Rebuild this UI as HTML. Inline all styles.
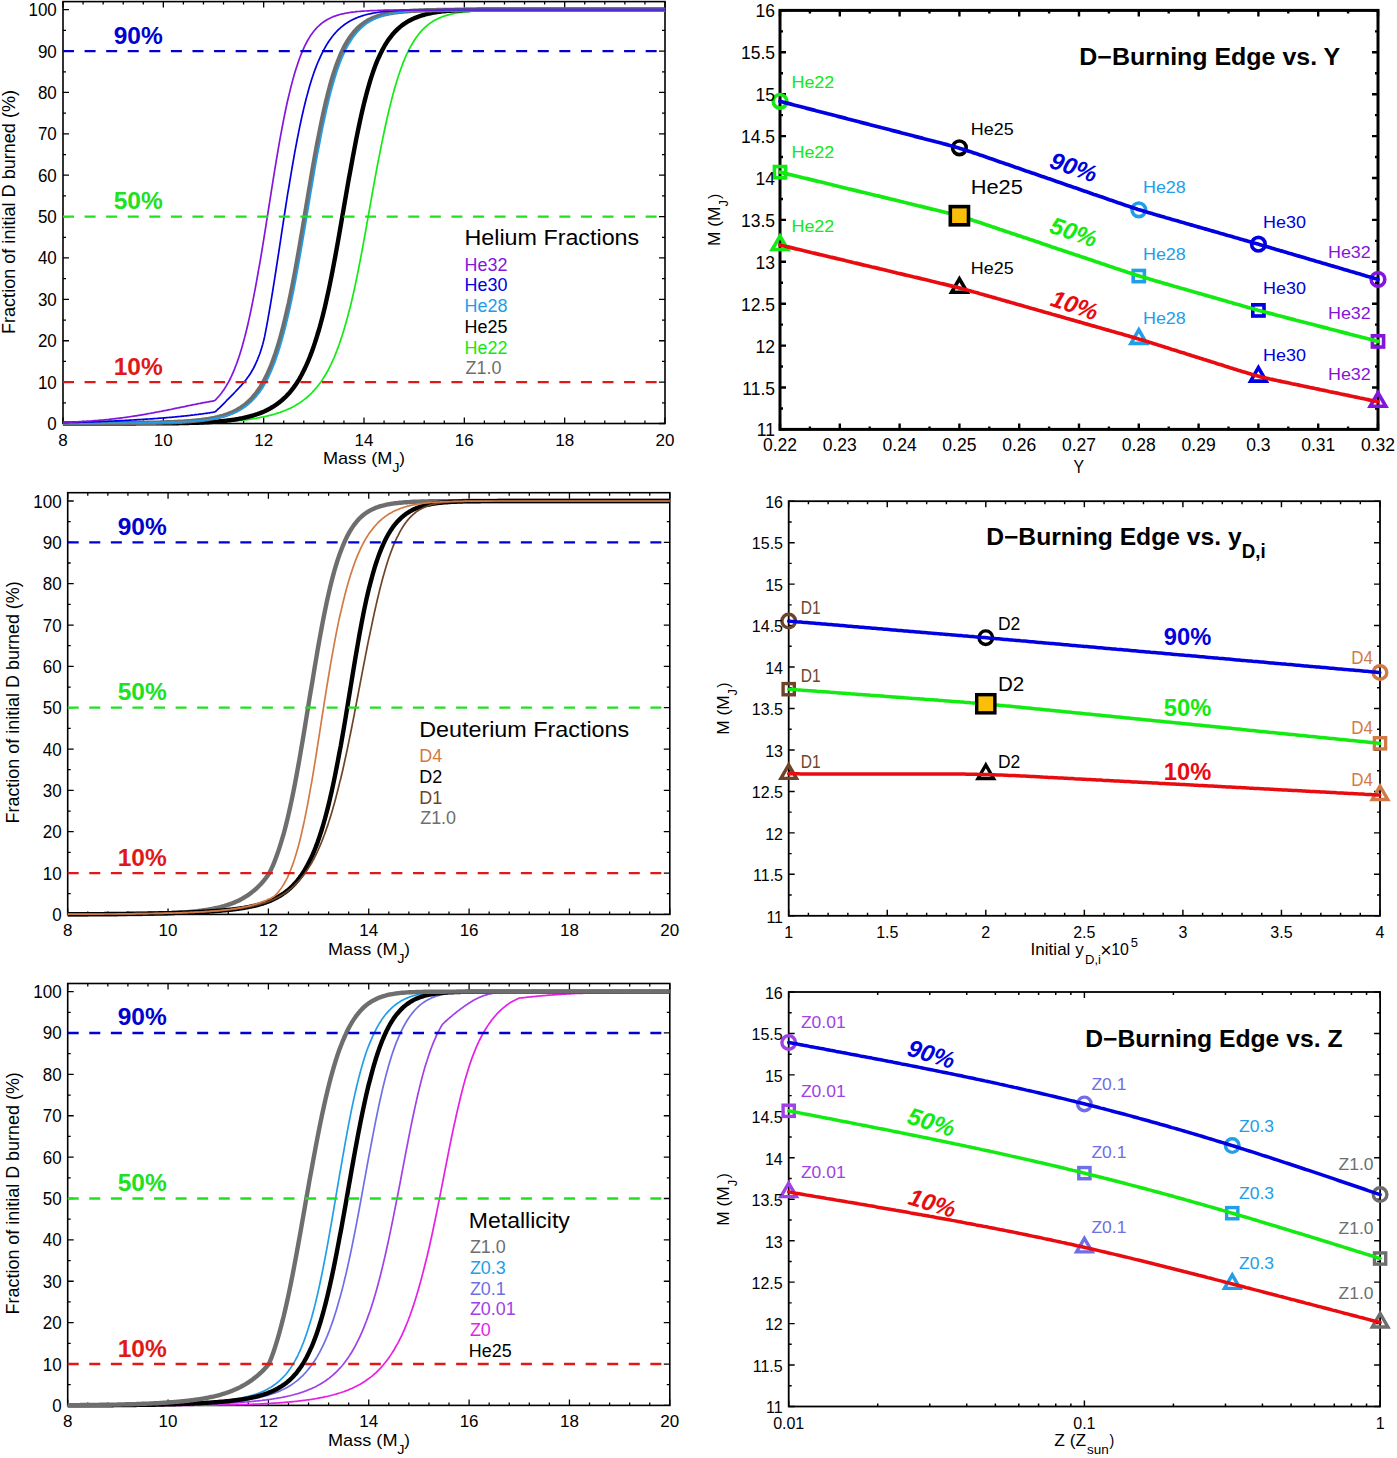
<!DOCTYPE html>
<html><head><meta charset="utf-8"><style>
html,body{margin:0;padding:0;background:#fff;width:1397px;height:1458px;overflow:hidden}
svg{display:block}
text{font-family:"Liberation Sans", sans-serif}
</style></head><body>
<svg width="1397" height="1458" viewBox="0 0 1397 1458">
<rect width="1397" height="1458" fill="#fff"/>
<defs>
<clipPath id="clip1"><rect x="63" y="-1.4" width="602" height="427.9"/></clipPath>
<clipPath id="clip492"><rect x="67.7" y="489.7" width="602.0999999999999" height="427.7"/></clipPath>
<clipPath id="clip983"><rect x="67.7" y="980.5" width="602.0999999999999" height="427.9000000000001"/></clipPath>
</defs>
<path d="M63,423.5v-6M63,1.6v6M163.33,423.5v-6M163.33,1.6v6M263.67,423.5v-6M263.67,1.6v6M364,423.5v-6M364,1.6v6M464.33,423.5v-6M464.33,1.6v6M564.67,423.5v-6M564.67,1.6v6M665,423.5v-6M665,1.6v6M83.07,423.5v-3M83.07,1.6v3M103.13,423.5v-3M103.13,1.6v3M123.2,423.5v-3M123.2,1.6v3M143.27,423.5v-3M143.27,1.6v3M183.4,423.5v-3M183.4,1.6v3M203.47,423.5v-3M203.47,1.6v3M223.53,423.5v-3M223.53,1.6v3M243.6,423.5v-3M243.6,1.6v3M283.73,423.5v-3M283.73,1.6v3M303.8,423.5v-3M303.8,1.6v3M323.87,423.5v-3M323.87,1.6v3M343.93,423.5v-3M343.93,1.6v3M384.07,423.5v-3M384.07,1.6v3M404.13,423.5v-3M404.13,1.6v3M424.2,423.5v-3M424.2,1.6v3M444.27,423.5v-3M444.27,1.6v3M484.4,423.5v-3M484.4,1.6v3M504.47,423.5v-3M504.47,1.6v3M524.53,423.5v-3M524.53,1.6v3M544.6,423.5v-3M544.6,1.6v3M584.73,423.5v-3M584.73,1.6v3M604.8,423.5v-3M604.8,1.6v3M624.87,423.5v-3M624.87,1.6v3M644.93,423.5v-3M644.93,1.6v3M63,423.5h6M665,423.5h-6M63,382.12h6M665,382.12h-6M63,340.74h6M665,340.74h-6M63,299.36h6M665,299.36h-6M63,257.98h6M665,257.98h-6M63,216.6h6M665,216.6h-6M63,175.22h6M665,175.22h-6M63,133.84h6M665,133.84h-6M63,92.46h6M665,92.46h-6M63,51.08h6M665,51.08h-6M63,9.7h6M665,9.7h-6M63,402.81h3M665,402.81h-3M63,361.43h3M665,361.43h-3M63,320.05h3M665,320.05h-3M63,278.67h3M665,278.67h-3M63,237.29h3M665,237.29h-3M63,195.91h3M665,195.91h-3M63,154.53h3M665,154.53h-3M63,113.15h3M665,113.15h-3M63,71.77h3M665,71.77h-3M63,30.39h3M665,30.39h-3" stroke="#000" stroke-width="1.28" fill="none"/>
<rect x="63" y="1.6" width="602" height="421.9" fill="none" stroke="#000" stroke-width="1.6" stroke-linejoin="miter"/>
<g clip-path="url(#clip1)">
<polyline points="63.0,423.5 64.0,423.5 65.0,423.5 66.0,423.5 67.0,423.5 68.0,423.5 69.0,423.5 70.0,423.5 71.0,423.5 72.0,423.5 73.0,423.5 74.0,423.5 75.0,423.5 76.0,423.5 77.0,423.5 78.1,423.5 79.1,423.5 80.1,423.5 81.1,423.5 82.1,423.5 83.1,423.5 84.1,423.5 85.1,423.5 86.1,423.5 87.1,423.5 88.1,423.5 89.1,423.5 90.1,423.5 91.1,423.5 92.1,423.5 93.1,423.5 94.1,423.5 95.1,423.5 96.1,423.5 97.1,423.5 98.1,423.5 99.1,423.5 100.1,423.5 101.1,423.5 102.1,423.5 103.1,423.5 104.1,423.5 105.1,423.5 106.1,423.5 107.1,423.5 108.2,423.5 109.2,423.5 110.2,423.5 111.2,423.5 112.2,423.5 113.2,423.5 114.2,423.5 115.2,423.5 116.2,423.5 117.2,423.5 118.2,423.5 119.2,423.5 120.2,423.5 121.2,423.5 122.2,423.5 123.2,423.5 124.2,423.5 125.2,423.5 126.2,423.5 127.2,423.5 128.2,423.5 129.2,423.5 130.2,423.5 131.2,423.5 132.2,423.5 133.2,423.5 134.2,423.5 135.2,423.5 136.2,423.5 137.2,423.5 138.2,423.5 139.3,423.5 140.3,423.5 141.3,423.5 142.3,423.5 143.3,423.5 144.3,423.4 145.3,423.4 146.3,423.4 147.3,423.4 148.3,423.4 149.3,423.4 150.3,423.4 151.3,423.4 152.3,423.4 153.3,423.4 154.3,423.4 155.3,423.4 156.3,423.4 157.3,423.4 158.3,423.4 159.3,423.4 160.3,423.4 161.3,423.4 162.3,423.4 163.3,423.4 164.3,423.4 165.3,423.4 166.3,423.4 167.3,423.4 168.3,423.4 169.4,423.3 170.4,423.3 171.4,423.3 172.4,423.3 173.4,423.3 174.4,423.3 175.4,423.3 176.4,423.3 177.4,423.3 178.4,423.3 179.4,423.3 180.4,423.3 181.4,423.2 182.4,423.2 183.4,423.2 184.4,423.2 185.4,423.2 186.4,423.2 187.4,423.2 188.4,423.1 189.4,423.1 190.4,423.1 191.4,423.1 192.4,423.1 193.4,423.1 194.4,423.0 195.4,423.0 196.4,423.0 197.4,423.0 198.4,423.0 199.5,422.9 200.5,422.9 201.5,422.9 202.5,422.8 203.5,422.8 204.5,422.8 205.5,422.8 206.5,422.7 207.5,422.7 208.5,422.6 209.5,422.6 210.5,422.6 211.5,422.5 212.5,422.5 213.5,422.4 214.5,422.4 215.5,422.3 216.5,422.3 217.5,422.2 218.5,422.2 219.5,422.1 220.5,422.1 221.5,422.0 222.5,421.9 223.5,421.9 224.5,421.8 225.5,421.7 226.5,421.7 227.5,421.6 228.6,421.5 229.6,421.5 230.6,421.4 231.6,421.3 232.6,421.2 233.6,421.1 234.6,421.0 235.6,420.9 236.6,420.8 237.6,420.7 238.6,420.6 239.6,420.5 240.6,420.4 241.6,420.3 242.6,420.2 243.6,420.1 244.6,420.0 245.6,419.8 246.6,419.7 247.6,419.6 248.6,419.4 249.6,419.3 250.6,419.1 251.6,419.0 252.6,418.8 253.6,418.7 254.6,418.5 255.6,418.4 256.6,418.2 257.6,418.0 258.6,417.8 259.7,417.6 260.7,417.4 261.7,417.2 262.7,417.0 263.7,416.8 264.7,416.6 265.7,416.4 266.7,416.2 267.7,415.9 268.7,415.7 269.7,415.4 270.7,415.2 271.7,414.9 272.7,414.6 273.7,414.3 274.7,414.1 275.7,413.8 276.7,413.4 277.7,413.1 278.7,412.8 279.7,412.5 280.7,412.1 281.7,411.7 282.7,411.4 283.7,411.0 284.7,410.6 285.7,410.2 286.7,409.7 287.7,409.3 288.8,408.9 289.8,408.4 290.8,407.9 291.8,407.4 292.8,406.9 293.8,406.4 294.8,405.8 295.8,405.2 296.8,404.6 297.8,404.0 298.8,403.4 299.8,402.7 300.8,402.1 301.8,401.4 302.8,400.6 303.8,399.9 304.8,399.1 305.8,398.3 306.8,397.5 307.8,396.6 308.8,395.7 309.8,394.8 310.8,393.8 311.8,392.8 312.8,391.7 313.8,390.7 314.8,389.5 315.8,388.4 316.8,387.2 317.8,385.9 318.9,384.6 319.9,383.3 320.9,381.9 321.9,380.4 322.9,378.9 323.9,377.3 324.9,375.7 325.9,374.0 326.9,372.3 327.9,370.5 328.9,368.6 329.9,366.6 330.9,364.6 331.9,362.4 332.9,360.2 333.9,358.0 334.9,355.6 335.9,353.1 336.9,350.6 337.9,347.9 338.9,345.2 339.9,342.3 340.9,339.4 341.9,336.3 342.9,333.2 343.9,329.9 344.9,326.5 345.9,323.0 346.9,319.4 347.9,315.7 348.9,311.8 350.0,307.8 351.0,303.7 352.0,299.5 353.0,295.1 354.0,290.7 355.0,286.1 356.0,281.3 357.0,276.5 358.0,271.6 359.0,266.5 360.0,261.4 361.0,256.1 362.0,250.8 363.0,245.4 364.0,239.9 365.0,234.4 366.0,228.8 367.0,223.2 368.0,217.6 369.0,212.0 370.0,206.3 371.0,200.7 372.0,195.0 373.0,189.4 374.0,183.9 375.0,178.4 376.0,172.9 377.0,167.5 378.0,162.2 379.1,156.9 380.1,151.7 381.1,146.6 382.1,141.7 383.1,136.8 384.1,132.0 385.1,127.3 386.1,122.7 387.1,118.3 388.1,113.9 389.1,109.7 390.1,105.6 391.1,101.6 392.1,97.7 393.1,93.9 394.1,90.3 395.1,86.8 396.1,83.4 397.1,80.1 398.1,77.0 399.1,73.9 400.1,71.0 401.1,68.2 402.1,65.5 403.1,62.9 404.1,60.4 405.1,58.0 406.1,55.7 407.1,53.5 408.1,51.4 409.1,49.4 410.2,47.4 411.2,45.6 412.2,43.8 413.2,42.2 414.2,40.5 415.2,39.0 416.2,37.6 417.2,36.2 418.2,34.8 419.2,33.6 420.2,32.4 421.2,31.2 422.2,30.1 423.2,29.1 424.2,28.1 425.2,27.2 426.2,26.3 427.2,25.4 428.2,24.6 429.2,23.8 430.2,23.1 431.2,22.4 432.2,21.8 433.2,21.1 434.2,20.6 435.2,20.0 436.2,19.5 437.2,18.9 438.2,18.5 439.2,18.0 440.3,17.6 441.3,17.2 442.3,16.8 443.3,16.4 444.3,16.1 445.3,15.7 446.3,15.4 447.3,15.1 448.3,14.8 449.3,14.6 450.3,14.3 451.3,14.1 452.3,13.8 453.3,13.6 454.3,13.4 455.3,13.2 456.3,13.0 457.3,12.9 458.3,12.7 459.3,12.5 460.3,12.4 461.3,12.3 462.3,12.1 463.3,12.0 464.3,11.9 465.3,11.8 466.3,11.7 467.3,11.6 468.3,11.5 469.4,11.4 470.4,11.3 471.4,11.2 472.4,11.1 473.4,11.0 474.4,11.0 475.4,10.9 476.4,10.8 477.4,10.8 478.4,10.7 479.4,10.7 480.4,10.6 481.4,10.6 482.4,10.5 483.4,10.5 484.4,10.4 485.4,10.4 486.4,10.4 487.4,10.3 488.4,10.3 489.4,10.3 490.4,10.2 491.4,10.2 492.4,10.2 493.4,10.2 494.4,10.1 495.4,10.1 496.4,10.1 497.4,10.1 498.4,10.1 499.5,10.0 500.5,10.0 501.5,10.0 502.5,10.0 503.5,10.0 504.5,10.0 505.5,9.9 506.5,9.9 507.5,9.9 508.5,9.9 509.5,9.9 510.5,9.9 511.5,9.9 512.5,9.9 513.5,9.9 514.5,9.9 515.5,9.8 516.5,9.8 517.5,9.8 518.5,9.8 519.5,9.8 520.5,9.8 521.5,9.8 522.5,9.8 523.5,9.8 524.5,9.8 525.5,9.8 526.5,9.8 527.5,9.8 528.5,9.8 529.5,9.8 530.6,9.8 531.6,9.8 532.6,9.8 533.6,9.8 534.6,9.8 535.6,9.7 536.6,9.7 537.6,9.7 538.6,9.7 539.6,9.7 540.6,9.7 541.6,9.7 542.6,9.7 543.6,9.7 544.6,9.7 545.6,9.7 546.6,9.7 547.6,9.7 548.6,9.7 549.6,9.7 550.6,9.7 551.6,9.7 552.6,9.7 553.6,9.7 554.6,9.7 555.6,9.7 556.6,9.7 557.6,9.7 558.6,9.7 559.6,9.7 560.7,9.7 561.7,9.7 562.7,9.7 563.7,9.7 564.7,9.7 565.7,9.7 566.7,9.7 567.7,9.7 568.7,9.7 569.7,9.7 570.7,9.7 571.7,9.7 572.7,9.7 573.7,9.7 574.7,9.7 575.7,9.7 576.7,9.7 577.7,9.7 578.7,9.7 579.7,9.7 580.7,9.7 581.7,9.7 582.7,9.7 583.7,9.7 584.7,9.7 585.7,9.7 586.7,9.7 587.7,9.7 588.7,9.7 589.8,9.7 590.8,9.7 591.8,9.7 592.8,9.7 593.8,9.7 594.8,9.7 595.8,9.7 596.8,9.7 597.8,9.7 598.8,9.7 599.8,9.7 600.8,9.7 601.8,9.7 602.8,9.7 603.8,9.7 604.8,9.7 605.8,9.7 606.8,9.7 607.8,9.7 608.8,9.7 609.8,9.7 610.8,9.7 611.8,9.7 612.8,9.7 613.8,9.7 614.8,9.7 615.8,9.7 616.8,9.7 617.8,9.7 618.8,9.7 619.9,9.7 620.9,9.7 621.9,9.7 622.9,9.7 623.9,9.7 624.9,9.7 625.9,9.7 626.9,9.7 627.9,9.7 628.9,9.7 629.9,9.7 630.9,9.7 631.9,9.7 632.9,9.7 633.9,9.7 634.9,9.7 635.9,9.7 636.9,9.7 637.9,9.7 638.9,9.7 639.9,9.7 640.9,9.7 641.9,9.7 642.9,9.7 643.9,9.7 644.9,9.7 645.9,9.7 646.9,9.7 647.9,9.7 648.9,9.7 650.0,9.7 651.0,9.7 652.0,9.7 653.0,9.7 654.0,9.7 655.0,9.7 656.0,9.7 657.0,9.7 658.0,9.7 659.0,9.7 660.0,9.7 661.0,9.7 662.0,9.7 663.0,9.7 664.0,9.7 665.0,9.7" fill="none" stroke="#12ea12" stroke-width="1.7" stroke-linejoin="round" stroke-linecap="round" />
<polyline points="63.0,423.5 64.0,423.5 65.0,423.5 66.0,423.5 67.0,423.5 68.0,423.5 69.0,423.5 70.0,423.5 71.0,423.5 72.0,423.5 73.0,423.5 74.0,423.5 75.0,423.5 76.0,423.5 77.0,423.5 78.1,423.5 79.1,423.5 80.1,423.5 81.1,423.5 82.1,423.5 83.1,423.5 84.1,423.5 85.1,423.5 86.1,423.5 87.1,423.5 88.1,423.5 89.1,423.5 90.1,423.5 91.1,423.5 92.1,423.5 93.1,423.5 94.1,423.5 95.1,423.5 96.1,423.5 97.1,423.5 98.1,423.5 99.1,423.5 100.1,423.5 101.1,423.5 102.1,423.5 103.1,423.5 104.1,423.5 105.1,423.5 106.1,423.5 107.1,423.5 108.2,423.5 109.2,423.5 110.2,423.5 111.2,423.5 112.2,423.5 113.2,423.5 114.2,423.5 115.2,423.5 116.2,423.5 117.2,423.5 118.2,423.5 119.2,423.5 120.2,423.5 121.2,423.5 122.2,423.5 123.2,423.5 124.2,423.5 125.2,423.5 126.2,423.5 127.2,423.5 128.2,423.5 129.2,423.5 130.2,423.5 131.2,423.5 132.2,423.5 133.2,423.5 134.2,423.5 135.2,423.5 136.2,423.4 137.2,423.4 138.2,423.4 139.3,423.4 140.3,423.4 141.3,423.4 142.3,423.4 143.3,423.4 144.3,423.4 145.3,423.4 146.3,423.4 147.3,423.4 148.3,423.4 149.3,423.4 150.3,423.4 151.3,423.4 152.3,423.4 153.3,423.4 154.3,423.4 155.3,423.4 156.3,423.4 157.3,423.4 158.3,423.4 159.3,423.4 160.3,423.3 161.3,423.3 162.3,423.3 163.3,423.3 164.3,423.3 165.3,423.3 166.3,423.3 167.3,423.3 168.3,423.3 169.4,423.3 170.4,423.3 171.4,423.3 172.4,423.2 173.4,423.2 174.4,423.2 175.4,423.2 176.4,423.2 177.4,423.2 178.4,423.2 179.4,423.1 180.4,423.1 181.4,423.1 182.4,423.1 183.4,423.1 184.4,423.1 185.4,423.0 186.4,423.0 187.4,423.0 188.4,423.0 189.4,422.9 190.4,422.9 191.4,422.9 192.4,422.9 193.4,422.8 194.4,422.8 195.4,422.8 196.4,422.7 197.4,422.7 198.4,422.7 199.5,422.6 200.5,422.6 201.5,422.6 202.5,422.5 203.5,422.5 204.5,422.4 205.5,422.4 206.5,422.3 207.5,422.3 208.5,422.2 209.5,422.1 210.5,422.1 211.5,422.0 212.5,421.9 213.5,421.9 214.5,421.8 215.5,421.7 216.5,421.6 217.5,421.6 218.5,421.5 219.5,421.4 220.5,421.3 221.5,421.2 222.5,421.1 223.5,421.0 224.5,420.9 225.5,420.8 226.5,420.7 227.5,420.5 228.6,420.4 229.6,420.3 230.6,420.1 231.6,420.0 232.6,419.9 233.6,419.7 234.6,419.6 235.6,419.4 236.6,419.2 237.6,419.1 238.6,418.9 239.6,418.7 240.6,418.5 241.6,418.3 242.6,418.1 243.6,417.9 244.6,417.7 245.6,417.5 246.6,417.2 247.6,417.0 248.6,416.7 249.6,416.5 250.6,416.2 251.6,415.9 252.6,415.6 253.6,415.3 254.6,415.0 255.6,414.7 256.6,414.3 257.6,414.0 258.6,413.6 259.7,413.3 260.7,412.9 261.7,412.5 262.7,412.1 263.7,411.6 264.7,411.2 265.7,410.7 266.7,410.2 267.7,409.7 268.7,409.2 269.7,408.7 270.7,408.1 271.7,407.5 272.7,406.9 273.7,406.3 274.7,405.7 275.7,405.0 276.7,404.3 277.7,403.6 278.7,402.8 279.7,402.1 280.7,401.2 281.7,400.4 282.7,399.5 283.7,398.6 284.7,397.7 285.7,396.7 286.7,395.7 287.7,394.6 288.8,393.5 289.8,392.4 290.8,391.2 291.8,389.9 292.8,388.6 293.8,387.3 294.8,385.9 295.8,384.5 296.8,383.0 297.8,381.4 298.8,379.8 299.8,378.1 300.8,376.3 301.8,374.5 302.8,372.6 303.8,370.6 304.8,368.5 305.8,366.4 306.8,364.2 307.8,361.9 308.8,359.5 309.8,357.0 310.8,354.4 311.8,351.8 312.8,349.0 313.8,346.1 314.8,343.1 315.8,340.0 316.8,336.8 317.8,333.5 318.9,330.0 319.9,326.5 320.9,322.8 321.9,319.0 322.9,315.1 323.9,311.0 324.9,306.9 325.9,302.5 326.9,298.1 327.9,293.6 328.9,288.9 329.9,284.1 330.9,279.1 331.9,274.1 332.9,268.9 333.9,263.7 334.9,258.3 335.9,252.9 336.9,247.4 337.9,241.8 338.9,236.1 339.9,230.4 340.9,224.6 341.9,218.8 342.9,213.0 343.9,207.2 344.9,201.4 345.9,195.6 346.9,189.8 347.9,184.0 348.9,178.3 350.0,172.7 351.0,167.1 352.0,161.6 353.0,156.2 354.0,150.8 355.0,145.6 356.0,140.4 357.0,135.4 358.0,130.5 359.0,125.7 360.0,121.0 361.0,116.4 362.0,112.0 363.0,107.7 364.0,103.6 365.0,99.6 366.0,95.7 367.0,91.9 368.0,88.3 369.0,84.8 370.0,81.4 371.0,78.2 372.0,75.1 373.0,72.1 374.0,69.3 375.0,66.5 376.0,63.9 377.0,61.4 378.0,59.0 379.1,56.7 380.1,54.5 381.1,52.5 382.1,50.5 383.1,48.6 384.1,46.8 385.1,45.0 386.1,43.4 387.1,41.8 388.1,40.3 389.1,38.9 390.1,37.6 391.1,36.3 392.1,35.0 393.1,33.8 394.1,32.7 395.1,31.6 396.1,30.6 397.1,29.6 398.1,28.7 399.1,27.8 400.1,26.9 401.1,26.1 402.1,25.3 403.1,24.6 404.1,23.9 405.1,23.2 406.1,22.6 407.1,21.9 408.1,21.3 409.1,20.8 410.2,20.2 411.2,19.7 412.2,19.2 413.2,18.8 414.2,18.3 415.2,17.9 416.2,17.5 417.2,17.1 418.2,16.7 419.2,16.3 420.2,16.0 421.2,15.7 422.2,15.3 423.2,15.0 424.2,14.8 425.2,14.5 426.2,14.2 427.2,14.0 428.2,13.7 429.2,13.5 430.2,13.3 431.2,13.1 432.2,12.9 433.2,12.7 434.2,12.5 435.2,12.4 436.2,12.2 437.2,12.1 438.2,11.9 439.2,11.8 440.3,11.7 441.3,11.5 442.3,11.4 443.3,11.3 444.3,11.2 445.3,11.1 446.3,11.0 447.3,10.9 448.3,10.8 449.3,10.8 450.3,10.7 451.3,10.6 452.3,10.6 453.3,10.5 454.3,10.4 455.3,10.4 456.3,10.3 457.3,10.3 458.3,10.3 459.3,10.2 460.3,10.2 461.3,10.2 462.3,10.1 463.3,10.1 464.3,10.1 465.3,10.0 466.3,10.0 467.3,10.0 468.3,10.0 469.4,10.0 470.4,9.9 471.4,9.9 472.4,9.9 473.4,9.9 474.4,9.9 475.4,9.9 476.4,9.9 477.4,9.8 478.4,9.8 479.4,9.8 480.4,9.8 481.4,9.8 482.4,9.8 483.4,9.8 484.4,9.8 485.4,9.8 486.4,9.8 487.4,9.8 488.4,9.8 489.4,9.8 490.4,9.8 491.4,9.8 492.4,9.7 493.4,9.7 494.4,9.7 495.4,9.7 496.4,9.7 497.4,9.7 498.4,9.7 499.5,9.7 500.5,9.7 501.5,9.7 502.5,9.7 503.5,9.7 504.5,9.7 505.5,9.7 506.5,9.7 507.5,9.7 508.5,9.7 509.5,9.7 510.5,9.7 511.5,9.7 512.5,9.7 513.5,9.7 514.5,9.7 515.5,9.7 516.5,9.7 517.5,9.7 518.5,9.7 519.5,9.7 520.5,9.7 521.5,9.7 522.5,9.7 523.5,9.7 524.5,9.7 525.5,9.7 526.5,9.7 527.5,9.7 528.5,9.7 529.5,9.7 530.6,9.7 531.6,9.7 532.6,9.7 533.6,9.7 534.6,9.7 535.6,9.7 536.6,9.7 537.6,9.7 538.6,9.7 539.6,9.7 540.6,9.7 541.6,9.7 542.6,9.7 543.6,9.7 544.6,9.7 545.6,9.7 546.6,9.7 547.6,9.7 548.6,9.7 549.6,9.7 550.6,9.7 551.6,9.7 552.6,9.7 553.6,9.7 554.6,9.7 555.6,9.7 556.6,9.7 557.6,9.7 558.6,9.7 559.6,9.7 560.7,9.7 561.7,9.7 562.7,9.7 563.7,9.7 564.7,9.7 565.7,9.7 566.7,9.7 567.7,9.7 568.7,9.7 569.7,9.7 570.7,9.7 571.7,9.7 572.7,9.7 573.7,9.7 574.7,9.7 575.7,9.7 576.7,9.7 577.7,9.7 578.7,9.7 579.7,9.7 580.7,9.7 581.7,9.7 582.7,9.7 583.7,9.7 584.7,9.7 585.7,9.7 586.7,9.7 587.7,9.7 588.7,9.7 589.8,9.7 590.8,9.7 591.8,9.7 592.8,9.7 593.8,9.7 594.8,9.7 595.8,9.7 596.8,9.7 597.8,9.7 598.8,9.7 599.8,9.7 600.8,9.7 601.8,9.7 602.8,9.7 603.8,9.7 604.8,9.7 605.8,9.7 606.8,9.7 607.8,9.7 608.8,9.7 609.8,9.7 610.8,9.7 611.8,9.7 612.8,9.7 613.8,9.7 614.8,9.7 615.8,9.7 616.8,9.7 617.8,9.7 618.8,9.7 619.9,9.7 620.9,9.7 621.9,9.7 622.9,9.7 623.9,9.7 624.9,9.7 625.9,9.7 626.9,9.7 627.9,9.7 628.9,9.7 629.9,9.7 630.9,9.7 631.9,9.7 632.9,9.7 633.9,9.7 634.9,9.7 635.9,9.7 636.9,9.7 637.9,9.7 638.9,9.7 639.9,9.7 640.9,9.7 641.9,9.7 642.9,9.7 643.9,9.7 644.9,9.7 645.9,9.7 646.9,9.7 647.9,9.7 648.9,9.7 650.0,9.7 651.0,9.7 652.0,9.7 653.0,9.7 654.0,9.7 655.0,9.7 656.0,9.7 657.0,9.7 658.0,9.7 659.0,9.7 660.0,9.7 661.0,9.7 662.0,9.7 663.0,9.7 664.0,9.7 665.0,9.7" fill="none" stroke="#000000" stroke-width="4.4" stroke-linejoin="round" stroke-linecap="round" />
<polyline points="63.0,423.4 64.0,423.4 65.0,423.4 66.0,423.4 67.0,423.4 68.0,423.4 69.0,423.4 70.0,423.4 71.0,423.4 72.0,423.4 73.0,423.4 74.0,423.4 75.0,423.4 76.0,423.4 77.0,423.4 78.1,423.4 79.1,423.4 80.1,423.4 81.1,423.4 82.1,423.4 83.1,423.4 84.1,423.4 85.1,423.4 86.1,423.4 87.1,423.4 88.1,423.4 89.1,423.4 90.1,423.4 91.1,423.4 92.1,423.4 93.1,423.4 94.1,423.4 95.1,423.3 96.1,423.3 97.1,423.3 98.1,423.3 99.1,423.3 100.1,423.3 101.1,423.3 102.1,423.3 103.1,423.3 104.1,423.3 105.1,423.3 106.1,423.3 107.1,423.3 108.2,423.3 109.2,423.3 110.2,423.3 111.2,423.3 112.2,423.3 113.2,423.2 114.2,423.2 115.2,423.2 116.2,423.2 117.2,423.2 118.2,423.2 119.2,423.2 120.2,423.2 121.2,423.2 122.2,423.2 123.2,423.2 124.2,423.2 125.2,423.1 126.2,423.1 127.2,423.1 128.2,423.1 129.2,423.1 130.2,423.1 131.2,423.1 132.2,423.1 133.2,423.1 134.2,423.0 135.2,423.0 136.2,423.0 137.2,423.0 138.2,423.0 139.3,423.0 140.3,423.0 141.3,422.9 142.3,422.9 143.3,422.9 144.3,422.9 145.3,422.9 146.3,422.8 147.3,422.8 148.3,422.8 149.3,422.8 150.3,422.8 151.3,422.7 152.3,422.7 153.3,422.7 154.3,422.7 155.3,422.7 156.3,422.6 157.3,422.6 158.3,422.6 159.3,422.6 160.3,422.5 161.3,422.5 162.3,422.5 163.3,422.4 164.3,422.4 165.3,422.4 166.3,422.3 167.3,422.3 168.3,422.3 169.4,422.2 170.4,422.2 171.4,422.2 172.4,422.1 173.4,422.1 174.4,422.0 175.4,422.0 176.4,421.9 177.4,421.9 178.4,421.8 179.4,421.8 180.4,421.7 181.4,421.7 182.4,421.6 183.4,421.6 184.4,421.5 185.4,421.4 186.4,421.4 187.4,421.3 188.4,421.2 189.4,421.1 190.4,421.1 191.4,421.0 192.4,420.9 193.4,420.8 194.4,420.7 195.4,420.6 196.4,420.5 197.4,420.4 198.4,420.3 199.5,420.2 200.5,420.1 201.5,420.0 202.5,419.8 203.5,419.7 204.5,419.6 205.5,419.4 206.5,419.3 207.5,419.1 208.5,419.0 209.5,418.8 210.5,418.6 211.5,418.4 212.5,418.3 213.5,418.1 214.5,417.9 215.5,417.6 216.5,417.4 217.5,417.2 218.5,416.9 219.5,416.7 220.5,416.4 221.5,416.1 222.5,415.9 223.5,415.6 224.5,415.2 225.5,414.9 226.5,414.6 227.5,414.2 228.6,413.8 229.6,413.4 230.6,413.0 231.6,412.6 232.6,412.2 233.6,411.7 234.6,411.2 235.6,410.7 236.6,410.2 237.6,409.6 238.6,409.0 239.6,408.4 240.6,407.8 241.6,407.1 242.6,406.4 243.6,405.7 244.6,404.9 245.6,404.1 246.6,403.3 247.6,402.4 248.6,401.5 249.6,400.5 250.6,399.5 251.6,398.5 252.6,397.4 253.6,396.2 254.6,395.0 255.6,393.8 256.6,392.5 257.6,391.1 258.6,389.6 259.7,388.1 260.7,386.6 261.7,384.9 262.7,383.2 263.7,381.4 264.7,379.6 265.7,377.6 266.7,375.6 267.7,373.4 268.7,371.2 269.7,368.9 270.7,366.5 271.7,364.0 272.7,361.4 273.7,358.6 274.7,355.8 275.7,352.9 276.7,349.8 277.7,346.6 278.7,343.3 279.7,339.9 280.7,336.3 281.7,332.6 282.7,328.8 283.7,324.9 284.7,320.8 285.7,316.6 286.7,312.3 287.7,307.8 288.8,303.2 289.8,298.5 290.8,293.7 291.8,288.7 292.8,283.6 293.8,278.4 294.8,273.1 295.8,267.6 296.8,262.1 297.8,256.5 298.8,250.8 299.8,245.0 300.8,239.2 301.8,233.3 302.8,227.4 303.8,221.4 304.8,215.4 305.8,209.4 306.8,203.4 307.8,197.4 308.8,191.4 309.8,185.5 310.8,179.6 311.8,173.7 312.8,167.9 313.8,162.2 314.8,156.6 315.8,151.1 316.8,145.6 317.8,140.3 318.9,135.1 319.9,130.0 320.9,125.0 321.9,120.1 322.9,115.4 323.9,110.8 324.9,106.4 325.9,102.1 326.9,97.9 327.9,93.9 328.9,90.0 329.9,86.3 330.9,82.7 331.9,79.2 332.9,75.9 333.9,72.7 334.9,69.6 335.9,66.7 336.9,63.9 337.9,61.2 338.9,58.7 339.9,56.2 340.9,53.9 341.9,51.7 342.9,49.6 343.9,47.6 344.9,45.6 345.9,43.8 346.9,42.1 347.9,40.4 348.9,38.9 350.0,37.4 351.0,36.0 352.0,34.6 353.0,33.4 354.0,32.1 355.0,31.0 356.0,29.9 357.0,28.9 358.0,27.9 359.0,27.0 360.0,26.1 361.0,25.2 362.0,24.5 363.0,23.7 364.0,23.0 365.0,22.3 366.0,21.7 367.0,21.1 368.0,20.5 369.0,19.9 370.0,19.4 371.0,18.9 372.0,18.5 373.0,18.0 374.0,17.6 375.0,17.2 376.0,16.8 377.0,16.5 378.0,16.1 379.1,15.8 380.1,15.5 381.1,15.2 382.1,14.9 383.1,14.7 384.1,14.4 385.1,14.2 386.1,14.0 387.1,13.8 388.1,13.6 389.1,13.4 390.1,13.2 391.1,13.0 392.1,12.9 393.1,12.7 394.1,12.5 395.1,12.4 396.1,12.3 397.1,12.2 398.1,12.0 399.1,11.9 400.1,11.8 401.1,11.7 402.1,11.6 403.1,11.5 404.1,11.4 405.1,11.3 406.1,11.3 407.1,11.2 408.1,11.1 409.1,11.1 410.2,11.0 411.2,10.9 412.2,10.9 413.2,10.8 414.2,10.8 415.2,10.7 416.2,10.7 417.2,10.6 418.2,10.6 419.2,10.5 420.2,10.5 421.2,10.5 422.2,10.4 423.2,10.4 424.2,10.4 425.2,10.3 426.2,10.3 427.2,10.3 428.2,10.2 429.2,10.2 430.2,10.2 431.2,10.2 432.2,10.1 433.2,10.1 434.2,10.1 435.2,10.1 436.2,10.1 437.2,10.0 438.2,10.0 439.2,10.0 440.3,10.0 441.3,10.0 442.3,10.0 443.3,10.0 444.3,9.9 445.3,9.9 446.3,9.9 447.3,9.9 448.3,9.9 449.3,9.9 450.3,9.9 451.3,9.9 452.3,9.9 453.3,9.9 454.3,9.9 455.3,9.8 456.3,9.8 457.3,9.8 458.3,9.8 459.3,9.8 460.3,9.8 461.3,9.8 462.3,9.8 463.3,9.8 464.3,9.8 465.3,9.8 466.3,9.8 467.3,9.8 468.3,9.8 469.4,9.8 470.4,9.8 471.4,9.8 472.4,9.8 473.4,9.8 474.4,9.8 475.4,9.8 476.4,9.8 477.4,9.7 478.4,9.7 479.4,9.7 480.4,9.7 481.4,9.7 482.4,9.7 483.4,9.7 484.4,9.7 485.4,9.7 486.4,9.7 487.4,9.7 488.4,9.7 489.4,9.7 490.4,9.7 491.4,9.7 492.4,9.7 493.4,9.7 494.4,9.7 495.4,9.7 496.4,9.7 497.4,9.7 498.4,9.7 499.5,9.7 500.5,9.7 501.5,9.7 502.5,9.7 503.5,9.7 504.5,9.7 505.5,9.7 506.5,9.7 507.5,9.7 508.5,9.7 509.5,9.7 510.5,9.7 511.5,9.7 512.5,9.7 513.5,9.7 514.5,9.7 515.5,9.7 516.5,9.7 517.5,9.7 518.5,9.7 519.5,9.7 520.5,9.7 521.5,9.7 522.5,9.7 523.5,9.7 524.5,9.7 525.5,9.7 526.5,9.7 527.5,9.7 528.5,9.7 529.5,9.7 530.6,9.7 531.6,9.7 532.6,9.7 533.6,9.7 534.6,9.7 535.6,9.7 536.6,9.7 537.6,9.7 538.6,9.7 539.6,9.7 540.6,9.7 541.6,9.7 542.6,9.7 543.6,9.7 544.6,9.7 545.6,9.7 546.6,9.7 547.6,9.7 548.6,9.7 549.6,9.7 550.6,9.7 551.6,9.7 552.6,9.7 553.6,9.7 554.6,9.7 555.6,9.7 556.6,9.7 557.6,9.7 558.6,9.7 559.6,9.7 560.7,9.7 561.7,9.7 562.7,9.7 563.7,9.7 564.7,9.7 565.7,9.7 566.7,9.7 567.7,9.7 568.7,9.7 569.7,9.7 570.7,9.7 571.7,9.7 572.7,9.7 573.7,9.7 574.7,9.7 575.7,9.7 576.7,9.7 577.7,9.7 578.7,9.7 579.7,9.7 580.7,9.7 581.7,9.7 582.7,9.7 583.7,9.7 584.7,9.7 585.7,9.7 586.7,9.7 587.7,9.7 588.7,9.7 589.8,9.7 590.8,9.7 591.8,9.7 592.8,9.7 593.8,9.7 594.8,9.7 595.8,9.7 596.8,9.7 597.8,9.7 598.8,9.7 599.8,9.7 600.8,9.7 601.8,9.7 602.8,9.7 603.8,9.7 604.8,9.7 605.8,9.7 606.8,9.7 607.8,9.7 608.8,9.7 609.8,9.7 610.8,9.7 611.8,9.7 612.8,9.7 613.8,9.7 614.8,9.7 615.8,9.7 616.8,9.7 617.8,9.7 618.8,9.7 619.9,9.7 620.9,9.7 621.9,9.7 622.9,9.7 623.9,9.7 624.9,9.7 625.9,9.7 626.9,9.7 627.9,9.7 628.9,9.7 629.9,9.7 630.9,9.7 631.9,9.7 632.9,9.7 633.9,9.7 634.9,9.7 635.9,9.7 636.9,9.7 637.9,9.7 638.9,9.7 639.9,9.7 640.9,9.7 641.9,9.7 642.9,9.7 643.9,9.7 644.9,9.7 645.9,9.7 646.9,9.7 647.9,9.7 648.9,9.7 650.0,9.7 651.0,9.7 652.0,9.7 653.0,9.7 654.0,9.7 655.0,9.7 656.0,9.7 657.0,9.7 658.0,9.7 659.0,9.7 660.0,9.7 661.0,9.7 662.0,9.7 663.0,9.7 664.0,9.7 665.0,9.7" fill="none" stroke="#6e6e6e" stroke-width="4.4" stroke-linejoin="round" stroke-linecap="round" />
<polyline points="63.0,423.4 64.0,423.4 65.0,423.4 66.0,423.4 67.0,423.4 68.0,423.4 69.0,423.4 70.0,423.4 71.0,423.4 72.0,423.4 73.0,423.4 74.0,423.4 75.0,423.4 76.0,423.4 77.0,423.4 78.1,423.4 79.1,423.4 80.1,423.3 81.1,423.3 82.1,423.3 83.1,423.3 84.1,423.3 85.1,423.3 86.1,423.3 87.1,423.3 88.1,423.3 89.1,423.3 90.1,423.3 91.1,423.3 92.1,423.3 93.1,423.3 94.1,423.3 95.1,423.3 96.1,423.3 97.1,423.3 98.1,423.3 99.1,423.3 100.1,423.3 101.1,423.3 102.1,423.2 103.1,423.2 104.1,423.2 105.1,423.2 106.1,423.2 107.1,423.2 108.2,423.2 109.2,423.2 110.2,423.2 111.2,423.2 112.2,423.2 113.2,423.2 114.2,423.2 115.2,423.2 116.2,423.1 117.2,423.1 118.2,423.1 119.2,423.1 120.2,423.1 121.2,423.1 122.2,423.1 123.2,423.1 124.2,423.1 125.2,423.1 126.2,423.1 127.2,423.0 128.2,423.0 129.2,423.0 130.2,423.0 131.2,423.0 132.2,423.0 133.2,423.0 134.2,423.0 135.2,423.0 136.2,422.9 137.2,422.9 138.2,422.9 139.3,422.9 140.3,422.9 141.3,422.9 142.3,422.9 143.3,422.8 144.3,422.8 145.3,422.8 146.3,422.8 147.3,422.8 148.3,422.8 149.3,422.7 150.3,422.7 151.3,422.7 152.3,422.7 153.3,422.7 154.3,422.6 155.3,422.6 156.3,422.6 157.3,422.6 158.3,422.6 159.3,422.5 160.3,422.5 161.3,422.5 162.3,422.5 163.3,422.4 164.3,422.4 165.3,422.4 166.3,422.4 167.3,422.3 168.3,422.3 169.4,422.3 170.4,422.2 171.4,422.2 172.4,422.2 173.4,422.1 174.4,422.1 175.4,422.1 176.4,422.0 177.4,422.0 178.4,421.9 179.4,421.9 180.4,421.9 181.4,421.8 182.4,421.8 183.4,421.7 184.4,421.7 185.4,421.6 186.4,421.6 187.4,421.5 188.4,421.4 189.4,421.4 190.4,421.3 191.4,421.2 192.4,421.2 193.4,421.1 194.4,421.0 195.4,420.9 196.4,420.8 197.4,420.8 198.4,420.7 199.5,420.6 200.5,420.5 201.5,420.4 202.5,420.3 203.5,420.2 204.5,420.0 205.5,419.9 206.5,419.8 207.5,419.7 208.5,419.5 209.5,419.4 210.5,419.2 211.5,419.1 212.5,418.9 213.5,418.7 214.5,418.6 215.5,418.4 216.5,418.2 217.5,418.0 218.5,417.8 219.5,417.6 220.5,417.3 221.5,417.1 222.5,416.8 223.5,416.6 224.5,416.3 225.5,416.0 226.5,415.7 227.5,415.4 228.6,415.1 229.6,414.7 230.6,414.4 231.6,414.0 232.6,413.6 233.6,413.2 234.6,412.8 235.6,412.3 236.6,411.9 237.6,411.4 238.6,410.9 239.6,410.3 240.6,409.8 241.6,409.2 242.6,408.6 243.6,407.9 244.6,407.2 245.6,406.5 246.6,405.8 247.6,405.0 248.6,404.2 249.6,403.3 250.6,402.4 251.6,401.5 252.6,400.5 253.6,399.5 254.6,398.4 255.6,397.3 256.6,396.1 257.6,394.8 258.6,393.5 259.7,392.2 260.7,390.8 261.7,389.3 262.7,387.7 263.7,386.1 264.7,384.4 265.7,382.6 266.7,380.8 267.7,378.8 268.7,376.8 269.7,374.7 270.7,372.5 271.7,370.1 272.7,367.7 273.7,365.2 274.7,362.6 275.7,359.9 276.7,357.0 277.7,354.1 278.7,351.0 279.7,347.8 280.7,344.5 281.7,341.1 282.7,337.5 283.7,333.8 284.7,330.0 285.7,326.1 286.7,322.0 287.7,317.8 288.8,313.4 289.8,308.9 290.8,304.3 291.8,299.6 292.8,294.8 293.8,289.8 294.8,284.7 295.8,279.5 296.8,274.1 297.8,268.7 298.8,263.2 299.8,257.6 300.8,251.9 301.8,246.1 302.8,240.3 303.8,234.4 304.8,228.5 305.8,222.6 306.8,216.6 307.8,210.6 308.8,204.6 309.8,198.7 310.8,192.7 311.8,186.8 312.8,181.0 313.8,175.2 314.8,169.4 315.8,163.7 316.8,158.2 317.8,152.7 318.9,147.3 319.9,142.0 320.9,136.8 321.9,131.7 322.9,126.8 323.9,122.0 324.9,117.3 325.9,112.7 326.9,108.3 327.9,104.0 328.9,99.9 329.9,95.9 330.9,92.0 331.9,88.3 332.9,84.7 333.9,81.2 334.9,77.9 335.9,74.7 336.9,71.6 337.9,68.7 338.9,65.9 339.9,63.2 340.9,60.6 341.9,58.2 342.9,55.8 343.9,53.6 344.9,51.4 345.9,49.4 346.9,47.4 347.9,45.6 348.9,43.8 350.0,42.2 351.0,40.6 352.0,39.0 353.0,37.6 354.0,36.2 355.0,34.9 356.0,33.7 357.0,32.5 358.0,31.4 359.0,30.3 360.0,29.3 361.0,28.3 362.0,27.4 363.0,26.5 364.0,25.7 365.0,24.9 366.0,24.1 367.0,23.4 368.0,22.7 369.0,22.1 370.0,21.5 371.0,20.9 372.0,20.4 373.0,19.8 374.0,19.3 375.0,18.9 376.0,18.4 377.0,18.0 378.0,17.6 379.1,17.2 380.1,16.8 381.1,16.5 382.1,16.1 383.1,15.8 384.1,15.5 385.1,15.2 386.1,15.0 387.1,14.7 388.1,14.5 389.1,14.2 390.1,14.0 391.1,13.8 392.1,13.6 393.1,13.4 394.1,13.2 395.1,13.0 396.1,12.9 397.1,12.7 398.1,12.6 399.1,12.4 400.1,12.3 401.1,12.2 402.1,12.1 403.1,11.9 404.1,11.8 405.1,11.7 406.1,11.6 407.1,11.5 408.1,11.4 409.1,11.3 410.2,11.3 411.2,11.2 412.2,11.1 413.2,11.0 414.2,11.0 415.2,10.9 416.2,10.9 417.2,10.8 418.2,10.7 419.2,10.7 420.2,10.6 421.2,10.6 422.2,10.5 423.2,10.5 424.2,10.5 425.2,10.4 426.2,10.4 427.2,10.4 428.2,10.3 429.2,10.3 430.2,10.3 431.2,10.2 432.2,10.2 433.2,10.2 434.2,10.2 435.2,10.1 436.2,10.1 437.2,10.1 438.2,10.1 439.2,10.1 440.3,10.0 441.3,10.0 442.3,10.0 443.3,10.0 444.3,10.0 445.3,10.0 446.3,9.9 447.3,9.9 448.3,9.9 449.3,9.9 450.3,9.9 451.3,9.9 452.3,9.9 453.3,9.9 454.3,9.9 455.3,9.9 456.3,9.8 457.3,9.8 458.3,9.8 459.3,9.8 460.3,9.8 461.3,9.8 462.3,9.8 463.3,9.8 464.3,9.8 465.3,9.8 466.3,9.8 467.3,9.8 468.3,9.8 469.4,9.8 470.4,9.8 471.4,9.8 472.4,9.8 473.4,9.8 474.4,9.8 475.4,9.8 476.4,9.8 477.4,9.8 478.4,9.7 479.4,9.7 480.4,9.7 481.4,9.7 482.4,9.7 483.4,9.7 484.4,9.7 485.4,9.7 486.4,9.7 487.4,9.7 488.4,9.7 489.4,9.7 490.4,9.7 491.4,9.7 492.4,9.7 493.4,9.7 494.4,9.7 495.4,9.7 496.4,9.7 497.4,9.7 498.4,9.7 499.5,9.7 500.5,9.7 501.5,9.7 502.5,9.7 503.5,9.7 504.5,9.7 505.5,9.7 506.5,9.7 507.5,9.7 508.5,9.7 509.5,9.7 510.5,9.7 511.5,9.7 512.5,9.7 513.5,9.7 514.5,9.7 515.5,9.7 516.5,9.7 517.5,9.7 518.5,9.7 519.5,9.7 520.5,9.7 521.5,9.7 522.5,9.7 523.5,9.7 524.5,9.7 525.5,9.7 526.5,9.7 527.5,9.7 528.5,9.7 529.5,9.7 530.6,9.7 531.6,9.7 532.6,9.7 533.6,9.7 534.6,9.7 535.6,9.7 536.6,9.7 537.6,9.7 538.6,9.7 539.6,9.7 540.6,9.7 541.6,9.7 542.6,9.7 543.6,9.7 544.6,9.7 545.6,9.7 546.6,9.7 547.6,9.7 548.6,9.7 549.6,9.7 550.6,9.7 551.6,9.7 552.6,9.7 553.6,9.7 554.6,9.7 555.6,9.7 556.6,9.7 557.6,9.7 558.6,9.7 559.6,9.7 560.7,9.7 561.7,9.7 562.7,9.7 563.7,9.7 564.7,9.7 565.7,9.7 566.7,9.7 567.7,9.7 568.7,9.7 569.7,9.7 570.7,9.7 571.7,9.7 572.7,9.7 573.7,9.7 574.7,9.7 575.7,9.7 576.7,9.7 577.7,9.7 578.7,9.7 579.7,9.7 580.7,9.7 581.7,9.7 582.7,9.7 583.7,9.7 584.7,9.7 585.7,9.7 586.7,9.7 587.7,9.7 588.7,9.7 589.8,9.7 590.8,9.7 591.8,9.7 592.8,9.7 593.8,9.7 594.8,9.7 595.8,9.7 596.8,9.7 597.8,9.7 598.8,9.7 599.8,9.7 600.8,9.7 601.8,9.7 602.8,9.7 603.8,9.7 604.8,9.7 605.8,9.7 606.8,9.7 607.8,9.7 608.8,9.7 609.8,9.7 610.8,9.7 611.8,9.7 612.8,9.7 613.8,9.7 614.8,9.7 615.8,9.7 616.8,9.7 617.8,9.7 618.8,9.7 619.9,9.7 620.9,9.7 621.9,9.7 622.9,9.7 623.9,9.7 624.9,9.7 625.9,9.7 626.9,9.7 627.9,9.7 628.9,9.7 629.9,9.7 630.9,9.7 631.9,9.7 632.9,9.7 633.9,9.7 634.9,9.7 635.9,9.7 636.9,9.7 637.9,9.7 638.9,9.7 639.9,9.7 640.9,9.7 641.9,9.7 642.9,9.7 643.9,9.7 644.9,9.7 645.9,9.7 646.9,9.7 647.9,9.7 648.9,9.7 650.0,9.7 651.0,9.7 652.0,9.7 653.0,9.7 654.0,9.7 655.0,9.7 656.0,9.7 657.0,9.7 658.0,9.7 659.0,9.7 660.0,9.7 661.0,9.7 662.0,9.7 663.0,9.7 664.0,9.7 665.0,9.7" fill="none" stroke="#229ee8" stroke-width="1.7" stroke-linejoin="round" stroke-linecap="round" />
<polyline points="63.0,422.7 64.0,422.7 65.0,422.6 66.0,422.6 67.0,422.6 68.0,422.6 69.0,422.5 70.0,422.5 71.0,422.5 72.0,422.5 73.0,422.4 74.0,422.4 75.0,422.4 76.0,422.4 77.0,422.3 78.1,422.3 79.1,422.3 80.1,422.2 81.1,422.2 82.1,422.2 83.1,422.1 84.1,422.1 85.1,422.1 86.1,422.1 87.1,422.0 88.1,422.0 89.1,422.0 90.1,421.9 91.1,421.9 92.1,421.9 93.1,421.8 94.1,421.8 95.1,421.7 96.1,421.7 97.1,421.7 98.1,421.6 99.1,421.6 100.1,421.6 101.1,421.5 102.1,421.5 103.1,421.4 104.1,421.4 105.1,421.4 106.1,421.3 107.1,421.3 108.2,421.2 109.2,421.2 110.2,421.1 111.2,421.1 112.2,421.1 113.2,421.0 114.2,421.0 115.2,420.9 116.2,420.9 117.2,420.8 118.2,420.8 119.2,420.7 120.2,420.7 121.2,420.6 122.2,420.6 123.2,420.5 124.2,420.5 125.2,420.4 126.2,420.4 127.2,420.3 128.2,420.3 129.2,420.2 130.2,420.1 131.2,420.1 132.2,420.0 133.2,420.0 134.2,419.9 135.2,419.9 136.2,419.8 137.2,419.7 138.2,419.7 139.3,419.6 140.3,419.6 141.3,419.5 142.3,419.4 143.3,419.4 144.3,419.3 145.3,419.2 146.3,419.2 147.3,419.1 148.3,419.0 149.3,419.0 150.3,418.9 151.3,418.8 152.3,418.8 153.3,418.7 154.3,418.6 155.3,418.5 156.3,418.5 157.3,418.4 158.3,418.3 159.3,418.2 160.3,418.2 161.3,418.1 162.3,418.0 163.3,417.9 164.3,417.9 165.3,417.8 166.3,417.7 167.3,417.6 168.3,417.5 169.4,417.4 170.4,417.3 171.4,417.3 172.4,417.2 173.4,417.1 174.4,417.0 175.4,416.9 176.4,416.8 177.4,416.7 178.4,416.6 179.4,416.5 180.4,416.4 181.4,416.3 182.4,416.2 183.4,416.1 184.4,416.0 185.4,415.9 186.4,415.8 187.4,415.7 188.4,415.6 189.4,415.5 190.4,415.3 191.4,415.2 192.4,415.1 193.4,415.0 194.4,414.9 195.4,414.7 196.4,414.6 197.4,414.5 198.4,414.4 199.5,414.2 200.5,414.1 201.5,414.0 202.5,413.8 203.5,413.7 204.5,413.5 205.5,413.4 206.5,413.3 207.5,413.1 208.5,413.0 209.5,412.8 210.5,412.7 211.5,412.5 212.5,412.3 213.5,412.2 214.5,412.0 215.5,411.5 216.5,410.6 217.5,409.7 218.5,408.7 219.5,407.8 220.5,406.8 221.5,405.8 222.5,404.8 223.5,403.8 224.5,402.8 225.5,401.8 226.5,400.7 227.5,399.7 228.6,398.7 229.6,397.7 230.6,396.6 231.6,395.6 232.6,394.6 233.6,393.6 234.6,392.5 235.6,391.5 236.6,390.4 237.6,389.4 238.6,388.3 239.6,387.2 240.6,386.2 241.6,385.0 242.6,383.9 243.6,382.7 244.6,381.5 245.6,380.3 246.6,379.0 247.6,377.6 248.6,376.2 249.6,374.7 250.6,373.2 251.6,371.5 252.6,369.8 253.6,368.0 254.6,366.0 255.6,363.9 256.6,361.7 257.6,359.3 258.6,356.7 259.7,354.0 260.7,351.0 261.7,347.8 262.7,344.4 263.7,340.6 264.7,336.2 265.7,331.1 266.7,325.8 267.7,320.3 268.7,314.7 269.7,309.0 270.7,303.1 271.7,297.1 272.7,291.0 273.7,284.7 274.7,278.4 275.7,272.0 276.7,265.5 277.7,259.0 278.7,252.5 279.7,245.9 280.7,239.3 281.7,232.6 282.7,226.1 283.7,219.5 284.7,213.0 285.7,206.5 286.7,200.1 287.7,193.7 288.8,187.5 289.8,181.3 290.8,175.3 291.8,169.3 292.8,163.5 293.8,157.8 294.8,152.2 295.8,146.8 296.8,141.5 297.8,136.3 298.8,131.3 299.8,126.4 300.8,121.7 301.8,117.1 302.8,112.7 303.8,108.4 304.8,104.2 305.8,100.2 306.8,96.4 307.8,92.7 308.8,89.1 309.8,85.6 310.8,82.3 311.8,79.1 312.8,76.1 313.8,73.1 314.8,70.3 315.8,67.6 316.8,65.0 317.8,62.5 318.9,60.1 319.9,57.8 320.9,55.6 321.9,53.6 322.9,51.6 323.9,49.6 324.9,47.8 325.9,46.0 326.9,44.4 327.9,42.8 328.9,41.2 329.9,39.8 330.9,38.4 331.9,37.0 332.9,35.8 333.9,34.5 334.9,33.4 335.9,32.3 336.9,31.2 337.9,30.2 338.9,29.2 339.9,28.3 340.9,27.4 341.9,26.6 342.9,25.8 343.9,25.0 344.9,24.3 345.9,23.6 346.9,22.9 347.9,22.3 348.9,21.7 350.0,21.1 351.0,20.5 352.0,20.0 353.0,19.5 354.0,19.0 355.0,18.6 356.0,18.1 357.0,17.7 358.0,17.3 359.0,16.9 360.0,16.6 361.0,16.2 362.0,15.9 363.0,15.6 364.0,15.3 365.0,15.0 366.0,14.7 367.0,14.5 368.0,14.2 369.0,14.0 370.0,13.8 371.0,13.6 372.0,13.4 373.0,13.2 374.0,13.0 375.0,12.8 376.0,12.6 377.0,12.5 378.0,12.3 379.1,12.2 380.1,12.0 381.1,11.9 382.1,11.8 383.1,11.7 384.1,11.6 385.1,11.5 386.1,11.4 387.1,11.3 388.1,11.2 389.1,11.1 390.1,11.0 391.1,10.9 392.1,10.9 393.1,10.8 394.1,10.7 395.1,10.7 396.1,10.6 397.1,10.6 398.1,10.5 399.1,10.5 400.1,10.4 401.1,10.4 402.1,10.3 403.1,10.3 404.1,10.3 405.1,10.2 406.1,10.2 407.1,10.2 408.1,10.1 409.1,10.1 410.2,10.1 411.2,10.1 412.2,10.0 413.2,10.0 414.2,10.0 415.2,10.0 416.2,10.0 417.2,10.0 418.2,9.9 419.2,9.9 420.2,9.9 421.2,9.9 422.2,9.9 423.2,9.9 424.2,9.9 425.2,9.9 426.2,9.8 427.2,9.8 428.2,9.8 429.2,9.8 430.2,9.8 431.2,9.8 432.2,9.8 433.2,9.8 434.2,9.8 435.2,9.8 436.2,9.8 437.2,9.8 438.2,9.8 439.2,9.8 440.3,9.8 441.3,9.8 442.3,9.8 443.3,9.8 444.3,9.7 445.3,9.7 446.3,9.7 447.3,9.7 448.3,9.7 449.3,9.7 450.3,9.7 451.3,9.7 452.3,9.7 453.3,9.7 454.3,9.7 455.3,9.7 456.3,9.7 457.3,9.7 458.3,9.7 459.3,9.7 460.3,9.7 461.3,9.7 462.3,9.7 463.3,9.7 464.3,9.7 465.3,9.7 466.3,9.7 467.3,9.7 468.3,9.7 469.4,9.7 470.4,9.7 471.4,9.7 472.4,9.7 473.4,9.7 474.4,9.7 475.4,9.7 476.4,9.7 477.4,9.7 478.4,9.7 479.4,9.7 480.4,9.7 481.4,9.7 482.4,9.7 483.4,9.7 484.4,9.7 485.4,9.7 486.4,9.7 487.4,9.7 488.4,9.7 489.4,9.7 490.4,9.7 491.4,9.7 492.4,9.7 493.4,9.7 494.4,9.7 495.4,9.7 496.4,9.7 497.4,9.7 498.4,9.7 499.5,9.7 500.5,9.7 501.5,9.7 502.5,9.7 503.5,9.7 504.5,9.7 505.5,9.7 506.5,9.7 507.5,9.7 508.5,9.7 509.5,9.7 510.5,9.7 511.5,9.7 512.5,9.7 513.5,9.7 514.5,9.7 515.5,9.7 516.5,9.7 517.5,9.7 518.5,9.7 519.5,9.7 520.5,9.7 521.5,9.7 522.5,9.7 523.5,9.7 524.5,9.7 525.5,9.7 526.5,9.7 527.5,9.7 528.5,9.7 529.5,9.7 530.6,9.7 531.6,9.7 532.6,9.7 533.6,9.7 534.6,9.7 535.6,9.7 536.6,9.7 537.6,9.7 538.6,9.7 539.6,9.7 540.6,9.7 541.6,9.7 542.6,9.7 543.6,9.7 544.6,9.7 545.6,9.7 546.6,9.7 547.6,9.7 548.6,9.7 549.6,9.7 550.6,9.7 551.6,9.7 552.6,9.7 553.6,9.7 554.6,9.7 555.6,9.7 556.6,9.7 557.6,9.7 558.6,9.7 559.6,9.7 560.7,9.7 561.7,9.7 562.7,9.7 563.7,9.7 564.7,9.7 565.7,9.7 566.7,9.7 567.7,9.7 568.7,9.7 569.7,9.7 570.7,9.7 571.7,9.7 572.7,9.7 573.7,9.7 574.7,9.7 575.7,9.7 576.7,9.7 577.7,9.7 578.7,9.7 579.7,9.7 580.7,9.7 581.7,9.7 582.7,9.7 583.7,9.7 584.7,9.7 585.7,9.7 586.7,9.7 587.7,9.7 588.7,9.7 589.8,9.7 590.8,9.7 591.8,9.7 592.8,9.7 593.8,9.7 594.8,9.7 595.8,9.7 596.8,9.7 597.8,9.7 598.8,9.7 599.8,9.7 600.8,9.7 601.8,9.7 602.8,9.7 603.8,9.7 604.8,9.7 605.8,9.7 606.8,9.7 607.8,9.7 608.8,9.7 609.8,9.7 610.8,9.7 611.8,9.7 612.8,9.7 613.8,9.7 614.8,9.7 615.8,9.7 616.8,9.7 617.8,9.7 618.8,9.7 619.9,9.7 620.9,9.7 621.9,9.7 622.9,9.7 623.9,9.7 624.9,9.7 625.9,9.7 626.9,9.7 627.9,9.7 628.9,9.7 629.9,9.7 630.9,9.7 631.9,9.7 632.9,9.7 633.9,9.7 634.9,9.7 635.9,9.7 636.9,9.7 637.9,9.7 638.9,9.7 639.9,9.7 640.9,9.7 641.9,9.7 642.9,9.7 643.9,9.7 644.9,9.7 645.9,9.7 646.9,9.7 647.9,9.7 648.9,9.7 650.0,9.7 651.0,9.7 652.0,9.7 653.0,9.7 654.0,9.7 655.0,9.7 656.0,9.7 657.0,9.7 658.0,9.7 659.0,9.7 660.0,9.7 661.0,9.7 662.0,9.7 663.0,9.7 664.0,9.7 665.0,9.7" fill="none" stroke="#0000e0" stroke-width="1.7" stroke-linejoin="round" stroke-linecap="round" />
<polyline points="63.0,422.5 64.0,422.4 65.0,422.4 66.0,422.3 67.0,422.3 68.0,422.3 69.0,422.2 70.0,422.2 71.0,422.1 72.0,422.1 73.0,422.0 74.0,422.0 75.0,421.9 76.0,421.9 77.0,421.8 78.1,421.8 79.1,421.7 80.1,421.7 81.1,421.6 82.1,421.6 83.1,421.5 84.1,421.4 85.1,421.4 86.1,421.3 87.1,421.2 88.1,421.2 89.1,421.1 90.1,421.0 91.1,421.0 92.1,420.9 93.1,420.8 94.1,420.7 95.1,420.7 96.1,420.6 97.1,420.5 98.1,420.4 99.1,420.3 100.1,420.2 101.1,420.1 102.1,420.0 103.1,420.0 104.1,419.9 105.1,419.8 106.1,419.7 107.1,419.6 108.2,419.5 109.2,419.4 110.2,419.2 111.2,419.1 112.2,419.0 113.2,418.9 114.2,418.8 115.2,418.7 116.2,418.6 117.2,418.4 118.2,418.3 119.2,418.2 120.2,418.1 121.2,417.9 122.2,417.8 123.2,417.7 124.2,417.5 125.2,417.4 126.2,417.3 127.2,417.1 128.2,417.0 129.2,416.8 130.2,416.7 131.2,416.5 132.2,416.4 133.2,416.2 134.2,416.1 135.2,415.9 136.2,415.8 137.2,415.6 138.2,415.4 139.3,415.3 140.3,415.1 141.3,414.9 142.3,414.8 143.3,414.6 144.3,414.4 145.3,414.3 146.3,414.1 147.3,413.9 148.3,413.7 149.3,413.5 150.3,413.4 151.3,413.2 152.3,413.0 153.3,412.8 154.3,412.6 155.3,412.4 156.3,412.2 157.3,412.0 158.3,411.9 159.3,411.7 160.3,411.5 161.3,411.3 162.3,411.1 163.3,410.9 164.3,410.7 165.3,410.5 166.3,410.3 167.3,410.1 168.3,409.9 169.4,409.7 170.4,409.5 171.4,409.3 172.4,409.0 173.4,408.8 174.4,408.6 175.4,408.4 176.4,408.2 177.4,408.0 178.4,407.8 179.4,407.6 180.4,407.4 181.4,407.2 182.4,407.0 183.4,406.8 184.4,406.6 185.4,406.4 186.4,406.1 187.4,405.9 188.4,405.7 189.4,405.5 190.4,405.3 191.4,405.1 192.4,404.9 193.4,404.7 194.4,404.5 195.4,404.3 196.4,404.1 197.4,403.9 198.4,403.7 199.5,403.5 200.5,403.3 201.5,403.1 202.5,402.9 203.5,402.7 204.5,402.6 205.5,402.4 206.5,402.2 207.5,402.0 208.5,401.8 209.5,401.6 210.5,401.4 211.5,401.3 212.5,401.1 213.5,400.9 214.5,400.7 215.5,399.8 216.5,398.8 217.5,397.7 218.5,396.6 219.5,395.5 220.5,394.2 221.5,393.0 222.5,391.6 223.5,390.2 224.5,388.7 225.5,387.1 226.5,385.5 227.5,383.7 228.6,381.9 229.6,380.0 230.6,378.0 231.6,375.8 232.6,373.6 233.6,371.3 234.6,368.9 235.6,366.3 236.6,363.7 237.6,360.9 238.6,358.0 239.6,354.9 240.6,351.7 241.6,348.4 242.6,344.9 243.6,341.3 244.6,337.6 245.6,333.7 246.6,329.7 247.6,325.5 248.6,321.1 249.6,316.6 250.6,312.0 251.6,307.2 252.6,302.2 253.6,297.2 254.6,291.9 255.6,286.6 256.6,281.1 257.6,275.5 258.6,269.7 259.7,263.9 260.7,258.0 261.7,251.9 262.7,245.8 263.7,239.6 264.7,233.4 265.7,227.1 266.7,220.7 267.7,214.4 268.7,208.0 269.7,201.6 270.7,195.3 271.7,188.9 272.7,182.6 273.7,176.4 274.7,170.2 275.7,164.1 276.7,158.1 277.7,152.2 278.7,146.4 279.7,140.7 280.7,135.2 281.7,129.8 282.7,124.5 283.7,119.3 284.7,114.3 285.7,109.5 286.7,104.8 287.7,100.2 288.8,95.8 289.8,91.6 290.8,87.5 291.8,83.6 292.8,79.9 293.8,76.3 294.8,72.8 295.8,69.5 296.8,66.4 297.8,63.4 298.8,60.5 299.8,57.7 300.8,55.1 301.8,52.7 302.8,50.3 303.8,48.1 304.8,45.9 305.8,43.9 306.8,42.0 307.8,40.2 308.8,38.5 309.8,36.9 310.8,35.3 311.8,33.9 312.8,32.5 313.8,31.2 314.8,30.0 315.8,28.9 316.8,27.8 317.8,26.7 318.9,25.8 319.9,24.9 320.9,24.0 321.9,23.2 322.9,22.4 323.9,21.7 324.9,21.0 325.9,20.4 326.9,19.8 327.9,19.2 328.9,18.7 329.9,18.2 330.9,17.7 331.9,17.3 332.9,16.8 333.9,16.4 334.9,16.1 335.9,15.7 336.9,15.4 337.9,15.1 338.9,14.8 339.9,14.5 340.9,14.2 341.9,14.0 342.9,13.8 343.9,13.6 344.9,13.3 345.9,13.2 346.9,13.0 347.9,12.8 348.9,12.6 350.0,12.5 351.0,12.3 352.0,12.2 353.0,12.1 354.0,12.0 355.0,11.9 356.0,11.7 357.0,11.6 358.0,11.5 359.0,11.5 360.0,11.4 361.0,11.3 362.0,11.2 363.0,11.1 364.0,11.1 365.0,11.0 366.0,11.0 367.0,10.9 368.0,10.8 369.0,10.8 370.0,10.7 371.0,10.7 372.0,10.6 373.0,10.6 374.0,10.6 375.0,10.5 376.0,10.5 377.0,10.5 378.0,10.4 379.1,10.4 380.1,10.4 381.1,10.3 382.1,10.3 383.1,10.3 384.1,10.2 385.1,10.2 386.1,10.2 387.1,10.2 388.1,10.2 389.1,10.1 390.1,10.1 391.1,10.1 392.1,10.1 393.1,10.1 394.1,10.0 395.1,10.0 396.1,10.0 397.1,10.0 398.1,10.0 399.1,10.0 400.1,10.0 401.1,10.0 402.1,9.9 403.1,9.9 404.1,9.9 405.1,9.9 406.1,9.9 407.1,9.9 408.1,9.9 409.1,9.9 410.2,9.9 411.2,9.9 412.2,9.9 413.2,9.8 414.2,9.8 415.2,9.8 416.2,9.8 417.2,9.8 418.2,9.8 419.2,9.8 420.2,9.8 421.2,9.8 422.2,9.8 423.2,9.8 424.2,9.8 425.2,9.8 426.2,9.8 427.2,9.8 428.2,9.8 429.2,9.8 430.2,9.8 431.2,9.8 432.2,9.8 433.2,9.8 434.2,9.8 435.2,9.8 436.2,9.8 437.2,9.7 438.2,9.7 439.2,9.7 440.3,9.7 441.3,9.7 442.3,9.7 443.3,9.7 444.3,9.7 445.3,9.7 446.3,9.7 447.3,9.7 448.3,9.7 449.3,9.7 450.3,9.7 451.3,9.7 452.3,9.7 453.3,9.7 454.3,9.7 455.3,9.7 456.3,9.7 457.3,9.7 458.3,9.7 459.3,9.7 460.3,9.7 461.3,9.7 462.3,9.7 463.3,9.7 464.3,9.7 465.3,9.7 466.3,9.7 467.3,9.7 468.3,9.7 469.4,9.7 470.4,9.7 471.4,9.7 472.4,9.7 473.4,9.7 474.4,9.7 475.4,9.7 476.4,9.7 477.4,9.7 478.4,9.7 479.4,9.7 480.4,9.7 481.4,9.7 482.4,9.7 483.4,9.7 484.4,9.7 485.4,9.7 486.4,9.7 487.4,9.7 488.4,9.7 489.4,9.7 490.4,9.7 491.4,9.7 492.4,9.7 493.4,9.7 494.4,9.7 495.4,9.7 496.4,9.7 497.4,9.7 498.4,9.7 499.5,9.7 500.5,9.7 501.5,9.7 502.5,9.7 503.5,9.7 504.5,9.7 505.5,9.7 506.5,9.7 507.5,9.7 508.5,9.7 509.5,9.7 510.5,9.7 511.5,9.7 512.5,9.7 513.5,9.7 514.5,9.7 515.5,9.7 516.5,9.7 517.5,9.7 518.5,9.7 519.5,9.7 520.5,9.7 521.5,9.7 522.5,9.7 523.5,9.7 524.5,9.7 525.5,9.7 526.5,9.7 527.5,9.7 528.5,9.7 529.5,9.7 530.6,9.7 531.6,9.7 532.6,9.7 533.6,9.7 534.6,9.7 535.6,9.7 536.6,9.7 537.6,9.7 538.6,9.7 539.6,9.7 540.6,9.7 541.6,9.7 542.6,9.7 543.6,9.7 544.6,9.7 545.6,9.7 546.6,9.7 547.6,9.7 548.6,9.7 549.6,9.7 550.6,9.7 551.6,9.7 552.6,9.7 553.6,9.7 554.6,9.7 555.6,9.7 556.6,9.7 557.6,9.7 558.6,9.7 559.6,9.7 560.7,9.7 561.7,9.7 562.7,9.7 563.7,9.7 564.7,9.7 565.7,9.7 566.7,9.7 567.7,9.7 568.7,9.7 569.7,9.7 570.7,9.7 571.7,9.7 572.7,9.7 573.7,9.7 574.7,9.7 575.7,9.7 576.7,9.7 577.7,9.7 578.7,9.7 579.7,9.7 580.7,9.7 581.7,9.7 582.7,9.7 583.7,9.7 584.7,9.7 585.7,9.7 586.7,9.7 587.7,9.7 588.7,9.7 589.8,9.7 590.8,9.7 591.8,9.7 592.8,9.7 593.8,9.7 594.8,9.7 595.8,9.7 596.8,9.7 597.8,9.7 598.8,9.7 599.8,9.7 600.8,9.7 601.8,9.7 602.8,9.7 603.8,9.7 604.8,9.7 605.8,9.7 606.8,9.7 607.8,9.7 608.8,9.7 609.8,9.7 610.8,9.7 611.8,9.7 612.8,9.7 613.8,9.7 614.8,9.7 615.8,9.7 616.8,9.7 617.8,9.7 618.8,9.7 619.9,9.7 620.9,9.7 621.9,9.7 622.9,9.7 623.9,9.7 624.9,9.7 625.9,9.7 626.9,9.7 627.9,9.7 628.9,9.7 629.9,9.7 630.9,9.7 631.9,9.7 632.9,9.7 633.9,9.7 634.9,9.7 635.9,9.7 636.9,9.7 637.9,9.7 638.9,9.7 639.9,9.7 640.9,9.7 641.9,9.7 642.9,9.7 643.9,9.7 644.9,9.7 645.9,9.7 646.9,9.7 647.9,9.7 648.9,9.7 650.0,9.7 651.0,9.7 652.0,9.7 653.0,9.7 654.0,9.7 655.0,9.7 656.0,9.7 657.0,9.7 658.0,9.7 659.0,9.7 660.0,9.7 661.0,9.7 662.0,9.7 663.0,9.7 664.0,9.7 665.0,9.7" fill="none" stroke="#8416dc" stroke-width="1.7" stroke-linejoin="round" stroke-linecap="round" />
</g>
<line x1="63" y1="51.08" x2="665" y2="51.08" stroke="#0000d0" stroke-width="2.3" stroke-dasharray="11 10.58"/>
<line x1="63" y1="216.6" x2="665" y2="216.6" stroke="#20e020" stroke-width="2.3" stroke-dasharray="11 10.58"/>
<line x1="63" y1="382.12" x2="665" y2="382.12" stroke="#e01818" stroke-width="2.3" stroke-dasharray="11 10.58"/>
<text x="63" y="445.5" font-size="17" fill="#000" text-anchor="middle" font-weight="normal" font-style="normal" >8</text>
<text x="163.33" y="445.5" font-size="17" fill="#000" text-anchor="middle" font-weight="normal" font-style="normal" >10</text>
<text x="263.67" y="445.5" font-size="17" fill="#000" text-anchor="middle" font-weight="normal" font-style="normal" >12</text>
<text x="364" y="445.5" font-size="17" fill="#000" text-anchor="middle" font-weight="normal" font-style="normal" >14</text>
<text x="464.33" y="445.5" font-size="17" fill="#000" text-anchor="middle" font-weight="normal" font-style="normal" >16</text>
<text x="564.67" y="445.5" font-size="17" fill="#000" text-anchor="middle" font-weight="normal" font-style="normal" >18</text>
<text x="665" y="445.5" font-size="17" fill="#000" text-anchor="middle" font-weight="normal" font-style="normal" >20</text>
<text x="47.35" y="430" font-size="17.8" fill="#000" font-weight="normal" font-style="normal" textLength="9.44" lengthAdjust="spacingAndGlyphs" >0</text>
<text x="37.91" y="388.62" font-size="17.8" fill="#000" font-weight="normal" font-style="normal" textLength="18.89" lengthAdjust="spacingAndGlyphs" >10</text>
<text x="37.91" y="347.24" font-size="17.8" fill="#000" font-weight="normal" font-style="normal" textLength="18.89" lengthAdjust="spacingAndGlyphs" >20</text>
<text x="37.91" y="305.86" font-size="17.8" fill="#000" font-weight="normal" font-style="normal" textLength="18.89" lengthAdjust="spacingAndGlyphs" >30</text>
<text x="37.91" y="264.48" font-size="17.8" fill="#000" font-weight="normal" font-style="normal" textLength="18.89" lengthAdjust="spacingAndGlyphs" >40</text>
<text x="37.91" y="223.1" font-size="17.8" fill="#000" font-weight="normal" font-style="normal" textLength="18.89" lengthAdjust="spacingAndGlyphs" >50</text>
<text x="37.91" y="181.72" font-size="17.8" fill="#000" font-weight="normal" font-style="normal" textLength="18.89" lengthAdjust="spacingAndGlyphs" >60</text>
<text x="37.91" y="140.34" font-size="17.8" fill="#000" font-weight="normal" font-style="normal" textLength="18.89" lengthAdjust="spacingAndGlyphs" >70</text>
<text x="37.91" y="98.96" font-size="17.8" fill="#000" font-weight="normal" font-style="normal" textLength="18.89" lengthAdjust="spacingAndGlyphs" >80</text>
<text x="37.91" y="57.58" font-size="17.8" fill="#000" font-weight="normal" font-style="normal" textLength="18.89" lengthAdjust="spacingAndGlyphs" >90</text>
<text x="28.46" y="16.2" font-size="17.8" fill="#000" font-weight="normal" font-style="normal" textLength="28.33" lengthAdjust="spacingAndGlyphs" >100</text>
<text x="322.93" y="463.7" font-size="17" fill="#000" font-weight="normal" font-style="normal" textLength="69.51" lengthAdjust="spacingAndGlyphs" >Mass (M</text>
<text x="392.2" y="472" font-size="13.5" fill="#000" font-weight="normal" font-style="normal" textLength="7.31" lengthAdjust="spacingAndGlyphs" >J</text>
<text x="399.2" y="463.7" font-size="17" fill="#000" font-weight="normal" font-style="normal" textLength="5.66" lengthAdjust="spacingAndGlyphs" >)</text>
<text x="-106.08" y="212.55" font-size="17.5" fill="#000" font-weight="normal" font-style="normal" textLength="244.09" lengthAdjust="spacingAndGlyphs" transform="rotate(-90 15.4 212.55)">Fraction of initial D burned (%)</text>
<text x="113.7" y="43.58" font-size="24.5" fill="#0000d0" text-anchor="start" font-weight="bold" font-style="normal" >90%</text>
<text x="113.7" y="209.1" font-size="24.5" fill="#20e020" text-anchor="start" font-weight="bold" font-style="normal" >50%</text>
<text x="113.7" y="374.62" font-size="24.5" fill="#e01818" text-anchor="start" font-weight="bold" font-style="normal" >10%</text>
<text x="464.46" y="245.4" font-size="22.4" fill="#000" font-weight="normal" font-style="normal" textLength="174.74" lengthAdjust="spacingAndGlyphs" >Helium Fractions</text>
<text x="464.48" y="270.7" font-size="17.6" fill="#8416dc" font-weight="normal" font-style="normal" textLength="42.9" lengthAdjust="spacingAndGlyphs" >He32</text>
<text x="464.48" y="291.45" font-size="17.6" fill="#0000e0" font-weight="normal" font-style="normal" textLength="42.9" lengthAdjust="spacingAndGlyphs" >He30</text>
<text x="464.48" y="312.2" font-size="17.6" fill="#229ee8" font-weight="normal" font-style="normal" textLength="42.9" lengthAdjust="spacingAndGlyphs" >He28</text>
<text x="464.48" y="332.95" font-size="17.6" fill="#000000" font-weight="normal" font-style="normal" textLength="42.9" lengthAdjust="spacingAndGlyphs" >He25</text>
<text x="464.48" y="353.7" font-size="17.6" fill="#12ea12" font-weight="normal" font-style="normal" textLength="42.9" lengthAdjust="spacingAndGlyphs" >He22</text>
<text x="465.5" y="374.45" font-size="17.6" fill="#6e6e6e" font-weight="normal" font-style="normal" textLength="35.91" lengthAdjust="spacingAndGlyphs" >Z1.0</text>
<path d="M67.7,914.4v-6M67.7,492.7v6M168.05,914.4v-6M168.05,492.7v6M268.4,914.4v-6M268.4,492.7v6M368.75,914.4v-6M368.75,492.7v6M469.1,914.4v-6M469.1,492.7v6M569.45,914.4v-6M569.45,492.7v6M669.8,914.4v-6M669.8,492.7v6M87.77,914.4v-3M87.77,492.7v3M107.84,914.4v-3M107.84,492.7v3M127.91,914.4v-3M127.91,492.7v3M147.98,914.4v-3M147.98,492.7v3M188.12,914.4v-3M188.12,492.7v3M208.19,914.4v-3M208.19,492.7v3M228.26,914.4v-3M228.26,492.7v3M248.33,914.4v-3M248.33,492.7v3M288.47,914.4v-3M288.47,492.7v3M308.54,914.4v-3M308.54,492.7v3M328.61,914.4v-3M328.61,492.7v3M348.68,914.4v-3M348.68,492.7v3M388.82,914.4v-3M388.82,492.7v3M408.89,914.4v-3M408.89,492.7v3M428.96,914.4v-3M428.96,492.7v3M449.03,914.4v-3M449.03,492.7v3M489.17,914.4v-3M489.17,492.7v3M509.24,914.4v-3M509.24,492.7v3M529.31,914.4v-3M529.31,492.7v3M549.38,914.4v-3M549.38,492.7v3M589.52,914.4v-3M589.52,492.7v3M609.59,914.4v-3M609.59,492.7v3M629.66,914.4v-3M629.66,492.7v3M649.73,914.4v-3M649.73,492.7v3M67.7,914.4h6M669.8,914.4h-6M67.7,873.06h6M669.8,873.06h-6M67.7,831.72h6M669.8,831.72h-6M67.7,790.38h6M669.8,790.38h-6M67.7,749.04h6M669.8,749.04h-6M67.7,707.7h6M669.8,707.7h-6M67.7,666.36h6M669.8,666.36h-6M67.7,625.02h6M669.8,625.02h-6M67.7,583.68h6M669.8,583.68h-6M67.7,542.34h6M669.8,542.34h-6M67.7,501h6M669.8,501h-6M67.7,893.73h3M669.8,893.73h-3M67.7,852.39h3M669.8,852.39h-3M67.7,811.05h3M669.8,811.05h-3M67.7,769.71h3M669.8,769.71h-3M67.7,728.37h3M669.8,728.37h-3M67.7,687.03h3M669.8,687.03h-3M67.7,645.69h3M669.8,645.69h-3M67.7,604.35h3M669.8,604.35h-3M67.7,563.01h3M669.8,563.01h-3M67.7,521.67h3M669.8,521.67h-3" stroke="#000" stroke-width="1.28" fill="none"/>
<rect x="67.7" y="492.7" width="602.1" height="421.7" fill="none" stroke="#000" stroke-width="1.6" stroke-linejoin="miter"/>
<g clip-path="url(#clip492)">
<polyline points="67.7,914.4 68.7,914.4 69.7,914.4 70.7,914.4 71.7,914.4 72.7,914.4 73.7,914.4 74.7,914.4 75.7,914.4 76.7,914.4 77.7,914.4 78.7,914.4 79.7,914.4 80.7,914.4 81.7,914.4 82.8,914.4 83.8,914.3 84.8,914.3 85.8,914.3 86.8,914.3 87.8,914.3 88.8,914.3 89.8,914.3 90.8,914.3 91.8,914.3 92.8,914.3 93.8,914.3 94.8,914.3 95.8,914.3 96.8,914.3 97.8,914.3 98.8,914.3 99.8,914.3 100.8,914.3 101.8,914.3 102.8,914.3 103.8,914.3 104.8,914.3 105.8,914.3 106.8,914.3 107.8,914.3 108.8,914.3 109.8,914.3 110.9,914.3 111.9,914.3 112.9,914.3 113.9,914.2 114.9,914.2 115.9,914.2 116.9,914.2 117.9,914.2 118.9,914.2 119.9,914.2 120.9,914.2 121.9,914.2 122.9,914.2 123.9,914.2 124.9,914.2 125.9,914.2 126.9,914.1 127.9,914.1 128.9,914.1 129.9,914.1 130.9,914.1 131.9,914.1 132.9,914.1 133.9,914.1 134.9,914.1 135.9,914.1 136.9,914.0 137.9,914.0 138.9,914.0 140.0,914.0 141.0,914.0 142.0,914.0 143.0,913.9 144.0,913.9 145.0,913.9 146.0,913.9 147.0,913.9 148.0,913.9 149.0,913.8 150.0,913.8 151.0,913.8 152.0,913.8 153.0,913.7 154.0,913.7 155.0,913.7 156.0,913.7 157.0,913.6 158.0,913.6 159.0,913.6 160.0,913.6 161.0,913.5 162.0,913.5 163.0,913.5 164.0,913.4 165.0,913.4 166.0,913.4 167.0,913.3 168.0,913.3 169.1,913.2 170.1,913.2 171.1,913.1 172.1,913.1 173.1,913.0 174.1,913.0 175.1,912.9 176.1,912.9 177.1,912.8 178.1,912.8 179.1,912.7 180.1,912.6 181.1,912.6 182.1,912.5 183.1,912.4 184.1,912.4 185.1,912.3 186.1,912.2 187.1,912.1 188.1,912.1 189.1,912.0 190.1,911.9 191.1,911.8 192.1,911.7 193.1,911.6 194.1,911.5 195.1,911.4 196.1,911.3 197.2,911.1 198.2,911.0 199.2,910.9 200.2,910.8 201.2,910.6 202.2,910.5 203.2,910.4 204.2,910.2 205.2,910.1 206.2,909.9 207.2,909.8 208.2,909.6 209.2,909.4 210.2,909.2 211.2,909.1 212.2,908.9 213.2,908.7 214.2,908.5 215.2,908.2 216.2,908.0 217.2,907.8 218.2,907.6 219.2,907.3 220.2,907.1 221.2,906.8 222.2,906.5 223.2,906.3 224.2,906.0 225.2,905.7 226.3,905.4 227.3,905.0 228.3,904.7 229.3,904.4 230.3,904.0 231.3,903.6 232.3,903.3 233.3,902.9 234.3,902.5 235.3,902.0 236.3,901.6 237.3,901.1 238.3,900.7 239.3,900.2 240.3,899.7 241.3,899.1 242.3,898.6 243.3,898.0 244.3,897.4 245.3,896.8 246.3,896.2 247.3,895.6 248.3,894.9 249.3,894.2 250.3,893.4 251.3,892.7 252.3,891.9 253.3,891.1 254.4,890.2 255.4,889.4 256.4,888.5 257.4,887.5 258.4,886.5 259.4,885.5 260.4,884.5 261.4,883.4 262.4,882.3 263.4,881.1 264.4,879.9 265.4,878.6 266.4,877.3 267.4,875.9 268.4,874.5 269.4,873.1 270.4,871.0 271.4,868.9 272.4,866.7 273.4,864.3 274.4,861.9 275.4,859.3 276.4,856.6 277.4,853.8 278.4,850.9 279.4,847.9 280.4,844.7 281.4,841.4 282.4,838.0 283.5,834.4 284.5,830.7 285.5,826.9 286.5,822.9 287.5,818.7 288.5,814.5 289.5,810.1 290.5,805.5 291.5,800.9 292.5,796.0 293.5,791.1 294.5,786.0 295.5,780.8 296.5,775.5 297.5,770.0 298.5,764.5 299.5,758.8 300.5,753.0 301.5,747.2 302.5,741.3 303.5,735.3 304.5,729.3 305.5,723.2 306.5,717.0 307.5,710.9 308.5,704.7 309.5,698.5 310.5,692.3 311.6,686.2 312.6,680.1 313.6,674.0 314.6,667.9 315.6,662.0 316.6,656.1 317.6,650.2 318.6,644.5 319.6,638.9 320.6,633.4 321.6,628.0 322.6,622.7 323.6,617.5 324.6,612.5 325.6,607.6 326.6,602.8 327.6,598.2 328.6,593.8 329.6,589.4 330.6,585.3 331.6,581.2 332.6,577.4 333.6,573.6 334.6,570.0 335.6,566.6 336.6,563.3 337.6,560.1 338.6,557.1 339.6,554.2 340.7,551.4 341.7,548.8 342.7,546.2 343.7,543.8 344.7,541.5 345.7,539.4 346.7,537.3 347.7,535.3 348.7,533.4 349.7,531.7 350.7,530.0 351.7,528.4 352.7,526.9 353.7,525.4 354.7,524.1 355.7,522.8 356.7,521.6 357.7,520.4 358.7,519.3 359.7,518.3 360.7,517.3 361.7,516.4 362.7,515.5 363.7,514.7 364.7,513.9 365.7,513.2 366.7,512.5 367.7,511.9 368.7,511.2 369.8,510.7 370.8,510.1 371.8,509.6 372.8,509.1 373.8,508.7 374.8,508.2 375.8,507.8 376.8,507.4 377.8,507.1 378.8,506.7 379.8,506.4 380.8,506.1 381.8,505.8 382.8,505.6 383.8,505.3 384.8,505.1 385.8,504.8 386.8,504.6 387.8,504.4 388.8,504.2 389.8,504.1 390.8,503.9 391.8,503.7 392.8,503.6 393.8,503.4 394.8,503.3 395.8,503.2 396.8,503.1 397.9,503.0 398.9,502.8 399.9,502.7 400.9,502.7 401.9,502.6 402.9,502.5 403.9,502.4 404.9,502.3 405.9,502.2 406.9,502.2 407.9,502.1 408.9,502.1 409.9,502.0 410.9,501.9 411.9,501.9 412.9,501.8 413.9,501.8 414.9,501.8 415.9,501.7 416.9,501.7 417.9,501.6 418.9,501.6 419.9,501.6 420.9,501.5 421.9,501.5 422.9,501.5 423.9,501.5 424.9,501.4 425.9,501.4 427.0,501.4 428.0,501.4 429.0,501.3 430.0,501.3 431.0,501.3 432.0,501.3 433.0,501.3 434.0,501.3 435.0,501.2 436.0,501.2 437.0,501.2 438.0,501.2 439.0,501.2 440.0,501.2 441.0,501.2 442.0,501.2 443.0,501.2 444.0,501.1 445.0,501.1 446.0,501.1 447.0,501.1 448.0,501.1 449.0,501.1 450.0,501.1 451.0,501.1 452.0,501.1 453.0,501.1 454.0,501.1 455.1,501.1 456.1,501.1 457.1,501.1 458.1,501.1 459.1,501.1 460.1,501.1 461.1,501.1 462.1,501.1 463.1,501.0 464.1,501.0 465.1,501.0 466.1,501.0 467.1,501.0 468.1,501.0 469.1,501.0 470.1,501.0 471.1,501.0 472.1,501.0 473.1,501.0 474.1,501.0 475.1,501.0 476.1,501.0 477.1,501.0 478.1,501.0 479.1,501.0 480.1,501.0 481.1,501.0 482.1,501.0 483.1,501.0 484.2,501.0 485.2,501.0 486.2,501.0 487.2,501.0 488.2,501.0 489.2,501.0 490.2,501.0 491.2,501.0 492.2,501.0 493.2,501.0 494.2,501.0 495.2,501.0 496.2,501.0 497.2,501.0 498.2,501.0 499.2,501.0 500.2,501.0 501.2,501.0 502.2,501.0 503.2,501.0 504.2,501.0 505.2,501.0 506.2,501.0 507.2,501.0 508.2,501.0 509.2,501.0 510.2,501.0 511.2,501.0 512.3,501.0 513.3,501.0 514.3,501.0 515.3,501.0 516.3,501.0 517.3,501.0 518.3,501.0 519.3,501.0 520.3,501.0 521.3,501.0 522.3,501.0 523.3,501.0 524.3,501.0 525.3,501.0 526.3,501.0 527.3,501.0 528.3,501.0 529.3,501.0 530.3,501.0 531.3,501.0 532.3,501.0 533.3,501.0 534.3,501.0 535.3,501.0 536.3,501.0 537.3,501.0 538.3,501.0 539.3,501.0 540.3,501.0 541.4,501.0 542.4,501.0 543.4,501.0 544.4,501.0 545.4,501.0 546.4,501.0 547.4,501.0 548.4,501.0 549.4,501.0 550.4,501.0 551.4,501.0 552.4,501.0 553.4,501.0 554.4,501.0 555.4,501.0 556.4,501.0 557.4,501.0 558.4,501.0 559.4,501.0 560.4,501.0 561.4,501.0 562.4,501.0 563.4,501.0 564.4,501.0 565.4,501.0 566.4,501.0 567.4,501.0 568.4,501.0 569.4,501.0 570.5,501.0 571.5,501.0 572.5,501.0 573.5,501.0 574.5,501.0 575.5,501.0 576.5,501.0 577.5,501.0 578.5,501.0 579.5,501.0 580.5,501.0 581.5,501.0 582.5,501.0 583.5,501.0 584.5,501.0 585.5,501.0 586.5,501.0 587.5,501.0 588.5,501.0 589.5,501.0 590.5,501.0 591.5,501.0 592.5,501.0 593.5,501.0 594.5,501.0 595.5,501.0 596.5,501.0 597.5,501.0 598.6,501.0 599.6,501.0 600.6,501.0 601.6,501.0 602.6,501.0 603.6,501.0 604.6,501.0 605.6,501.0 606.6,501.0 607.6,501.0 608.6,501.0 609.6,501.0 610.6,501.0 611.6,501.0 612.6,501.0 613.6,501.0 614.6,501.0 615.6,501.0 616.6,501.0 617.6,501.0 618.6,501.0 619.6,501.0 620.6,501.0 621.6,501.0 622.6,501.0 623.6,501.0 624.6,501.0 625.6,501.0 626.6,501.0 627.7,501.0 628.7,501.0 629.7,501.0 630.7,501.0 631.7,501.0 632.7,501.0 633.7,501.0 634.7,501.0 635.7,501.0 636.7,501.0 637.7,501.0 638.7,501.0 639.7,501.0 640.7,501.0 641.7,501.0 642.7,501.0 643.7,501.0 644.7,501.0 645.7,501.0 646.7,501.0 647.7,501.0 648.7,501.0 649.7,501.0 650.7,501.0 651.7,501.0 652.7,501.0 653.7,501.0 654.7,501.0 655.8,501.0 656.8,501.0 657.8,501.0 658.8,501.0 659.8,501.0 660.8,501.0 661.8,501.0 662.8,501.0 663.8,501.0 664.8,501.0 665.8,501.0 666.8,501.0 667.8,501.0 668.8,501.0 669.8,501.0" fill="none" stroke="#6e6e6e" stroke-width="4.4" stroke-linejoin="round" stroke-linecap="round" />
<polyline points="67.7,914.2 68.7,914.2 69.7,914.2 70.7,914.2 71.7,914.2 72.7,914.2 73.7,914.2 74.7,914.2 75.7,914.2 76.7,914.2 77.7,914.2 78.7,914.2 79.7,914.2 80.7,914.2 81.7,914.2 82.8,914.2 83.8,914.2 84.8,914.2 85.8,914.2 86.8,914.2 87.8,914.2 88.8,914.1 89.8,914.1 90.8,914.1 91.8,914.1 92.8,914.1 93.8,914.1 94.8,914.1 95.8,914.1 96.8,914.1 97.8,914.1 98.8,914.1 99.8,914.1 100.8,914.1 101.8,914.1 102.8,914.1 103.8,914.1 104.8,914.0 105.8,914.0 106.8,914.0 107.8,914.0 108.8,914.0 109.8,914.0 110.9,914.0 111.9,914.0 112.9,914.0 113.9,914.0 114.9,914.0 115.9,914.0 116.9,914.0 117.9,913.9 118.9,913.9 119.9,913.9 120.9,913.9 121.9,913.9 122.9,913.9 123.9,913.9 124.9,913.9 125.9,913.9 126.9,913.8 127.9,913.8 128.9,913.8 129.9,913.8 130.9,913.8 131.9,913.8 132.9,913.8 133.9,913.8 134.9,913.8 135.9,913.7 136.9,913.7 137.9,913.7 138.9,913.7 140.0,913.7 141.0,913.7 142.0,913.7 143.0,913.6 144.0,913.6 145.0,913.6 146.0,913.6 147.0,913.6 148.0,913.6 149.0,913.5 150.0,913.5 151.0,913.5 152.0,913.5 153.0,913.5 154.0,913.4 155.0,913.4 156.0,913.4 157.0,913.4 158.0,913.4 159.0,913.3 160.0,913.3 161.0,913.3 162.0,913.3 163.0,913.3 164.0,913.2 165.0,913.2 166.0,913.2 167.0,913.2 168.0,913.1 169.1,913.1 170.1,913.1 171.1,913.1 172.1,913.0 173.1,913.0 174.1,913.0 175.1,912.9 176.1,912.9 177.1,912.9 178.1,912.9 179.1,912.8 180.1,912.8 181.1,912.8 182.1,912.7 183.1,912.7 184.1,912.7 185.1,912.6 186.1,912.6 187.1,912.5 188.1,912.5 189.1,912.5 190.1,912.4 191.1,912.4 192.1,912.3 193.1,912.3 194.1,912.3 195.1,912.2 196.1,912.2 197.2,912.1 198.2,912.1 199.2,912.0 200.2,912.0 201.2,911.9 202.2,911.9 203.2,911.8 204.2,911.8 205.2,911.7 206.2,911.7 207.2,911.6 208.2,911.5 209.2,911.5 210.2,911.4 211.2,911.3 212.2,911.3 213.2,911.2 214.2,911.1 215.2,911.1 216.2,911.0 217.2,910.9 218.2,910.8 219.2,910.8 220.2,910.7 221.2,910.6 222.2,910.5 223.2,910.4 224.2,910.3 225.2,910.2 226.3,910.1 227.3,910.0 228.3,909.9 229.3,909.8 230.3,909.7 231.3,909.6 232.3,909.5 233.3,909.4 234.3,909.3 235.3,909.1 236.3,909.0 237.3,908.9 238.3,908.7 239.3,908.6 240.3,908.4 241.3,908.3 242.3,908.1 243.3,908.0 244.3,907.8 245.3,907.6 246.3,907.4 247.3,907.3 248.3,907.1 249.3,906.9 250.3,906.7 251.3,906.5 252.3,906.2 253.3,906.0 254.4,905.8 255.4,905.5 256.4,905.3 257.4,905.0 258.4,904.8 259.4,904.5 260.4,904.2 261.4,903.9 262.4,903.6 263.4,903.3 264.4,902.9 265.4,902.6 266.4,902.2 267.4,901.9 268.4,901.5 269.4,901.1 270.4,900.7 271.4,900.2 272.4,899.8 273.4,899.3 274.4,898.8 275.4,898.3 276.4,897.8 277.4,897.3 278.4,896.7 279.4,896.1 280.4,895.5 281.4,894.9 282.4,894.2 283.5,893.5 284.5,892.8 285.5,892.1 286.5,891.3 287.5,890.5 288.5,889.7 289.5,888.8 290.5,887.9 291.5,887.0 292.5,886.0 293.5,884.9 294.5,883.9 295.5,882.8 296.5,881.6 297.5,880.4 298.5,879.1 299.5,877.8 300.5,876.4 301.5,875.0 302.5,873.5 303.5,872.0 304.5,870.4 305.5,868.7 306.5,866.9 307.5,865.1 308.5,863.2 309.5,861.2 310.5,859.2 311.6,857.0 312.6,854.8 313.6,852.5 314.6,850.0 315.6,847.5 316.6,844.9 317.6,842.2 318.6,839.3 319.6,836.4 320.6,833.3 321.6,830.2 322.6,826.9 323.6,823.5 324.6,820.0 325.6,816.3 326.6,812.5 327.6,808.6 328.6,804.6 329.6,800.4 330.6,796.1 331.6,791.7 332.6,787.1 333.6,782.4 334.6,777.6 335.6,772.6 336.6,767.5 337.6,762.3 338.6,757.0 339.6,751.6 340.7,746.1 341.7,740.4 342.7,734.7 343.7,728.9 344.7,723.0 345.7,717.0 346.7,710.9 347.7,704.9 348.7,698.7 349.7,692.6 350.7,686.5 351.7,680.3 352.7,674.2 353.7,668.1 354.7,662.1 355.7,656.1 356.7,650.3 357.7,644.5 358.7,638.8 359.7,633.2 360.7,627.8 361.7,622.4 362.7,617.3 363.7,612.2 364.7,607.4 365.7,602.6 366.7,598.1 367.7,593.7 368.7,589.4 369.8,585.3 370.8,581.4 371.8,577.7 372.8,574.0 373.8,570.6 374.8,567.2 375.8,564.0 376.8,561.0 377.8,558.1 378.8,555.3 379.8,552.6 380.8,550.1 381.8,547.6 382.8,545.3 383.8,543.1 384.8,541.0 385.8,539.0 386.8,537.0 387.8,535.2 388.8,533.5 389.8,531.8 390.8,530.2 391.8,528.7 392.8,527.3 393.8,525.9 394.8,524.7 395.8,523.4 396.8,522.3 397.9,521.1 398.9,520.1 399.9,519.1 400.9,518.1 401.9,517.2 402.9,516.4 403.9,515.5 404.9,514.8 405.9,514.0 406.9,513.3 407.9,512.7 408.9,512.0 409.9,511.4 410.9,510.9 411.9,510.3 412.9,509.8 413.9,509.3 414.9,508.9 415.9,508.4 416.9,508.0 417.9,507.6 418.9,507.3 419.9,506.9 420.9,506.6 421.9,506.3 422.9,506.0 423.9,505.7 424.9,505.4 425.9,505.2 427.0,504.9 428.0,504.7 429.0,504.5 430.0,504.3 431.0,504.1 432.0,503.9 433.0,503.7 434.0,503.6 435.0,503.4 436.0,503.3 437.0,503.1 438.0,503.0 439.0,502.9 440.0,502.8 441.0,502.7 442.0,502.6 443.0,502.5 444.0,502.4 445.0,502.3 446.0,502.2 447.0,502.2 448.0,502.1 449.0,502.0 450.0,502.0 451.0,501.9 452.0,501.8 453.0,501.8 454.0,501.7 455.1,501.7 456.1,501.7 457.1,501.6 458.1,501.6 459.1,501.5 460.1,501.5 461.1,501.5 462.1,501.5 463.1,501.4 464.1,501.4 465.1,501.4 466.1,501.4 467.1,501.3 468.1,501.3 469.1,501.3 470.1,501.3 471.1,501.3 472.1,501.2 473.1,501.2 474.1,501.2 475.1,501.2 476.1,501.2 477.1,501.2 478.1,501.2 479.1,501.2 480.1,501.2 481.1,501.1 482.1,501.1 483.1,501.1 484.2,501.1 485.2,501.1 486.2,501.1 487.2,501.1 488.2,501.1 489.2,501.1 490.2,501.1 491.2,501.1 492.2,501.1 493.2,501.1 494.2,501.1 495.2,501.1 496.2,501.1 497.2,501.1 498.2,501.0 499.2,501.0 500.2,501.0 501.2,501.0 502.2,501.0 503.2,501.0 504.2,501.0 505.2,501.0 506.2,501.0 507.2,501.0 508.2,501.0 509.2,501.0 510.2,501.0 511.2,501.0 512.3,501.0 513.3,501.0 514.3,501.0 515.3,501.0 516.3,501.0 517.3,501.0 518.3,501.0 519.3,501.0 520.3,501.0 521.3,501.0 522.3,501.0 523.3,501.0 524.3,501.0 525.3,501.0 526.3,501.0 527.3,501.0 528.3,501.0 529.3,501.0 530.3,501.0 531.3,501.0 532.3,501.0 533.3,501.0 534.3,501.0 535.3,501.0 536.3,501.0 537.3,501.0 538.3,501.0 539.3,501.0 540.3,501.0 541.4,501.0 542.4,501.0 543.4,501.0 544.4,501.0 545.4,501.0 546.4,501.0 547.4,501.0 548.4,501.0 549.4,501.0 550.4,501.0 551.4,501.0 552.4,501.0 553.4,501.0 554.4,501.0 555.4,501.0 556.4,501.0 557.4,501.0 558.4,501.0 559.4,501.0 560.4,501.0 561.4,501.0 562.4,501.0 563.4,501.0 564.4,501.0 565.4,501.0 566.4,501.0 567.4,501.0 568.4,501.0 569.4,501.0 570.5,501.0 571.5,501.0 572.5,501.0 573.5,501.0 574.5,501.0 575.5,501.0 576.5,501.0 577.5,501.0 578.5,501.0 579.5,501.0 580.5,501.0 581.5,501.0 582.5,501.0 583.5,501.0 584.5,501.0 585.5,501.0 586.5,501.0 587.5,501.0 588.5,501.0 589.5,501.0 590.5,501.0 591.5,501.0 592.5,501.0 593.5,501.0 594.5,501.0 595.5,501.0 596.5,501.0 597.5,501.0 598.6,501.0 599.6,501.0 600.6,501.0 601.6,501.0 602.6,501.0 603.6,501.0 604.6,501.0 605.6,501.0 606.6,501.0 607.6,501.0 608.6,501.0 609.6,501.0 610.6,501.0 611.6,501.0 612.6,501.0 613.6,501.0 614.6,501.0 615.6,501.0 616.6,501.0 617.6,501.0 618.6,501.0 619.6,501.0 620.6,501.0 621.6,501.0 622.6,501.0 623.6,501.0 624.6,501.0 625.6,501.0 626.6,501.0 627.7,501.0 628.7,501.0 629.7,501.0 630.7,501.0 631.7,501.0 632.7,501.0 633.7,501.0 634.7,501.0 635.7,501.0 636.7,501.0 637.7,501.0 638.7,501.0 639.7,501.0 640.7,501.0 641.7,501.0 642.7,501.0 643.7,501.0 644.7,501.0 645.7,501.0 646.7,501.0 647.7,501.0 648.7,501.0 649.7,501.0 650.7,501.0 651.7,501.0 652.7,501.0 653.7,501.0 654.7,501.0 655.8,501.0 656.8,501.0 657.8,501.0 658.8,501.0 659.8,501.0 660.8,501.0 661.8,501.0 662.8,501.0 663.8,501.0 664.8,501.0 665.8,501.0 666.8,501.0 667.8,501.0 668.8,501.0 669.8,501.0" fill="none" stroke="#000000" stroke-width="4.4" stroke-linejoin="round" stroke-linecap="round" />
<polyline points="67.7,914.2 68.7,914.2 69.7,914.2 70.7,914.2 71.7,914.2 72.7,914.2 73.7,914.2 74.7,914.2 75.7,914.2 76.7,914.2 77.7,914.2 78.7,914.2 79.7,914.2 80.7,914.1 81.7,914.1 82.8,914.1 83.8,914.1 84.8,914.1 85.8,914.1 86.8,914.1 87.8,914.1 88.8,914.1 89.8,914.1 90.8,914.1 91.8,914.1 92.8,914.1 93.8,914.1 94.8,914.1 95.8,914.1 96.8,914.1 97.8,914.1 98.8,914.0 99.8,914.0 100.8,914.0 101.8,914.0 102.8,914.0 103.8,914.0 104.8,914.0 105.8,914.0 106.8,914.0 107.8,914.0 108.8,914.0 109.8,914.0 110.9,914.0 111.9,914.0 112.9,913.9 113.9,913.9 114.9,913.9 115.9,913.9 116.9,913.9 117.9,913.9 118.9,913.9 119.9,913.9 120.9,913.9 121.9,913.9 122.9,913.9 123.9,913.8 124.9,913.8 125.9,913.8 126.9,913.8 127.9,913.8 128.9,913.8 129.9,913.8 130.9,913.8 131.9,913.8 132.9,913.7 133.9,913.7 134.9,913.7 135.9,913.7 136.9,913.7 137.9,913.7 138.9,913.7 140.0,913.6 141.0,913.6 142.0,913.6 143.0,913.6 144.0,913.6 145.0,913.6 146.0,913.6 147.0,913.5 148.0,913.5 149.0,913.5 150.0,913.5 151.0,913.5 152.0,913.5 153.0,913.4 154.0,913.4 155.0,913.4 156.0,913.4 157.0,913.4 158.0,913.3 159.0,913.3 160.0,913.3 161.0,913.3 162.0,913.3 163.0,913.2 164.0,913.2 165.0,913.2 166.0,913.2 167.0,913.2 168.0,913.1 169.1,913.1 170.1,913.1 171.1,913.1 172.1,913.0 173.1,913.0 174.1,913.0 175.1,913.0 176.1,912.9 177.1,912.9 178.1,912.9 179.1,912.8 180.1,912.8 181.1,912.8 182.1,912.7 183.1,912.7 184.1,912.7 185.1,912.6 186.1,912.6 187.1,912.6 188.1,912.5 189.1,912.5 190.1,912.5 191.1,912.4 192.1,912.4 193.1,912.3 194.1,912.3 195.1,912.2 196.1,912.2 197.2,912.2 198.2,912.1 199.2,912.1 200.2,912.0 201.2,912.0 202.2,911.9 203.2,911.9 204.2,911.8 205.2,911.7 206.2,911.7 207.2,911.6 208.2,911.6 209.2,911.5 210.2,911.4 211.2,911.4 212.2,911.3 213.2,911.2 214.2,911.2 215.2,911.1 216.2,911.0 217.2,910.9 218.2,910.9 219.2,910.8 220.2,910.7 221.2,910.6 222.2,910.5 223.2,910.4 224.2,910.3 225.2,910.2 226.3,910.1 227.3,910.0 228.3,909.9 229.3,909.8 230.3,909.7 231.3,909.6 232.3,909.5 233.3,909.4 234.3,909.2 235.3,909.1 236.3,909.0 237.3,908.8 238.3,908.7 239.3,908.5 240.3,908.4 241.3,908.2 242.3,908.1 243.3,907.9 244.3,907.7 245.3,907.6 246.3,907.4 247.3,907.2 248.3,907.0 249.3,906.8 250.3,906.6 251.3,906.4 252.3,906.2 253.3,906.0 254.4,905.7 255.4,905.5 256.4,905.2 257.4,905.0 258.4,904.7 259.4,904.4 260.4,904.1 261.4,903.8 262.4,903.5 263.4,903.2 264.4,902.9 265.4,902.6 266.4,902.2 267.4,901.9 268.4,901.5 269.4,901.1 270.4,900.7 271.4,900.3 272.4,899.9 273.4,899.4 274.4,899.0 275.4,898.5 276.4,898.0 277.4,897.5 278.4,897.0 279.4,896.4 280.4,895.8 281.4,895.3 282.4,894.6 283.5,894.0 284.5,893.4 285.5,892.7 286.5,892.0 287.5,891.3 288.5,890.5 289.5,889.7 290.5,888.9 291.5,888.1 292.5,887.2 293.5,886.3 294.5,885.4 295.5,884.4 296.5,883.4 297.5,882.3 298.5,881.3 299.5,880.1 300.5,879.0 301.5,877.8 302.5,876.5 303.5,875.2 304.5,873.9 305.5,872.5 306.5,871.0 307.5,869.5 308.5,868.0 309.5,866.4 310.5,864.7 311.6,863.0 312.6,861.2 313.6,859.3 314.6,857.4 315.6,855.4 316.6,853.4 317.6,851.2 318.6,849.0 319.6,846.7 320.6,844.4 321.6,842.0 322.6,839.4 323.6,836.8 324.6,834.2 325.6,831.4 326.6,828.5 327.6,825.6 328.6,822.6 329.6,819.4 330.6,816.2 331.6,812.9 332.6,809.5 333.6,806.0 334.6,802.4 335.6,798.7 336.6,794.9 337.6,791.0 338.6,787.0 339.6,782.9 340.7,778.8 341.7,774.5 342.7,770.2 343.7,765.7 344.7,761.2 345.7,756.6 346.7,751.9 347.7,747.2 348.7,742.3 349.7,737.4 350.7,732.5 351.7,727.5 352.7,722.4 353.7,717.3 354.7,712.1 355.7,706.9 356.7,701.7 357.7,696.5 358.7,691.2 359.7,686.0 360.7,680.7 361.7,675.4 362.7,670.2 363.7,665.0 364.7,659.8 365.7,654.6 366.7,649.5 367.7,644.4 368.7,639.4 369.8,634.5 370.8,629.6 371.8,624.8 372.8,620.0 373.8,615.4 374.8,610.8 375.8,606.4 376.8,602.0 377.8,597.7 378.8,593.6 379.8,589.5 380.8,585.6 381.8,581.7 382.8,578.0 383.8,574.4 384.8,570.9 385.8,567.5 386.8,564.3 387.8,561.1 388.8,558.1 389.8,555.2 390.8,552.4 391.8,549.7 392.8,547.1 393.8,544.6 394.8,542.3 395.8,540.0 396.8,537.8 397.9,535.8 398.9,533.8 399.9,531.9 400.9,530.1 401.9,528.4 402.9,526.8 403.9,525.3 404.9,523.8 405.9,522.4 406.9,521.1 407.9,519.9 408.9,518.7 409.9,517.6 410.9,516.6 411.9,515.6 412.9,514.7 413.9,513.8 414.9,513.0 415.9,512.2 416.9,511.4 417.9,510.7 418.9,510.1 419.9,509.5 420.9,508.9 421.9,508.4 422.9,507.9 423.9,507.4 424.9,507.0 425.9,506.5 427.0,506.2 428.0,505.8 429.0,505.5 430.0,505.1 431.0,504.8 432.0,504.6 433.0,504.3 434.0,504.1 435.0,503.8 436.0,503.6 437.0,503.4 438.0,503.3 439.0,503.1 440.0,502.9 441.0,502.8 442.0,502.7 443.0,502.5 444.0,502.4 445.0,502.3 446.0,502.2 447.0,502.1 448.0,502.1 449.0,502.0 450.0,501.9 451.0,501.8 452.0,501.8 453.0,501.7 454.0,501.7 455.1,501.6 456.1,501.6 457.1,501.5 458.1,501.5 459.1,501.5 460.1,501.4 461.1,501.4 462.1,501.4 463.1,501.3 464.1,501.3 465.1,501.3 466.1,501.3 467.1,501.2 468.1,501.2 469.1,501.2 470.1,501.2 471.1,501.2 472.1,501.2 473.1,501.2 474.1,501.1 475.1,501.1 476.1,501.1 477.1,501.1 478.1,501.1 479.1,501.1 480.1,501.1 481.1,501.1 482.1,501.1 483.1,501.1 484.2,501.1 485.2,501.1 486.2,501.1 487.2,501.1 488.2,501.0 489.2,501.0 490.2,501.0 491.2,501.0 492.2,501.0 493.2,501.0 494.2,501.0 495.2,501.0 496.2,501.0 497.2,501.0 498.2,501.0 499.2,501.0 500.2,501.0 501.2,501.0 502.2,501.0 503.2,501.0 504.2,501.0 505.2,501.0 506.2,501.0 507.2,501.0 508.2,501.0 509.2,501.0 510.2,501.0 511.2,501.0 512.3,501.0 513.3,501.0 514.3,501.0 515.3,501.0 516.3,501.0 517.3,501.0 518.3,501.0 519.3,501.0 520.3,501.0 521.3,501.0 522.3,501.0 523.3,501.0 524.3,501.0 525.3,501.0 526.3,501.0 527.3,501.0 528.3,501.0 529.3,501.0 530.3,501.0 531.3,501.0 532.3,501.0 533.3,501.0 534.3,501.0 535.3,501.0 536.3,501.0 537.3,501.0 538.3,501.0 539.3,501.0 540.3,501.0 541.4,501.0 542.4,501.0 543.4,501.0 544.4,501.0 545.4,501.0 546.4,501.0 547.4,501.0 548.4,501.0 549.4,501.0 550.4,501.0 551.4,501.0 552.4,501.0 553.4,501.0 554.4,501.0 555.4,501.0 556.4,501.0 557.4,501.0 558.4,501.0 559.4,501.0 560.4,501.0 561.4,501.0 562.4,501.0 563.4,501.0 564.4,501.0 565.4,501.0 566.4,501.0 567.4,501.0 568.4,501.0 569.4,501.0 570.5,501.0 571.5,501.0 572.5,501.0 573.5,501.0 574.5,501.0 575.5,501.0 576.5,501.0 577.5,501.0 578.5,501.0 579.5,501.0 580.5,501.0 581.5,501.0 582.5,501.0 583.5,501.0 584.5,501.0 585.5,501.0 586.5,501.0 587.5,501.0 588.5,501.0 589.5,501.0 590.5,501.0 591.5,501.0 592.5,501.0 593.5,501.0 594.5,501.0 595.5,501.0 596.5,501.0 597.5,501.0 598.6,501.0 599.6,501.0 600.6,501.0 601.6,501.0 602.6,501.0 603.6,501.0 604.6,501.0 605.6,501.0 606.6,501.0 607.6,501.0 608.6,501.0 609.6,501.0 610.6,501.0 611.6,501.0 612.6,501.0 613.6,501.0 614.6,501.0 615.6,501.0 616.6,501.0 617.6,501.0 618.6,501.0 619.6,501.0 620.6,501.0 621.6,501.0 622.6,501.0 623.6,501.0 624.6,501.0 625.6,501.0 626.6,501.0 627.7,501.0 628.7,501.0 629.7,501.0 630.7,501.0 631.7,501.0 632.7,501.0 633.7,501.0 634.7,501.0 635.7,501.0 636.7,501.0 637.7,501.0 638.7,501.0 639.7,501.0 640.7,501.0 641.7,501.0 642.7,501.0 643.7,501.0 644.7,501.0 645.7,501.0 646.7,501.0 647.7,501.0 648.7,501.0 649.7,501.0 650.7,501.0 651.7,501.0 652.7,501.0 653.7,501.0 654.7,501.0 655.8,501.0 656.8,501.0 657.8,501.0 658.8,501.0 659.8,501.0 660.8,501.0 661.8,501.0 662.8,501.0 663.8,501.0 664.8,501.0 665.8,501.0 666.8,501.0 667.8,501.0 668.8,501.0 669.8,501.0" fill="none" stroke="#6e4428" stroke-width="1.7" stroke-linejoin="round" stroke-linecap="round" />
<polyline points="67.7,914.2 68.7,914.2 69.7,914.2 70.7,914.2 71.7,914.2 72.7,914.2 73.7,914.2 74.7,914.2 75.7,914.2 76.7,914.2 77.7,914.2 78.7,914.2 79.7,914.2 80.7,914.2 81.7,914.2 82.8,914.2 83.8,914.2 84.8,914.2 85.8,914.2 86.8,914.1 87.8,914.1 88.8,914.1 89.8,914.1 90.8,914.1 91.8,914.1 92.8,914.1 93.8,914.1 94.8,914.1 95.8,914.1 96.8,914.1 97.8,914.1 98.8,914.1 99.8,914.1 100.8,914.1 101.8,914.1 102.8,914.1 103.8,914.0 104.8,914.0 105.8,914.0 106.8,914.0 107.8,914.0 108.8,914.0 109.8,914.0 110.9,914.0 111.9,914.0 112.9,914.0 113.9,914.0 114.9,914.0 115.9,914.0 116.9,913.9 117.9,913.9 118.9,913.9 119.9,913.9 120.9,913.9 121.9,913.9 122.9,913.9 123.9,913.9 124.9,913.9 125.9,913.9 126.9,913.8 127.9,913.8 128.9,913.8 129.9,913.8 130.9,913.8 131.9,913.8 132.9,913.8 133.9,913.8 134.9,913.8 135.9,913.7 136.9,913.7 137.9,913.7 138.9,913.7 140.0,913.7 141.0,913.7 142.0,913.7 143.0,913.6 144.0,913.6 145.0,913.6 146.0,913.6 147.0,913.6 148.0,913.6 149.0,913.5 150.0,913.5 151.0,913.5 152.0,913.5 153.0,913.5 154.0,913.5 155.0,913.4 156.0,913.4 157.0,913.4 158.0,913.4 159.0,913.4 160.0,913.3 161.0,913.3 162.0,913.3 163.0,913.3 164.0,913.3 165.0,913.2 166.0,913.2 167.0,913.2 168.0,913.2 169.1,913.1 170.1,913.1 171.1,913.1 172.1,913.1 173.1,913.0 174.1,913.0 175.1,913.0 176.1,912.9 177.1,912.9 178.1,912.9 179.1,912.9 180.1,912.8 181.1,912.8 182.1,912.8 183.1,912.7 184.1,912.7 185.1,912.6 186.1,912.6 187.1,912.6 188.1,912.5 189.1,912.5 190.1,912.4 191.1,912.4 192.1,912.4 193.1,912.3 194.1,912.3 195.1,912.2 196.1,912.2 197.2,912.1 198.2,912.1 199.2,912.0 200.2,912.0 201.2,911.9 202.2,911.8 203.2,911.8 204.2,911.7 205.2,911.7 206.2,911.6 207.2,911.5 208.2,911.5 209.2,911.4 210.2,911.3 211.2,911.2 212.2,911.2 213.2,911.1 214.2,911.0 215.2,910.9 216.2,910.8 217.2,910.8 218.2,910.7 219.2,910.6 220.2,910.5 221.2,910.4 222.2,910.3 223.2,910.2 224.2,910.1 225.2,909.9 226.3,909.8 227.3,909.7 228.3,909.6 229.3,909.5 230.3,909.3 231.3,909.2 232.3,909.0 233.3,908.9 234.3,908.8 235.3,908.6 236.3,908.4 237.3,908.3 238.3,908.1 239.3,907.9 240.3,907.8 241.3,907.6 242.3,907.4 243.3,907.2 244.3,907.0 245.3,906.8 246.3,906.5 247.3,906.3 248.3,906.1 249.3,905.8 250.3,905.6 251.3,905.3 252.3,905.1 253.3,904.8 254.4,904.5 255.4,904.2 256.4,903.9 257.4,903.6 258.4,903.3 259.4,902.9 260.4,902.6 261.4,902.2 262.4,901.9 263.4,901.5 264.4,901.1 265.4,900.7 266.4,900.2 267.4,899.8 268.4,899.3 269.4,898.9 270.4,898.4 271.4,897.9 272.4,897.3 273.4,896.8 274.4,896.2 275.4,895.2 276.4,894.2 277.4,893.1 278.4,891.9 279.4,890.6 280.4,889.3 281.4,887.9 282.4,886.4 283.5,884.7 284.5,883.0 285.5,881.2 286.5,879.3 287.5,877.3 288.5,875.1 289.5,872.8 290.5,870.4 291.5,867.8 292.5,865.1 293.5,862.3 294.5,859.3 295.5,856.1 296.5,852.8 297.5,849.3 298.5,845.7 299.5,841.8 300.5,837.9 301.5,833.7 302.5,829.3 303.5,824.8 304.5,820.1 305.5,815.2 306.5,810.2 307.5,805.0 308.5,799.6 309.5,794.1 310.5,788.4 311.6,782.6 312.6,776.7 313.6,770.7 314.6,764.5 315.6,758.3 316.6,752.0 317.6,745.7 318.6,739.2 319.6,732.8 320.6,726.4 321.6,719.9 322.6,713.5 323.6,707.1 324.6,700.7 325.6,694.4 326.6,688.2 327.6,682.0 328.6,676.0 329.6,670.0 330.6,664.1 331.6,658.4 332.6,652.8 333.6,647.3 334.6,641.9 335.6,636.7 336.6,631.5 337.6,626.6 338.6,621.7 339.6,617.0 340.7,612.5 341.7,608.1 342.7,603.8 343.7,599.7 344.7,595.7 345.7,591.8 346.7,588.1 347.7,584.5 348.7,581.0 349.7,577.7 350.7,574.5 351.7,571.4 352.7,568.4 353.7,565.5 354.7,562.8 355.7,560.1 356.7,557.6 357.7,555.2 358.7,552.8 359.7,550.6 360.7,548.4 361.7,546.3 362.7,544.4 363.7,542.5 364.7,540.7 365.7,538.9 366.7,537.2 367.7,535.6 368.7,534.1 369.8,532.6 370.8,531.2 371.8,529.9 372.8,528.6 373.8,527.4 374.8,526.2 375.8,525.1 376.8,524.0 377.8,522.9 378.8,521.9 379.8,521.0 380.8,520.1 381.8,519.2 382.8,518.4 383.8,517.6 384.8,516.8 385.8,516.1 386.8,515.4 387.8,514.7 388.8,514.1 389.8,513.5 390.8,512.9 391.8,512.4 392.8,511.8 393.8,511.3 394.8,510.8 395.8,510.4 396.8,509.9 397.9,509.5 398.9,509.1 399.9,508.7 400.9,508.3 401.9,508.0 402.9,507.6 403.9,507.3 404.9,507.0 405.9,506.7 406.9,506.4 407.9,506.1 408.9,505.9 409.9,505.6 410.9,505.4 411.9,505.2 412.9,505.0 413.9,504.8 414.9,504.6 415.9,504.4 416.9,504.2 417.9,504.0 418.9,503.9 419.9,503.7 420.9,503.6 421.9,503.4 422.9,503.3 423.9,503.2 424.9,503.1 425.9,503.0 427.0,502.9 428.0,502.8 429.0,502.7 430.0,502.6 431.0,502.5 432.0,502.4 433.0,502.3 434.0,502.3 435.0,502.2 436.0,502.1 437.0,502.1 438.0,502.0 439.0,502.0 440.0,501.9 441.0,501.9 442.0,501.8 443.0,501.8 444.0,501.7 445.0,501.7 446.0,501.7 447.0,501.6 448.0,501.6 449.0,501.6 450.0,501.5 451.0,501.5 452.0,501.5 453.0,501.4 454.0,501.4 455.1,501.4 456.1,501.4 457.1,501.4 458.1,501.3 459.1,501.3 460.1,501.3 461.1,501.3 462.1,501.3 463.1,501.3 464.1,501.2 465.1,501.2 466.1,501.2 467.1,501.2 468.1,501.2 469.1,501.2 470.1,501.2 471.1,501.2 472.1,501.2 473.1,501.1 474.1,501.1 475.1,501.1 476.1,501.1 477.1,501.1 478.1,501.1 479.1,501.1 480.1,501.1 481.1,501.1 482.1,501.1 483.1,501.1 484.2,501.1 485.2,501.1 486.2,501.1 487.2,501.1 488.2,501.1 489.2,501.1 490.2,501.1 491.2,501.1 492.2,501.1 493.2,501.0 494.2,501.0 495.2,501.0 496.2,501.0 497.2,501.0 498.2,501.0 499.2,501.0 500.2,501.0 501.2,501.0 502.2,501.0 503.2,501.0 504.2,501.0 505.2,501.0 506.2,501.0 507.2,501.0 508.2,501.0 509.2,501.0 510.2,501.0 511.2,501.0 512.3,501.0 513.3,501.0 514.3,501.0 515.3,501.0 516.3,501.0 517.3,501.0 518.3,501.0 519.3,501.0 520.3,501.0 521.3,501.0 522.3,501.0 523.3,501.0 524.3,501.0 525.3,501.0 526.3,501.0 527.3,501.0 528.3,501.0 529.3,501.0 530.3,501.0 531.3,501.0 532.3,501.0 533.3,501.0 534.3,501.0 535.3,501.0 536.3,501.0 537.3,501.0 538.3,501.0 539.3,501.0 540.3,501.0 541.4,501.0 542.4,501.0 543.4,501.0 544.4,501.0 545.4,501.0 546.4,501.0 547.4,501.0 548.4,501.0 549.4,501.0 550.4,501.0 551.4,501.0 552.4,501.0 553.4,501.0 554.4,501.0 555.4,501.0 556.4,501.0 557.4,501.0 558.4,501.0 559.4,501.0 560.4,501.0 561.4,501.0 562.4,501.0 563.4,501.0 564.4,501.0 565.4,501.0 566.4,501.0 567.4,501.0 568.4,501.0 569.4,501.0 570.5,501.0 571.5,501.0 572.5,501.0 573.5,501.0 574.5,501.0 575.5,501.0 576.5,501.0 577.5,501.0 578.5,501.0 579.5,501.0 580.5,501.0 581.5,501.0 582.5,501.0 583.5,501.0 584.5,501.0 585.5,501.0 586.5,501.0 587.5,501.0 588.5,501.0 589.5,501.0 590.5,501.0 591.5,501.0 592.5,501.0 593.5,501.0 594.5,501.0 595.5,501.0 596.5,501.0 597.5,501.0 598.6,501.0 599.6,501.0 600.6,501.0 601.6,501.0 602.6,501.0 603.6,501.0 604.6,501.0 605.6,501.0 606.6,501.0 607.6,501.0 608.6,501.0 609.6,501.0 610.6,501.0 611.6,501.0 612.6,501.0 613.6,501.0 614.6,501.0 615.6,501.0 616.6,501.0 617.6,501.0 618.6,501.0 619.6,501.0 620.6,501.0 621.6,501.0 622.6,501.0 623.6,501.0 624.6,501.0 625.6,501.0 626.6,501.0 627.7,501.0 628.7,501.0 629.7,501.0 630.7,501.0 631.7,501.0 632.7,501.0 633.7,501.0 634.7,501.0 635.7,501.0 636.7,501.0 637.7,501.0 638.7,501.0 639.7,501.0 640.7,501.0 641.7,501.0 642.7,501.0 643.7,501.0 644.7,501.0 645.7,501.0 646.7,501.0 647.7,501.0 648.7,501.0 649.7,501.0 650.7,501.0 651.7,501.0 652.7,501.0 653.7,501.0 654.7,501.0 655.8,501.0 656.8,501.0 657.8,501.0 658.8,501.0 659.8,501.0 660.8,501.0 661.8,501.0 662.8,501.0 663.8,501.0 664.8,501.0 665.8,501.0 666.8,501.0 667.8,501.0 668.8,501.0 669.8,501.0" fill="none" stroke="#d27a45" stroke-width="1.7" stroke-linejoin="round" stroke-linecap="round" />
</g>
<line x1="67.7" y1="542.34" x2="669.8" y2="542.34" stroke="#0000d0" stroke-width="2.3" stroke-dasharray="11 10.58"/>
<line x1="67.7" y1="707.7" x2="669.8" y2="707.7" stroke="#20e020" stroke-width="2.3" stroke-dasharray="11 10.58"/>
<line x1="67.7" y1="873.06" x2="669.8" y2="873.06" stroke="#e01818" stroke-width="2.3" stroke-dasharray="11 10.58"/>
<text x="67.7" y="936.4" font-size="17" fill="#000" text-anchor="middle" font-weight="normal" font-style="normal" >8</text>
<text x="168.05" y="936.4" font-size="17" fill="#000" text-anchor="middle" font-weight="normal" font-style="normal" >10</text>
<text x="268.4" y="936.4" font-size="17" fill="#000" text-anchor="middle" font-weight="normal" font-style="normal" >12</text>
<text x="368.75" y="936.4" font-size="17" fill="#000" text-anchor="middle" font-weight="normal" font-style="normal" >14</text>
<text x="469.1" y="936.4" font-size="17" fill="#000" text-anchor="middle" font-weight="normal" font-style="normal" >16</text>
<text x="569.45" y="936.4" font-size="17" fill="#000" text-anchor="middle" font-weight="normal" font-style="normal" >18</text>
<text x="669.8" y="936.4" font-size="17" fill="#000" text-anchor="middle" font-weight="normal" font-style="normal" >20</text>
<text x="52.25" y="920.9" font-size="17.8" fill="#000" font-weight="normal" font-style="normal" textLength="9.44" lengthAdjust="spacingAndGlyphs" >0</text>
<text x="42.81" y="879.56" font-size="17.8" fill="#000" font-weight="normal" font-style="normal" textLength="18.89" lengthAdjust="spacingAndGlyphs" >10</text>
<text x="42.81" y="838.22" font-size="17.8" fill="#000" font-weight="normal" font-style="normal" textLength="18.89" lengthAdjust="spacingAndGlyphs" >20</text>
<text x="42.81" y="796.88" font-size="17.8" fill="#000" font-weight="normal" font-style="normal" textLength="18.89" lengthAdjust="spacingAndGlyphs" >30</text>
<text x="42.81" y="755.54" font-size="17.8" fill="#000" font-weight="normal" font-style="normal" textLength="18.89" lengthAdjust="spacingAndGlyphs" >40</text>
<text x="42.81" y="714.2" font-size="17.8" fill="#000" font-weight="normal" font-style="normal" textLength="18.89" lengthAdjust="spacingAndGlyphs" >50</text>
<text x="42.81" y="672.86" font-size="17.8" fill="#000" font-weight="normal" font-style="normal" textLength="18.89" lengthAdjust="spacingAndGlyphs" >60</text>
<text x="42.81" y="631.52" font-size="17.8" fill="#000" font-weight="normal" font-style="normal" textLength="18.89" lengthAdjust="spacingAndGlyphs" >70</text>
<text x="42.81" y="590.18" font-size="17.8" fill="#000" font-weight="normal" font-style="normal" textLength="18.89" lengthAdjust="spacingAndGlyphs" >80</text>
<text x="42.81" y="548.84" font-size="17.8" fill="#000" font-weight="normal" font-style="normal" textLength="18.89" lengthAdjust="spacingAndGlyphs" >90</text>
<text x="33.36" y="507.5" font-size="17.8" fill="#000" font-weight="normal" font-style="normal" textLength="28.33" lengthAdjust="spacingAndGlyphs" >100</text>
<text x="328.03" y="954.6" font-size="17" fill="#000" font-weight="normal" font-style="normal" textLength="69.51" lengthAdjust="spacingAndGlyphs" >Mass (M</text>
<text x="397.3" y="962.9" font-size="13.5" fill="#000" font-weight="normal" font-style="normal" textLength="7.31" lengthAdjust="spacingAndGlyphs" >J</text>
<text x="404.3" y="954.6" font-size="17" fill="#000" font-weight="normal" font-style="normal" textLength="5.66" lengthAdjust="spacingAndGlyphs" >)</text>
<text x="-100.78" y="703.55" font-size="17.5" fill="#000" font-weight="normal" font-style="normal" textLength="242.27" lengthAdjust="spacingAndGlyphs" transform="rotate(-90 19.2 703.55)">Fraction of initial D burned (%)</text>
<text x="117.7" y="534.84" font-size="24.5" fill="#0000d0" text-anchor="start" font-weight="bold" font-style="normal" >90%</text>
<text x="117.7" y="700.2" font-size="24.5" fill="#20e020" text-anchor="start" font-weight="bold" font-style="normal" >50%</text>
<text x="117.7" y="865.56" font-size="24.5" fill="#e01818" text-anchor="start" font-weight="bold" font-style="normal" >10%</text>
<text x="419.16" y="736.7" font-size="22.4" fill="#000" font-weight="normal" font-style="normal" textLength="210.05" lengthAdjust="spacingAndGlyphs" >Deuterium Fractions</text>
<text x="419.18" y="762" font-size="17.6" fill="#d27a45" font-weight="normal" font-style="normal" textLength="22.94" lengthAdjust="spacingAndGlyphs" >D4</text>
<text x="419.18" y="782.75" font-size="17.6" fill="#000000" font-weight="normal" font-style="normal" textLength="22.94" lengthAdjust="spacingAndGlyphs" >D2</text>
<text x="419.18" y="803.5" font-size="17.6" fill="#6e4428" font-weight="normal" font-style="normal" textLength="22.94" lengthAdjust="spacingAndGlyphs" >D1</text>
<text x="420.2" y="824.25" font-size="17.6" fill="#6e6e6e" font-weight="normal" font-style="normal" textLength="35.91" lengthAdjust="spacingAndGlyphs" >Z1.0</text>
<path d="M67.7,1405.4v-6M67.7,983.5v6M168.05,1405.4v-6M168.05,983.5v6M268.4,1405.4v-6M268.4,983.5v6M368.75,1405.4v-6M368.75,983.5v6M469.1,1405.4v-6M469.1,983.5v6M569.45,1405.4v-6M569.45,983.5v6M669.8,1405.4v-6M669.8,983.5v6M87.77,1405.4v-3M87.77,983.5v3M107.84,1405.4v-3M107.84,983.5v3M127.91,1405.4v-3M127.91,983.5v3M147.98,1405.4v-3M147.98,983.5v3M188.12,1405.4v-3M188.12,983.5v3M208.19,1405.4v-3M208.19,983.5v3M228.26,1405.4v-3M228.26,983.5v3M248.33,1405.4v-3M248.33,983.5v3M288.47,1405.4v-3M288.47,983.5v3M308.54,1405.4v-3M308.54,983.5v3M328.61,1405.4v-3M328.61,983.5v3M348.68,1405.4v-3M348.68,983.5v3M388.82,1405.4v-3M388.82,983.5v3M408.89,1405.4v-3M408.89,983.5v3M428.96,1405.4v-3M428.96,983.5v3M449.03,1405.4v-3M449.03,983.5v3M489.17,1405.4v-3M489.17,983.5v3M509.24,1405.4v-3M509.24,983.5v3M529.31,1405.4v-3M529.31,983.5v3M549.38,1405.4v-3M549.38,983.5v3M589.52,1405.4v-3M589.52,983.5v3M609.59,1405.4v-3M609.59,983.5v3M629.66,1405.4v-3M629.66,983.5v3M649.73,1405.4v-3M649.73,983.5v3M67.7,1405.4h6M669.8,1405.4h-6M67.7,1364.02h6M669.8,1364.02h-6M67.7,1322.64h6M669.8,1322.64h-6M67.7,1281.26h6M669.8,1281.26h-6M67.7,1239.88h6M669.8,1239.88h-6M67.7,1198.5h6M669.8,1198.5h-6M67.7,1157.12h6M669.8,1157.12h-6M67.7,1115.74h6M669.8,1115.74h-6M67.7,1074.36h6M669.8,1074.36h-6M67.7,1032.98h6M669.8,1032.98h-6M67.7,991.6h6M669.8,991.6h-6M67.7,1384.71h3M669.8,1384.71h-3M67.7,1343.33h3M669.8,1343.33h-3M67.7,1301.95h3M669.8,1301.95h-3M67.7,1260.57h3M669.8,1260.57h-3M67.7,1219.19h3M669.8,1219.19h-3M67.7,1177.81h3M669.8,1177.81h-3M67.7,1136.43h3M669.8,1136.43h-3M67.7,1095.05h3M669.8,1095.05h-3M67.7,1053.67h3M669.8,1053.67h-3M67.7,1012.29h3M669.8,1012.29h-3" stroke="#000" stroke-width="1.28" fill="none"/>
<rect x="67.7" y="983.5" width="602.1" height="421.9" fill="none" stroke="#000" stroke-width="1.6" stroke-linejoin="miter"/>
<g clip-path="url(#clip983)">
<polyline points="67.7,1405.4 68.7,1405.4 69.7,1405.4 70.7,1405.4 71.7,1405.4 72.7,1405.4 73.7,1405.4 74.7,1405.4 75.7,1405.4 76.7,1405.4 77.7,1405.4 78.7,1405.4 79.7,1405.4 80.7,1405.4 81.7,1405.4 82.8,1405.4 83.8,1405.4 84.8,1405.4 85.8,1405.4 86.8,1405.4 87.8,1405.4 88.8,1405.4 89.8,1405.4 90.8,1405.4 91.8,1405.4 92.8,1405.4 93.8,1405.4 94.8,1405.4 95.8,1405.4 96.8,1405.4 97.8,1405.4 98.8,1405.4 99.8,1405.4 100.8,1405.4 101.8,1405.4 102.8,1405.4 103.8,1405.4 104.8,1405.4 105.8,1405.4 106.8,1405.4 107.8,1405.4 108.8,1405.4 109.8,1405.4 110.9,1405.4 111.9,1405.4 112.9,1405.4 113.9,1405.4 114.9,1405.4 115.9,1405.4 116.9,1405.4 117.9,1405.4 118.9,1405.4 119.9,1405.4 120.9,1405.4 121.9,1405.4 122.9,1405.4 123.9,1405.4 124.9,1405.4 125.9,1405.4 126.9,1405.4 127.9,1405.4 128.9,1405.4 129.9,1405.4 130.9,1405.4 131.9,1405.4 132.9,1405.4 133.9,1405.4 134.9,1405.4 135.9,1405.4 136.9,1405.4 137.9,1405.4 138.9,1405.4 140.0,1405.4 141.0,1405.4 142.0,1405.4 143.0,1405.4 144.0,1405.4 145.0,1405.4 146.0,1405.4 147.0,1405.4 148.0,1405.4 149.0,1405.4 150.0,1405.4 151.0,1405.4 152.0,1405.4 153.0,1405.4 154.0,1405.4 155.0,1405.4 156.0,1405.4 157.0,1405.4 158.0,1405.4 159.0,1405.4 160.0,1405.4 161.0,1405.4 162.0,1405.4 163.0,1405.3 164.0,1405.3 165.0,1405.3 166.0,1405.3 167.0,1405.3 168.0,1405.3 169.1,1405.3 170.1,1405.3 171.1,1405.3 172.1,1405.3 173.1,1405.3 174.1,1405.3 175.1,1405.3 176.1,1405.3 177.1,1405.3 178.1,1405.3 179.1,1405.3 180.1,1405.3 181.1,1405.3 182.1,1405.3 183.1,1405.3 184.1,1405.3 185.1,1405.3 186.1,1405.3 187.1,1405.3 188.1,1405.3 189.1,1405.3 190.1,1405.3 191.1,1405.3 192.1,1405.3 193.1,1405.3 194.1,1405.2 195.1,1405.2 196.1,1405.2 197.2,1405.2 198.2,1405.2 199.2,1405.2 200.2,1405.2 201.2,1405.2 202.2,1405.2 203.2,1405.2 204.2,1405.2 205.2,1405.2 206.2,1405.2 207.2,1405.2 208.2,1405.2 209.2,1405.1 210.2,1405.1 211.2,1405.1 212.2,1405.1 213.2,1405.1 214.2,1405.1 215.2,1405.1 216.2,1405.1 217.2,1405.1 218.2,1405.0 219.2,1405.0 220.2,1405.0 221.2,1405.0 222.2,1405.0 223.2,1405.0 224.2,1405.0 225.2,1404.9 226.3,1404.9 227.3,1404.9 228.3,1404.9 229.3,1404.9 230.3,1404.9 231.3,1404.8 232.3,1404.8 233.3,1404.8 234.3,1404.8 235.3,1404.8 236.3,1404.7 237.3,1404.7 238.3,1404.7 239.3,1404.7 240.3,1404.6 241.3,1404.6 242.3,1404.6 243.3,1404.6 244.3,1404.5 245.3,1404.5 246.3,1404.5 247.3,1404.4 248.3,1404.4 249.3,1404.4 250.3,1404.3 251.3,1404.3 252.3,1404.3 253.3,1404.2 254.4,1404.2 255.4,1404.1 256.4,1404.1 257.4,1404.1 258.4,1404.0 259.4,1404.0 260.4,1403.9 261.4,1403.9 262.4,1403.8 263.4,1403.8 264.4,1403.7 265.4,1403.7 266.4,1403.6 267.4,1403.6 268.4,1403.5 269.4,1403.5 270.4,1403.4 271.4,1403.3 272.4,1403.3 273.4,1403.2 274.4,1403.1 275.4,1403.1 276.4,1403.0 277.4,1402.9 278.4,1402.9 279.4,1402.8 280.4,1402.7 281.4,1402.6 282.4,1402.6 283.5,1402.5 284.5,1402.4 285.5,1402.3 286.5,1402.2 287.5,1402.2 288.5,1402.1 289.5,1402.0 290.5,1401.9 291.5,1401.8 292.5,1401.7 293.5,1401.6 294.5,1401.5 295.5,1401.4 296.5,1401.3 297.5,1401.2 298.5,1401.0 299.5,1400.9 300.5,1400.8 301.5,1400.7 302.5,1400.6 303.5,1400.4 304.5,1400.3 305.5,1400.2 306.5,1400.0 307.5,1399.9 308.5,1399.8 309.5,1399.6 310.5,1399.5 311.6,1399.3 312.6,1399.2 313.6,1399.0 314.6,1398.8 315.6,1398.7 316.6,1398.5 317.6,1398.3 318.6,1398.1 319.6,1397.9 320.6,1397.7 321.6,1397.6 322.6,1397.4 323.6,1397.1 324.6,1396.9 325.6,1396.7 326.6,1396.5 327.6,1396.3 328.6,1396.0 329.6,1395.8 330.6,1395.5 331.6,1395.3 332.6,1395.0 333.6,1394.8 334.6,1394.5 335.6,1394.2 336.6,1393.9 337.6,1393.6 338.6,1393.3 339.6,1393.0 340.7,1392.7 341.7,1392.3 342.7,1392.0 343.7,1391.7 344.7,1391.3 345.7,1390.9 346.7,1390.5 347.7,1390.2 348.7,1389.7 349.7,1389.3 350.7,1388.9 351.7,1388.5 352.7,1388.0 353.7,1387.5 354.7,1387.1 355.7,1386.6 356.7,1386.1 357.7,1385.5 358.7,1385.0 359.7,1384.4 360.7,1383.9 361.7,1383.3 362.7,1382.7 363.7,1382.0 364.7,1381.4 365.7,1380.7 366.7,1380.0 367.7,1379.3 368.7,1378.6 369.8,1377.8 370.8,1377.1 371.8,1376.3 372.8,1375.4 373.8,1374.6 374.8,1373.7 375.8,1372.8 376.8,1371.8 377.8,1370.9 378.8,1369.9 379.8,1368.8 380.8,1367.8 381.8,1366.6 382.8,1365.5 383.8,1364.3 384.8,1363.1 385.8,1361.8 386.8,1360.5 387.8,1359.2 388.8,1357.8 389.8,1356.4 390.8,1354.9 391.8,1353.4 392.8,1351.8 393.8,1350.2 394.8,1348.5 395.8,1346.7 396.8,1344.9 397.9,1343.1 398.9,1341.2 399.9,1339.2 400.9,1337.2 401.9,1335.1 402.9,1332.9 403.9,1330.6 404.9,1328.3 405.9,1325.9 406.9,1323.5 407.9,1321.0 408.9,1318.3 409.9,1315.7 410.9,1312.9 411.9,1310.0 412.9,1307.1 413.9,1304.1 414.9,1301.0 415.9,1297.8 416.9,1294.5 417.9,1291.1 418.9,1287.7 419.9,1284.1 420.9,1280.5 421.9,1276.8 422.9,1272.9 423.9,1269.0 424.9,1265.0 425.9,1261.0 427.0,1256.8 428.0,1252.5 429.0,1248.2 430.0,1243.8 431.0,1239.3 432.0,1234.7 433.0,1230.0 434.0,1225.3 435.0,1220.5 436.0,1215.7 437.0,1210.8 438.0,1205.8 439.0,1200.8 440.0,1195.8 441.0,1190.7 442.0,1185.6 443.0,1180.5 444.0,1175.3 445.0,1170.2 446.0,1165.1 447.0,1160.0 448.0,1154.9 449.0,1149.9 450.0,1144.9 451.0,1140.0 452.0,1135.1 453.0,1130.3 454.0,1125.5 455.1,1120.9 456.1,1116.3 457.1,1111.8 458.1,1107.4 459.1,1103.2 460.1,1099.0 461.1,1094.9 462.1,1091.0 463.1,1087.1 464.1,1083.4 465.1,1079.8 466.1,1076.3 467.1,1073.0 468.1,1069.7 469.1,1066.6 470.1,1063.5 471.1,1060.6 472.1,1057.8 473.1,1055.1 474.1,1052.6 475.1,1050.1 476.1,1047.7 477.1,1045.4 478.1,1043.2 479.1,1041.0 480.1,1039.0 481.1,1037.0 482.1,1035.1 483.1,1033.3 484.2,1031.5 485.2,1029.8 486.2,1028.2 487.2,1026.6 488.2,1025.1 489.2,1023.6 490.2,1022.2 491.2,1020.8 492.2,1019.5 493.2,1018.2 494.2,1017.0 495.2,1015.9 496.2,1014.7 497.2,1013.6 498.2,1012.6 499.2,1011.6 500.2,1010.6 501.2,1009.7 502.2,1008.8 503.2,1007.9 504.2,1007.1 505.2,1006.3 506.2,1005.5 507.2,1004.8 508.2,1004.1 509.2,1003.4 510.2,1002.7 511.2,1002.1 512.3,1001.5 513.3,1000.9 514.3,1000.4 515.3,999.9 516.3,999.4 517.3,998.9 518.3,998.4 519.3,998.2 520.3,998.0 521.3,997.9 522.3,997.8 523.3,997.7 524.3,997.6 525.3,997.5 526.3,997.3 527.3,997.2 528.3,997.1 529.3,997.0 530.3,996.9 531.3,996.8 532.3,996.7 533.3,996.6 534.3,996.5 535.3,996.4 536.3,996.3 537.3,996.2 538.3,996.1 539.3,996.0 540.3,995.9 541.4,995.8 542.4,995.7 543.4,995.6 544.4,995.6 545.4,995.5 546.4,995.4 547.4,995.3 548.4,995.2 549.4,995.1 550.4,995.1 551.4,995.0 552.4,994.9 553.4,994.8 554.4,994.8 555.4,994.7 556.4,994.6 557.4,994.6 558.4,994.5 559.4,994.4 560.4,994.4 561.4,994.3 562.4,994.2 563.4,994.2 564.4,994.1 565.4,994.1 566.4,994.0 567.4,994.0 568.4,993.9 569.4,993.8 570.5,993.8 571.5,993.7 572.5,993.7 573.5,993.6 574.5,993.6 575.5,993.5 576.5,993.5 577.5,993.5 578.5,993.4 579.5,993.4 580.5,993.3 581.5,993.3 582.5,993.3 583.5,993.2 584.5,993.2 585.5,993.1 586.5,993.1 587.5,993.1 588.5,993.0 589.5,993.0 590.5,993.0 591.5,992.9 592.5,992.9 593.5,992.9 594.5,992.8 595.5,992.8 596.5,992.8 597.5,992.8 598.6,992.7 599.6,992.7 600.6,992.7 601.6,992.7 602.6,992.6 603.6,992.6 604.6,992.6 605.6,992.6 606.6,992.5 607.6,992.5 608.6,992.5 609.6,992.5 610.6,992.5 611.6,992.4 612.6,992.4 613.6,992.4 614.6,992.4 615.6,992.4 616.6,992.3 617.6,992.3 618.6,992.3 619.6,992.3 620.6,992.3 621.6,992.3 622.6,992.3 623.6,992.2 624.6,992.2 625.6,992.2 626.6,992.2 627.7,992.2 628.7,992.2 629.7,992.2 630.7,992.1 631.7,992.1 632.7,992.1 633.7,992.1 634.7,992.1 635.7,992.1 636.7,992.1 637.7,992.1 638.7,992.1 639.7,992.1 640.7,992.0 641.7,992.0 642.7,992.0 643.7,992.0 644.7,992.0 645.7,992.0 646.7,992.0 647.7,992.0 648.7,992.0 649.7,991.9 650.7,991.9 651.7,991.9 652.7,991.9 653.7,991.9 654.7,991.9 655.8,991.9 656.8,991.9 657.8,991.8 658.8,991.8 659.8,991.8 660.8,991.8 661.8,991.8 662.8,991.8 663.8,991.8 664.8,991.8 665.8,991.8 666.8,991.8 667.8,991.8 668.8,991.8 669.8,991.8" fill="none" stroke="#e61ee6" stroke-width="1.7" stroke-linejoin="round" stroke-linecap="round" />
<polyline points="67.7,1405.4 68.7,1405.4 69.7,1405.4 70.7,1405.4 71.7,1405.4 72.7,1405.4 73.7,1405.4 74.7,1405.4 75.7,1405.4 76.7,1405.4 77.7,1405.4 78.7,1405.4 79.7,1405.4 80.7,1405.4 81.7,1405.4 82.8,1405.4 83.8,1405.4 84.8,1405.4 85.8,1405.4 86.8,1405.4 87.8,1405.4 88.8,1405.4 89.8,1405.4 90.8,1405.4 91.8,1405.4 92.8,1405.4 93.8,1405.4 94.8,1405.4 95.8,1405.4 96.8,1405.4 97.8,1405.4 98.8,1405.4 99.8,1405.4 100.8,1405.4 101.8,1405.3 102.8,1405.3 103.8,1405.3 104.8,1405.3 105.8,1405.3 106.8,1405.3 107.8,1405.3 108.8,1405.3 109.8,1405.3 110.9,1405.3 111.9,1405.3 112.9,1405.3 113.9,1405.3 114.9,1405.3 115.9,1405.3 116.9,1405.3 117.9,1405.3 118.9,1405.3 119.9,1405.3 120.9,1405.3 121.9,1405.3 122.9,1405.3 123.9,1405.3 124.9,1405.3 125.9,1405.3 126.9,1405.3 127.9,1405.3 128.9,1405.3 129.9,1405.3 130.9,1405.3 131.9,1405.3 132.9,1405.3 133.9,1405.3 134.9,1405.3 135.9,1405.3 136.9,1405.2 137.9,1405.2 138.9,1405.2 140.0,1405.2 141.0,1405.2 142.0,1405.2 143.0,1405.2 144.0,1405.2 145.0,1405.2 146.0,1405.2 147.0,1405.2 148.0,1405.2 149.0,1405.2 150.0,1405.2 151.0,1405.2 152.0,1405.2 153.0,1405.2 154.0,1405.1 155.0,1405.1 156.0,1405.1 157.0,1405.1 158.0,1405.1 159.0,1405.1 160.0,1405.1 161.0,1405.1 162.0,1405.1 163.0,1405.1 164.0,1405.1 165.0,1405.0 166.0,1405.0 167.0,1405.0 168.0,1405.0 169.1,1405.0 170.1,1405.0 171.1,1405.0 172.1,1405.0 173.1,1404.9 174.1,1404.9 175.1,1404.9 176.1,1404.9 177.1,1404.9 178.1,1404.9 179.1,1404.9 180.1,1404.8 181.1,1404.8 182.1,1404.8 183.1,1404.8 184.1,1404.8 185.1,1404.7 186.1,1404.7 187.1,1404.7 188.1,1404.7 189.1,1404.7 190.1,1404.6 191.1,1404.6 192.1,1404.6 193.1,1404.6 194.1,1404.5 195.1,1404.5 196.1,1404.5 197.2,1404.5 198.2,1404.4 199.2,1404.4 200.2,1404.4 201.2,1404.3 202.2,1404.3 203.2,1404.3 204.2,1404.2 205.2,1404.2 206.2,1404.2 207.2,1404.1 208.2,1404.1 209.2,1404.1 210.2,1404.0 211.2,1404.0 212.2,1404.0 213.2,1403.9 214.2,1403.9 215.2,1403.8 216.2,1403.8 217.2,1403.7 218.2,1403.7 219.2,1403.7 220.2,1403.6 221.2,1403.6 222.2,1403.5 223.2,1403.5 224.2,1403.4 225.2,1403.4 226.3,1403.3 227.3,1403.3 228.3,1403.2 229.3,1403.1 230.3,1403.1 231.3,1403.0 232.3,1403.0 233.3,1402.9 234.3,1402.8 235.3,1402.8 236.3,1402.7 237.3,1402.6 238.3,1402.6 239.3,1402.5 240.3,1402.4 241.3,1402.4 242.3,1402.3 243.3,1402.2 244.3,1402.1 245.3,1402.0 246.3,1402.0 247.3,1401.9 248.3,1401.8 249.3,1401.7 250.3,1401.6 251.3,1401.5 252.3,1401.4 253.3,1401.3 254.4,1401.2 255.4,1401.1 256.4,1401.0 257.4,1400.9 258.4,1400.8 259.4,1400.7 260.4,1400.6 261.4,1400.5 262.4,1400.4 263.4,1400.2 264.4,1400.1 265.4,1400.0 266.4,1399.9 267.4,1399.7 268.4,1399.6 269.4,1399.5 270.4,1399.3 271.4,1399.2 272.4,1399.0 273.4,1398.9 274.4,1398.7 275.4,1398.5 276.4,1398.4 277.4,1398.2 278.4,1398.0 279.4,1397.8 280.4,1397.7 281.4,1397.5 282.4,1397.3 283.5,1397.1 284.5,1396.9 285.5,1396.7 286.5,1396.5 287.5,1396.2 288.5,1396.0 289.5,1395.8 290.5,1395.5 291.5,1395.3 292.5,1395.0 293.5,1394.8 294.5,1394.5 295.5,1394.2 296.5,1394.0 297.5,1393.7 298.5,1393.4 299.5,1393.1 300.5,1392.7 301.5,1392.4 302.5,1392.1 303.5,1391.7 304.5,1391.4 305.5,1391.0 306.5,1390.6 307.5,1390.2 308.5,1389.8 309.5,1389.4 310.5,1389.0 311.6,1388.6 312.6,1388.1 313.6,1387.6 314.6,1387.2 315.6,1386.7 316.6,1386.2 317.6,1385.6 318.6,1385.1 319.6,1384.5 320.6,1383.9 321.6,1383.3 322.6,1382.7 323.6,1382.1 324.6,1381.4 325.6,1380.8 326.6,1380.0 327.6,1379.3 328.6,1378.6 329.6,1377.8 330.6,1377.0 331.6,1376.2 332.6,1375.3 333.6,1374.4 334.6,1373.5 335.6,1372.6 336.6,1371.6 337.6,1370.6 338.6,1369.5 339.6,1368.4 340.7,1367.3 341.7,1366.2 342.7,1365.0 343.7,1363.7 344.7,1362.5 345.7,1361.1 346.7,1359.8 347.7,1358.3 348.7,1356.9 349.7,1355.4 350.7,1353.8 351.7,1352.2 352.7,1350.5 353.7,1348.8 354.7,1347.0 355.7,1345.1 356.7,1343.2 357.7,1341.2 358.7,1339.2 359.7,1337.1 360.7,1334.9 361.7,1332.6 362.7,1330.3 363.7,1327.9 364.7,1325.4 365.7,1322.8 366.7,1320.2 367.7,1317.4 368.7,1314.6 369.8,1311.7 370.8,1308.7 371.8,1305.6 372.8,1302.5 373.8,1299.2 374.8,1295.8 375.8,1292.4 376.8,1288.9 377.8,1285.2 378.8,1281.5 379.8,1277.7 380.8,1273.7 381.8,1269.7 382.8,1265.6 383.8,1261.4 384.8,1257.1 385.8,1252.7 386.8,1248.3 387.8,1243.7 388.8,1239.1 389.8,1234.3 390.8,1229.6 391.8,1224.7 392.8,1219.8 393.8,1214.8 394.8,1209.7 395.8,1204.6 396.8,1199.4 397.9,1194.2 398.9,1189.0 399.9,1183.8 400.9,1178.5 401.9,1173.2 402.9,1167.9 403.9,1162.7 404.9,1157.4 405.9,1152.2 406.9,1147.0 407.9,1141.8 408.9,1136.7 409.9,1131.7 410.9,1126.7 411.9,1121.8 412.9,1117.0 413.9,1112.3 414.9,1107.6 415.9,1103.1 416.9,1098.7 417.9,1094.3 418.9,1090.1 419.9,1086.0 420.9,1082.0 421.9,1078.2 422.9,1074.4 423.9,1070.8 424.9,1067.3 425.9,1063.9 427.0,1060.7 428.0,1057.5 429.0,1054.5 430.0,1051.6 431.0,1048.8 432.0,1046.2 433.0,1043.6 434.0,1041.1 435.0,1038.8 436.0,1036.6 437.0,1034.4 438.0,1032.4 439.0,1030.4 440.0,1028.6 441.0,1026.8 442.0,1025.1 443.0,1023.8 444.0,1022.9 445.0,1021.9 446.0,1021.0 447.0,1020.1 448.0,1019.2 449.0,1018.3 450.0,1017.5 451.0,1016.6 452.0,1015.8 453.0,1014.9 454.0,1014.1 455.1,1013.3 456.1,1012.5 457.1,1011.7 458.1,1010.9 459.1,1010.2 460.1,1009.4 461.1,1008.6 462.1,1007.9 463.1,1007.2 464.1,1006.4 465.1,1005.7 466.1,1005.0 467.1,1004.4 468.1,1003.7 469.1,1003.0 470.1,1002.4 471.1,1001.8 472.1,1001.2 473.1,1000.6 474.1,1000.0 475.1,999.5 476.1,999.0 477.1,998.5 478.1,998.0 479.1,997.5 480.1,997.1 481.1,996.7 482.1,996.3 483.1,995.9 484.2,995.5 485.2,995.2 486.2,994.9 487.2,994.6 488.2,994.3 489.2,994.0 490.2,993.8 491.2,993.6 492.2,993.4 493.2,993.2 494.2,993.0 495.2,992.9 496.2,992.7 497.2,992.6 498.2,992.5 499.2,992.4 500.2,992.3 501.2,992.3 502.2,992.2 503.2,992.1 504.2,992.1 505.2,992.0 506.2,992.0 507.2,992.0 508.2,991.9 509.2,991.9 510.2,991.9 511.2,991.8 512.3,991.8 513.3,991.8 514.3,991.8 515.3,991.7 516.3,991.7 517.3,991.7 518.3,991.7 519.3,991.7 520.3,991.7 521.3,991.7 522.3,991.7 523.3,991.7 524.3,991.7 525.3,991.7 526.3,991.6 527.3,991.6 528.3,991.6 529.3,991.6 530.3,991.6 531.3,991.6 532.3,991.6 533.3,991.6 534.3,991.6 535.3,991.6 536.3,991.6 537.3,991.6 538.3,991.6 539.3,991.6 540.3,991.6 541.4,991.6 542.4,991.6 543.4,991.6 544.4,991.6 545.4,991.6 546.4,991.6 547.4,991.6 548.4,991.6 549.4,991.6 550.4,991.6 551.4,991.6 552.4,991.6 553.4,991.6 554.4,991.6 555.4,991.6 556.4,991.6 557.4,991.6 558.4,991.6 559.4,991.6 560.4,991.6 561.4,991.6 562.4,991.6 563.4,991.6 564.4,991.6 565.4,991.6 566.4,991.6 567.4,991.6 568.4,991.6 569.4,991.6 570.5,991.6 571.5,991.6 572.5,991.6 573.5,991.6 574.5,991.6 575.5,991.6 576.5,991.6 577.5,991.6 578.5,991.6 579.5,991.6 580.5,991.6 581.5,991.6 582.5,991.6 583.5,991.6 584.5,991.6 585.5,991.6 586.5,991.6 587.5,991.6 588.5,991.6 589.5,991.6 590.5,991.6 591.5,991.6 592.5,991.6 593.5,991.6 594.5,991.6 595.5,991.6 596.5,991.6 597.5,991.6 598.6,991.6 599.6,991.6 600.6,991.6 601.6,991.6 602.6,991.6 603.6,991.6 604.6,991.6 605.6,991.6 606.6,991.6 607.6,991.6 608.6,991.6 609.6,991.6 610.6,991.6 611.6,991.6 612.6,991.6 613.6,991.6 614.6,991.6 615.6,991.6 616.6,991.6 617.6,991.6 618.6,991.6 619.6,991.6 620.6,991.6 621.6,991.6 622.6,991.6 623.6,991.6 624.6,991.6 625.6,991.6 626.6,991.6 627.7,991.6 628.7,991.6 629.7,991.6 630.7,991.6 631.7,991.6 632.7,991.6 633.7,991.6 634.7,991.6 635.7,991.6 636.7,991.6 637.7,991.6 638.7,991.6 639.7,991.6 640.7,991.6 641.7,991.6 642.7,991.6 643.7,991.6 644.7,991.6 645.7,991.6 646.7,991.6 647.7,991.6 648.7,991.6 649.7,991.6 650.7,991.6 651.7,991.6 652.7,991.6 653.7,991.6 654.7,991.6 655.8,991.6 656.8,991.6 657.8,991.6 658.8,991.6 659.8,991.6 660.8,991.6 661.8,991.6 662.8,991.6 663.8,991.6 664.8,991.6 665.8,991.6 666.8,991.6 667.8,991.6 668.8,991.6 669.8,991.6" fill="none" stroke="#a040e8" stroke-width="1.7" stroke-linejoin="round" stroke-linecap="round" />
<polyline points="67.7,1405.3 68.7,1405.3 69.7,1405.3 70.7,1405.3 71.7,1405.3 72.7,1405.3 73.7,1405.3 74.7,1405.3 75.7,1405.3 76.7,1405.3 77.7,1405.3 78.7,1405.3 79.7,1405.3 80.7,1405.3 81.7,1405.3 82.8,1405.3 83.8,1405.3 84.8,1405.3 85.8,1405.3 86.8,1405.3 87.8,1405.3 88.8,1405.3 89.8,1405.3 90.8,1405.3 91.8,1405.3 92.8,1405.3 93.8,1405.3 94.8,1405.3 95.8,1405.3 96.8,1405.3 97.8,1405.2 98.8,1405.2 99.8,1405.2 100.8,1405.2 101.8,1405.2 102.8,1405.2 103.8,1405.2 104.8,1405.2 105.8,1405.2 106.8,1405.2 107.8,1405.2 108.8,1405.2 109.8,1405.2 110.9,1405.2 111.9,1405.2 112.9,1405.2 113.9,1405.2 114.9,1405.2 115.9,1405.2 116.9,1405.2 117.9,1405.2 118.9,1405.1 119.9,1405.1 120.9,1405.1 121.9,1405.1 122.9,1405.1 123.9,1405.1 124.9,1405.1 125.9,1405.1 126.9,1405.1 127.9,1405.1 128.9,1405.1 129.9,1405.1 130.9,1405.1 131.9,1405.1 132.9,1405.0 133.9,1405.0 134.9,1405.0 135.9,1405.0 136.9,1405.0 137.9,1405.0 138.9,1405.0 140.0,1405.0 141.0,1405.0 142.0,1405.0 143.0,1404.9 144.0,1404.9 145.0,1404.9 146.0,1404.9 147.0,1404.9 148.0,1404.9 149.0,1404.9 150.0,1404.9 151.0,1404.8 152.0,1404.8 153.0,1404.8 154.0,1404.8 155.0,1404.8 156.0,1404.8 157.0,1404.8 158.0,1404.7 159.0,1404.7 160.0,1404.7 161.0,1404.7 162.0,1404.7 163.0,1404.7 164.0,1404.6 165.0,1404.6 166.0,1404.6 167.0,1404.6 168.0,1404.6 169.1,1404.5 170.1,1404.5 171.1,1404.5 172.1,1404.5 173.1,1404.4 174.1,1404.4 175.1,1404.4 176.1,1404.4 177.1,1404.4 178.1,1404.3 179.1,1404.3 180.1,1404.3 181.1,1404.2 182.1,1404.2 183.1,1404.2 184.1,1404.2 185.1,1404.1 186.1,1404.1 187.1,1404.1 188.1,1404.0 189.1,1404.0 190.1,1404.0 191.1,1403.9 192.1,1403.9 193.1,1403.9 194.1,1403.8 195.1,1403.8 196.1,1403.8 197.2,1403.7 198.2,1403.7 199.2,1403.6 200.2,1403.6 201.2,1403.5 202.2,1403.5 203.2,1403.5 204.2,1403.4 205.2,1403.4 206.2,1403.3 207.2,1403.3 208.2,1403.2 209.2,1403.2 210.2,1403.1 211.2,1403.1 212.2,1403.0 213.2,1402.9 214.2,1402.9 215.2,1402.8 216.2,1402.8 217.2,1402.7 218.2,1402.6 219.2,1402.6 220.2,1402.5 221.2,1402.4 222.2,1402.3 223.2,1402.3 224.2,1402.2 225.2,1402.1 226.3,1402.0 227.3,1401.9 228.3,1401.8 229.3,1401.8 230.3,1401.7 231.3,1401.6 232.3,1401.5 233.3,1401.4 234.3,1401.3 235.3,1401.2 236.3,1401.1 237.3,1400.9 238.3,1400.8 239.3,1400.7 240.3,1400.6 241.3,1400.5 242.3,1400.3 243.3,1400.2 244.3,1400.1 245.3,1399.9 246.3,1399.8 247.3,1399.6 248.3,1399.5 249.3,1399.3 250.3,1399.2 251.3,1399.0 252.3,1398.8 253.3,1398.6 254.4,1398.4 255.4,1398.3 256.4,1398.1 257.4,1397.9 258.4,1397.6 259.4,1397.4 260.4,1397.2 261.4,1397.0 262.4,1396.7 263.4,1396.5 264.4,1396.2 265.4,1396.0 266.4,1395.7 267.4,1395.4 268.4,1395.1 269.4,1394.8 270.4,1394.5 271.4,1394.2 272.4,1393.8 273.4,1393.5 274.4,1393.1 275.4,1392.8 276.4,1392.4 277.4,1392.0 278.4,1391.6 279.4,1391.2 280.4,1390.7 281.4,1390.3 282.4,1389.8 283.5,1389.3 284.5,1388.8 285.5,1388.3 286.5,1387.7 287.5,1387.2 288.5,1386.6 289.5,1386.0 290.5,1385.4 291.5,1384.7 292.5,1384.1 293.5,1383.4 294.5,1382.6 295.5,1381.9 296.5,1381.1 297.5,1380.3 298.5,1379.5 299.5,1378.6 300.5,1377.7 301.5,1376.7 302.5,1375.8 303.5,1374.8 304.5,1373.7 305.5,1372.6 306.5,1371.5 307.5,1370.3 308.5,1369.1 309.5,1367.9 310.5,1366.5 311.6,1365.2 312.6,1363.8 313.6,1362.3 314.6,1360.8 315.6,1359.2 316.6,1357.6 317.6,1355.9 318.6,1354.1 319.6,1352.3 320.6,1350.4 321.6,1348.4 322.6,1346.4 323.6,1344.3 324.6,1342.1 325.6,1339.9 326.6,1337.5 327.6,1335.1 328.6,1332.6 329.6,1330.0 330.6,1327.3 331.6,1324.5 332.6,1321.6 333.6,1318.7 334.6,1315.6 335.6,1312.4 336.6,1309.2 337.6,1305.8 338.6,1302.3 339.6,1298.7 340.7,1295.1 341.7,1291.3 342.7,1287.4 343.7,1283.4 344.7,1279.3 345.7,1275.1 346.7,1270.8 347.7,1266.4 348.7,1261.9 349.7,1257.3 350.7,1252.6 351.7,1247.8 352.7,1242.9 353.7,1237.9 354.7,1232.9 355.7,1227.8 356.7,1222.6 357.7,1217.3 358.7,1212.0 359.7,1206.6 360.7,1201.2 361.7,1195.7 362.7,1190.2 363.7,1184.7 364.7,1179.2 365.7,1173.7 366.7,1168.1 367.7,1162.6 368.7,1157.2 369.8,1151.7 370.8,1146.3 371.8,1141.0 372.8,1135.7 373.8,1130.6 374.8,1125.4 375.8,1120.4 376.8,1115.5 377.8,1110.6 378.8,1105.9 379.8,1101.3 380.8,1096.8 381.8,1092.4 382.8,1088.1 383.8,1084.0 384.8,1080.0 385.8,1076.1 386.8,1072.3 387.8,1068.7 388.8,1065.1 389.8,1061.7 390.8,1058.5 391.8,1055.3 392.8,1052.3 393.8,1049.4 394.8,1046.6 395.8,1043.9 396.8,1041.3 397.9,1038.8 398.9,1036.4 399.9,1034.2 400.9,1032.0 401.9,1029.9 402.9,1027.9 403.9,1026.0 404.9,1024.2 405.9,1022.5 406.9,1020.8 407.9,1019.2 408.9,1017.7 409.9,1016.3 410.9,1014.9 411.9,1013.6 412.9,1012.4 413.9,1011.2 414.9,1010.0 415.9,1009.0 416.9,1008.0 417.9,1007.0 418.9,1006.1 419.9,1005.2 420.9,1004.4 421.9,1003.6 422.9,1002.9 423.9,1002.2 424.9,1001.5 425.9,1000.9 427.0,1000.3 428.0,999.7 429.0,999.2 430.0,998.7 431.0,998.3 432.0,997.8 433.0,997.4 434.0,997.0 435.0,996.6 436.0,996.3 437.0,996.0 438.0,995.7 439.0,995.4 440.0,995.1 441.0,994.8 442.0,994.6 443.0,994.4 444.0,994.2 445.0,994.0 446.0,993.8 447.0,993.6 448.0,993.5 449.0,993.3 450.0,993.2 451.0,993.1 452.0,993.0 453.0,992.9 454.0,992.8 455.1,992.7 456.1,992.6 457.1,992.5 458.1,992.5 459.1,992.4 460.1,992.3 461.1,992.3 462.1,992.2 463.1,992.2 464.1,992.1 465.1,992.1 466.1,992.0 467.1,992.0 468.1,992.0 469.1,992.0 470.1,991.9 471.1,991.9 472.1,991.9 473.1,991.9 474.1,991.8 475.1,991.8 476.1,991.8 477.1,991.8 478.1,991.8 479.1,991.8 480.1,991.7 481.1,991.7 482.1,991.7 483.1,991.7 484.2,991.7 485.2,991.7 486.2,991.7 487.2,991.7 488.2,991.7 489.2,991.7 490.2,991.7 491.2,991.7 492.2,991.7 493.2,991.7 494.2,991.6 495.2,991.6 496.2,991.6 497.2,991.6 498.2,991.6 499.2,991.6 500.2,991.6 501.2,991.6 502.2,991.6 503.2,991.6 504.2,991.6 505.2,991.6 506.2,991.6 507.2,991.6 508.2,991.6 509.2,991.6 510.2,991.6 511.2,991.6 512.3,991.6 513.3,991.6 514.3,991.6 515.3,991.6 516.3,991.6 517.3,991.6 518.3,991.6 519.3,991.6 520.3,991.6 521.3,991.6 522.3,991.6 523.3,991.6 524.3,991.6 525.3,991.6 526.3,991.6 527.3,991.6 528.3,991.6 529.3,991.6 530.3,991.6 531.3,991.6 532.3,991.6 533.3,991.6 534.3,991.6 535.3,991.6 536.3,991.6 537.3,991.6 538.3,991.6 539.3,991.6 540.3,991.6 541.4,991.6 542.4,991.6 543.4,991.6 544.4,991.6 545.4,991.6 546.4,991.6 547.4,991.6 548.4,991.6 549.4,991.6 550.4,991.6 551.4,991.6 552.4,991.6 553.4,991.6 554.4,991.6 555.4,991.6 556.4,991.6 557.4,991.6 558.4,991.6 559.4,991.6 560.4,991.6 561.4,991.6 562.4,991.6 563.4,991.6 564.4,991.6 565.4,991.6 566.4,991.6 567.4,991.6 568.4,991.6 569.4,991.6 570.5,991.6 571.5,991.6 572.5,991.6 573.5,991.6 574.5,991.6 575.5,991.6 576.5,991.6 577.5,991.6 578.5,991.6 579.5,991.6 580.5,991.6 581.5,991.6 582.5,991.6 583.5,991.6 584.5,991.6 585.5,991.6 586.5,991.6 587.5,991.6 588.5,991.6 589.5,991.6 590.5,991.6 591.5,991.6 592.5,991.6 593.5,991.6 594.5,991.6 595.5,991.6 596.5,991.6 597.5,991.6 598.6,991.6 599.6,991.6 600.6,991.6 601.6,991.6 602.6,991.6 603.6,991.6 604.6,991.6 605.6,991.6 606.6,991.6 607.6,991.6 608.6,991.6 609.6,991.6 610.6,991.6 611.6,991.6 612.6,991.6 613.6,991.6 614.6,991.6 615.6,991.6 616.6,991.6 617.6,991.6 618.6,991.6 619.6,991.6 620.6,991.6 621.6,991.6 622.6,991.6 623.6,991.6 624.6,991.6 625.6,991.6 626.6,991.6 627.7,991.6 628.7,991.6 629.7,991.6 630.7,991.6 631.7,991.6 632.7,991.6 633.7,991.6 634.7,991.6 635.7,991.6 636.7,991.6 637.7,991.6 638.7,991.6 639.7,991.6 640.7,991.6 641.7,991.6 642.7,991.6 643.7,991.6 644.7,991.6 645.7,991.6 646.7,991.6 647.7,991.6 648.7,991.6 649.7,991.6 650.7,991.6 651.7,991.6 652.7,991.6 653.7,991.6 654.7,991.6 655.8,991.6 656.8,991.6 657.8,991.6 658.8,991.6 659.8,991.6 660.8,991.6 661.8,991.6 662.8,991.6 663.8,991.6 664.8,991.6 665.8,991.6 666.8,991.6 667.8,991.6 668.8,991.6 669.8,991.6" fill="none" stroke="#6e6ee6" stroke-width="1.7" stroke-linejoin="round" stroke-linecap="round" />
<polyline points="67.7,1405.4 68.7,1405.4 69.7,1405.4 70.7,1405.4 71.7,1405.3 72.7,1405.3 73.7,1405.3 74.7,1405.3 75.7,1405.3 76.7,1405.3 77.7,1405.3 78.7,1405.3 79.7,1405.3 80.7,1405.3 81.7,1405.3 82.8,1405.3 83.8,1405.3 84.8,1405.3 85.8,1405.3 86.8,1405.3 87.8,1405.3 88.8,1405.3 89.8,1405.3 90.8,1405.3 91.8,1405.3 92.8,1405.3 93.8,1405.3 94.8,1405.3 95.8,1405.3 96.8,1405.3 97.8,1405.3 98.8,1405.3 99.8,1405.3 100.8,1405.3 101.8,1405.3 102.8,1405.3 103.8,1405.3 104.8,1405.3 105.8,1405.3 106.8,1405.2 107.8,1405.2 108.8,1405.2 109.8,1405.2 110.9,1405.2 111.9,1405.2 112.9,1405.2 113.9,1405.2 114.9,1405.2 115.9,1405.2 116.9,1405.2 117.9,1405.2 118.9,1405.2 119.9,1405.2 120.9,1405.2 121.9,1405.2 122.9,1405.2 123.9,1405.1 124.9,1405.1 125.9,1405.1 126.9,1405.1 127.9,1405.1 128.9,1405.1 129.9,1405.1 130.9,1405.1 131.9,1405.1 132.9,1405.1 133.9,1405.0 134.9,1405.0 135.9,1405.0 136.9,1405.0 137.9,1405.0 138.9,1405.0 140.0,1405.0 141.0,1405.0 142.0,1404.9 143.0,1404.9 144.0,1404.9 145.0,1404.9 146.0,1404.9 147.0,1404.9 148.0,1404.9 149.0,1404.8 150.0,1404.8 151.0,1404.8 152.0,1404.8 153.0,1404.8 154.0,1404.7 155.0,1404.7 156.0,1404.7 157.0,1404.7 158.0,1404.7 159.0,1404.6 160.0,1404.6 161.0,1404.6 162.0,1404.6 163.0,1404.5 164.0,1404.5 165.0,1404.5 166.0,1404.4 167.0,1404.4 168.0,1404.4 169.1,1404.3 170.1,1404.3 171.1,1404.3 172.1,1404.2 173.1,1404.2 174.1,1404.2 175.1,1404.1 176.1,1404.1 177.1,1404.1 178.1,1404.0 179.1,1404.0 180.1,1403.9 181.1,1403.9 182.1,1403.9 183.1,1403.8 184.1,1403.8 185.1,1403.7 186.1,1403.7 187.1,1403.6 188.1,1403.6 189.1,1403.5 190.1,1403.5 191.1,1403.4 192.1,1403.4 193.1,1403.3 194.1,1403.2 195.1,1403.2 196.1,1403.1 197.2,1403.1 198.2,1403.0 199.2,1402.9 200.2,1402.9 201.2,1402.8 202.2,1402.7 203.2,1402.7 204.2,1402.6 205.2,1402.5 206.2,1402.5 207.2,1402.4 208.2,1402.3 209.2,1402.2 210.2,1402.1 211.2,1402.1 212.2,1402.0 213.2,1401.9 214.2,1401.8 215.2,1401.7 216.2,1401.6 217.2,1401.5 218.2,1401.4 219.2,1401.3 220.2,1401.2 221.2,1401.1 222.2,1401.0 223.2,1400.8 224.2,1400.7 225.2,1400.6 226.3,1400.5 227.3,1400.3 228.3,1400.2 229.3,1400.1 230.3,1399.9 231.3,1399.8 232.3,1399.6 233.3,1399.5 234.3,1399.3 235.3,1399.1 236.3,1399.0 237.3,1398.8 238.3,1398.6 239.3,1398.4 240.3,1398.2 241.3,1398.0 242.3,1397.8 243.3,1397.6 244.3,1397.4 245.3,1397.1 246.3,1396.9 247.3,1396.7 248.3,1396.4 249.3,1396.1 250.3,1395.9 251.3,1395.6 252.3,1395.3 253.3,1395.0 254.4,1394.6 255.4,1394.3 256.4,1394.0 257.4,1393.6 258.4,1393.3 259.4,1392.9 260.4,1392.5 261.4,1392.1 262.4,1391.6 263.4,1391.2 264.4,1390.7 265.4,1390.2 266.4,1389.7 267.4,1389.2 268.4,1388.6 269.4,1388.1 270.4,1387.5 271.4,1386.9 272.4,1386.2 273.4,1385.5 274.4,1384.8 275.4,1384.1 276.4,1383.3 277.4,1382.5 278.4,1381.7 279.4,1380.8 280.4,1379.9 281.4,1378.9 282.4,1377.9 283.5,1376.9 284.5,1375.8 285.5,1374.7 286.5,1373.5 287.5,1372.2 288.5,1370.9 289.5,1369.6 290.5,1368.1 291.5,1366.6 292.5,1365.1 293.5,1363.4 294.5,1361.7 295.5,1359.9 296.5,1358.0 297.5,1356.1 298.5,1354.0 299.5,1351.9 300.5,1349.6 301.5,1347.3 302.5,1344.8 303.5,1342.3 304.5,1339.6 305.5,1336.8 306.5,1333.9 307.5,1330.9 308.5,1327.8 309.5,1324.5 310.5,1321.2 311.6,1317.7 312.6,1314.0 313.6,1310.3 314.6,1306.4 315.6,1302.4 316.6,1298.2 317.6,1293.9 318.6,1289.5 319.6,1285.0 320.6,1280.3 321.6,1275.5 322.6,1270.6 323.6,1265.5 324.6,1260.4 325.6,1255.1 326.6,1249.8 327.6,1244.3 328.6,1238.8 329.6,1233.2 330.6,1227.5 331.6,1221.8 332.6,1216.0 333.6,1210.1 334.6,1204.2 335.6,1198.3 336.6,1192.4 337.6,1186.5 338.6,1180.6 339.6,1174.7 340.7,1168.8 341.7,1163.0 342.7,1157.2 343.7,1151.5 344.7,1145.8 345.7,1140.2 346.7,1134.8 347.7,1129.4 348.7,1124.1 349.7,1118.9 350.7,1113.9 351.7,1108.9 352.7,1104.1 353.7,1099.5 354.7,1094.9 355.7,1090.5 356.7,1086.2 357.7,1082.1 358.7,1078.1 359.7,1074.3 360.7,1070.6 361.7,1067.0 362.7,1063.6 363.7,1060.3 364.7,1057.1 365.7,1054.1 366.7,1051.1 367.7,1048.3 368.7,1045.7 369.8,1043.1 370.8,1040.6 371.8,1038.3 372.8,1036.0 373.8,1033.9 374.8,1031.8 375.8,1029.8 376.8,1027.9 377.8,1026.1 378.8,1024.4 379.8,1022.7 380.8,1021.2 381.8,1019.6 382.8,1018.2 383.8,1016.8 384.8,1015.5 385.8,1014.3 386.8,1013.1 387.8,1011.9 388.8,1010.8 389.8,1009.8 390.8,1008.8 391.8,1007.8 392.8,1006.9 393.8,1006.1 394.8,1005.2 395.8,1004.5 396.8,1003.7 397.9,1003.0 398.9,1002.4 399.9,1001.7 400.9,1001.1 401.9,1000.5 402.9,1000.0 403.9,999.5 404.9,999.0 405.9,998.5 406.9,998.1 407.9,997.7 408.9,997.3 409.9,996.9 410.9,996.5 411.9,996.2 412.9,995.9 413.9,995.6 414.9,995.3 415.9,995.1 416.9,994.8 417.9,994.6 418.9,994.4 419.9,994.2 420.9,994.0 421.9,993.8 422.9,993.6 423.9,993.5 424.9,993.3 425.9,993.2 427.0,993.1 428.0,993.0 429.0,992.8 430.0,992.8 431.0,992.7 432.0,992.6 433.0,992.5 434.0,992.4 435.0,992.4 436.0,992.3 437.0,992.3 438.0,992.2 439.0,992.2 440.0,992.1 441.0,992.1 442.0,992.0 443.0,992.0 444.0,992.0 445.0,991.9 446.0,991.9 447.0,991.9 448.0,991.9 449.0,991.9 450.0,991.8 451.0,991.8 452.0,991.8 453.0,991.8 454.0,991.8 455.1,991.8 456.1,991.7 457.1,991.7 458.1,991.7 459.1,991.7 460.1,991.7 461.1,991.7 462.1,991.7 463.1,991.7 464.1,991.7 465.1,991.7 466.1,991.7 467.1,991.7 468.1,991.7 469.1,991.7 470.1,991.6 471.1,991.6 472.1,991.6 473.1,991.6 474.1,991.6 475.1,991.6 476.1,991.6 477.1,991.6 478.1,991.6 479.1,991.6 480.1,991.6 481.1,991.6 482.1,991.6 483.1,991.6 484.2,991.6 485.2,991.6 486.2,991.6 487.2,991.6 488.2,991.6 489.2,991.6 490.2,991.6 491.2,991.6 492.2,991.6 493.2,991.6 494.2,991.6 495.2,991.6 496.2,991.6 497.2,991.6 498.2,991.6 499.2,991.6 500.2,991.6 501.2,991.6 502.2,991.6 503.2,991.6 504.2,991.6 505.2,991.6 506.2,991.6 507.2,991.6 508.2,991.6 509.2,991.6 510.2,991.6 511.2,991.6 512.3,991.6 513.3,991.6 514.3,991.6 515.3,991.6 516.3,991.6 517.3,991.6 518.3,991.6 519.3,991.6 520.3,991.6 521.3,991.6 522.3,991.6 523.3,991.6 524.3,991.6 525.3,991.6 526.3,991.6 527.3,991.6 528.3,991.6 529.3,991.6 530.3,991.6 531.3,991.6 532.3,991.6 533.3,991.6 534.3,991.6 535.3,991.6 536.3,991.6 537.3,991.6 538.3,991.6 539.3,991.6 540.3,991.6 541.4,991.6 542.4,991.6 543.4,991.6 544.4,991.6 545.4,991.6 546.4,991.6 547.4,991.6 548.4,991.6 549.4,991.6 550.4,991.6 551.4,991.6 552.4,991.6 553.4,991.6 554.4,991.6 555.4,991.6 556.4,991.6 557.4,991.6 558.4,991.6 559.4,991.6 560.4,991.6 561.4,991.6 562.4,991.6 563.4,991.6 564.4,991.6 565.4,991.6 566.4,991.6 567.4,991.6 568.4,991.6 569.4,991.6 570.5,991.6 571.5,991.6 572.5,991.6 573.5,991.6 574.5,991.6 575.5,991.6 576.5,991.6 577.5,991.6 578.5,991.6 579.5,991.6 580.5,991.6 581.5,991.6 582.5,991.6 583.5,991.6 584.5,991.6 585.5,991.6 586.5,991.6 587.5,991.6 588.5,991.6 589.5,991.6 590.5,991.6 591.5,991.6 592.5,991.6 593.5,991.6 594.5,991.6 595.5,991.6 596.5,991.6 597.5,991.6 598.6,991.6 599.6,991.6 600.6,991.6 601.6,991.6 602.6,991.6 603.6,991.6 604.6,991.6 605.6,991.6 606.6,991.6 607.6,991.6 608.6,991.6 609.6,991.6 610.6,991.6 611.6,991.6 612.6,991.6 613.6,991.6 614.6,991.6 615.6,991.6 616.6,991.6 617.6,991.6 618.6,991.6 619.6,991.6 620.6,991.6 621.6,991.6 622.6,991.6 623.6,991.6 624.6,991.6 625.6,991.6 626.6,991.6 627.7,991.6 628.7,991.6 629.7,991.6 630.7,991.6 631.7,991.6 632.7,991.6 633.7,991.6 634.7,991.6 635.7,991.6 636.7,991.6 637.7,991.6 638.7,991.6 639.7,991.6 640.7,991.6 641.7,991.6 642.7,991.6 643.7,991.6 644.7,991.6 645.7,991.6 646.7,991.6 647.7,991.6 648.7,991.6 649.7,991.6 650.7,991.6 651.7,991.6 652.7,991.6 653.7,991.6 654.7,991.6 655.8,991.6 656.8,991.6 657.8,991.6 658.8,991.6 659.8,991.6 660.8,991.6 661.8,991.6 662.8,991.6 663.8,991.6 664.8,991.6 665.8,991.6 666.8,991.6 667.8,991.6 668.8,991.6 669.8,991.6" fill="none" stroke="#229ee8" stroke-width="1.7" stroke-linejoin="round" stroke-linecap="round" />
<polyline points="67.7,1405.3 68.7,1405.3 69.7,1405.3 70.7,1405.3 71.7,1405.3 72.7,1405.3 73.7,1405.3 74.7,1405.3 75.7,1405.3 76.7,1405.3 77.7,1405.3 78.7,1405.3 79.7,1405.3 80.7,1405.3 81.7,1405.3 82.8,1405.3 83.8,1405.3 84.8,1405.3 85.8,1405.3 86.8,1405.3 87.8,1405.3 88.8,1405.3 89.8,1405.3 90.8,1405.3 91.8,1405.3 92.8,1405.3 93.8,1405.3 94.8,1405.2 95.8,1405.2 96.8,1405.2 97.8,1405.2 98.8,1405.2 99.8,1405.2 100.8,1405.2 101.8,1405.2 102.8,1405.2 103.8,1405.2 104.8,1405.2 105.8,1405.2 106.8,1405.2 107.8,1405.2 108.8,1405.2 109.8,1405.2 110.9,1405.2 111.9,1405.2 112.9,1405.2 113.9,1405.1 114.9,1405.1 115.9,1405.1 116.9,1405.1 117.9,1405.1 118.9,1405.1 119.9,1405.1 120.9,1405.1 121.9,1405.1 122.9,1405.1 123.9,1405.1 124.9,1405.1 125.9,1405.1 126.9,1405.0 127.9,1405.0 128.9,1405.0 129.9,1405.0 130.9,1405.0 131.9,1405.0 132.9,1405.0 133.9,1405.0 134.9,1405.0 135.9,1405.0 136.9,1404.9 137.9,1404.9 138.9,1404.9 140.0,1404.9 141.0,1404.9 142.0,1404.9 143.0,1404.9 144.0,1404.8 145.0,1404.8 146.0,1404.8 147.0,1404.8 148.0,1404.8 149.0,1404.8 150.0,1404.8 151.0,1404.7 152.0,1404.7 153.0,1404.7 154.0,1404.7 155.0,1404.7 156.0,1404.6 157.0,1404.6 158.0,1404.6 159.0,1404.6 160.0,1404.6 161.0,1404.5 162.0,1404.5 163.0,1404.5 164.0,1404.5 165.0,1404.4 166.0,1404.4 167.0,1404.4 168.0,1404.4 169.1,1404.3 170.1,1404.3 171.1,1404.3 172.1,1404.3 173.1,1404.2 174.1,1404.2 175.1,1404.2 176.1,1404.1 177.1,1404.1 178.1,1404.1 179.1,1404.0 180.1,1404.0 181.1,1404.0 182.1,1403.9 183.1,1403.9 184.1,1403.9 185.1,1403.8 186.1,1403.8 187.1,1403.7 188.1,1403.7 189.1,1403.7 190.1,1403.6 191.1,1403.6 192.1,1403.5 193.1,1403.5 194.1,1403.5 195.1,1403.4 196.1,1403.4 197.2,1403.3 198.2,1403.3 199.2,1403.2 200.2,1403.2 201.2,1403.1 202.2,1403.1 203.2,1403.0 204.2,1402.9 205.2,1402.9 206.2,1402.8 207.2,1402.8 208.2,1402.7 209.2,1402.6 210.2,1402.6 211.2,1402.5 212.2,1402.4 213.2,1402.4 214.2,1402.3 215.2,1402.2 216.2,1402.2 217.2,1402.1 218.2,1402.0 219.2,1401.9 220.2,1401.8 221.2,1401.8 222.2,1401.7 223.2,1401.6 224.2,1401.5 225.2,1401.4 226.3,1401.3 227.3,1401.2 228.3,1401.1 229.3,1401.0 230.3,1400.9 231.3,1400.8 232.3,1400.7 233.3,1400.5 234.3,1400.4 235.3,1400.3 236.3,1400.2 237.3,1400.0 238.3,1399.9 239.3,1399.8 240.3,1399.6 241.3,1399.5 242.3,1399.3 243.3,1399.2 244.3,1399.0 245.3,1398.8 246.3,1398.6 247.3,1398.5 248.3,1398.3 249.3,1398.1 250.3,1397.9 251.3,1397.7 252.3,1397.5 253.3,1397.2 254.4,1397.0 255.4,1396.8 256.4,1396.5 257.4,1396.3 258.4,1396.0 259.4,1395.8 260.4,1395.5 261.4,1395.2 262.4,1394.9 263.4,1394.6 264.4,1394.2 265.4,1393.9 266.4,1393.6 267.4,1393.2 268.4,1392.8 269.4,1392.4 270.4,1392.0 271.4,1391.6 272.4,1391.1 273.4,1390.7 274.4,1390.2 275.4,1389.7 276.4,1389.2 277.4,1388.7 278.4,1388.1 279.4,1387.5 280.4,1386.9 281.4,1386.3 282.4,1385.6 283.5,1384.9 284.5,1384.2 285.5,1383.5 286.5,1382.7 287.5,1381.9 288.5,1381.0 289.5,1380.2 290.5,1379.2 291.5,1378.3 292.5,1377.3 293.5,1376.2 294.5,1375.1 295.5,1374.0 296.5,1372.8 297.5,1371.5 298.5,1370.2 299.5,1368.9 300.5,1367.4 301.5,1366.0 302.5,1364.4 303.5,1362.8 304.5,1361.1 305.5,1359.3 306.5,1357.5 307.5,1355.5 308.5,1353.5 309.5,1351.4 310.5,1349.2 311.6,1346.9 312.6,1344.5 313.6,1342.0 314.6,1339.4 315.6,1336.7 316.6,1333.9 317.6,1331.0 318.6,1327.9 319.6,1324.8 320.6,1321.5 321.6,1318.2 322.6,1314.7 323.6,1311.0 324.6,1307.3 325.6,1303.4 326.6,1299.4 327.6,1295.3 328.6,1291.1 329.6,1286.7 330.6,1282.3 331.6,1277.7 332.6,1273.0 333.6,1268.2 334.6,1263.2 335.6,1258.2 336.6,1253.1 337.6,1247.9 338.6,1242.6 339.6,1237.2 340.7,1231.8 341.7,1226.3 342.7,1220.7 343.7,1215.1 344.7,1209.5 345.7,1203.8 346.7,1198.1 347.7,1192.4 348.7,1186.7 349.7,1181.0 350.7,1175.3 351.7,1169.6 352.7,1164.0 353.7,1158.4 354.7,1152.9 355.7,1147.4 356.7,1142.0 357.7,1136.7 358.7,1131.4 359.7,1126.3 360.7,1121.2 361.7,1116.2 362.7,1111.4 363.7,1106.6 364.7,1102.0 365.7,1097.4 366.7,1093.0 367.7,1088.8 368.7,1084.6 369.8,1080.6 370.8,1076.7 371.8,1072.9 372.8,1069.2 373.8,1065.7 374.8,1062.3 375.8,1059.0 376.8,1055.9 377.8,1052.8 378.8,1049.9 379.8,1047.1 380.8,1044.4 381.8,1041.8 382.8,1039.3 383.8,1037.0 384.8,1034.7 385.8,1032.5 386.8,1030.4 387.8,1028.4 388.8,1026.5 389.8,1024.7 390.8,1023.0 391.8,1021.4 392.8,1019.8 393.8,1018.3 394.8,1016.8 395.8,1015.5 396.8,1014.2 397.9,1013.0 398.9,1011.8 399.9,1010.7 400.9,1009.6 401.9,1008.6 402.9,1007.6 403.9,1006.7 404.9,1005.9 405.9,1005.1 406.9,1004.3 407.9,1003.6 408.9,1002.9 409.9,1002.2 410.9,1001.6 411.9,1001.0 412.9,1000.4 413.9,999.9 414.9,999.4 415.9,998.9 416.9,998.5 417.9,998.1 418.9,997.7 419.9,997.3 420.9,996.9 421.9,996.6 422.9,996.3 423.9,996.0 424.9,995.7 425.9,995.4 427.0,995.2 428.0,995.0 429.0,994.7 430.0,994.5 431.0,994.3 432.0,994.2 433.0,994.0 434.0,993.8 435.0,993.7 436.0,993.5 437.0,993.4 438.0,993.3 439.0,993.2 440.0,993.1 441.0,993.0 442.0,992.9 443.0,992.8 444.0,992.7 445.0,992.6 446.0,992.6 447.0,992.5 448.0,992.4 449.0,992.4 450.0,992.3 451.0,992.3 452.0,992.2 453.0,992.2 454.0,992.1 455.1,992.1 456.1,992.1 457.1,992.0 458.1,992.0 459.1,992.0 460.1,992.0 461.1,991.9 462.1,991.9 463.1,991.9 464.1,991.9 465.1,991.9 466.1,991.8 467.1,991.8 468.1,991.8 469.1,991.8 470.1,991.8 471.1,991.8 472.1,991.8 473.1,991.7 474.1,991.7 475.1,991.7 476.1,991.7 477.1,991.7 478.1,991.7 479.1,991.7 480.1,991.7 481.1,991.7 482.1,991.7 483.1,991.7 484.2,991.7 485.2,991.7 486.2,991.7 487.2,991.7 488.2,991.6 489.2,991.6 490.2,991.6 491.2,991.6 492.2,991.6 493.2,991.6 494.2,991.6 495.2,991.6 496.2,991.6 497.2,991.6 498.2,991.6 499.2,991.6 500.2,991.6 501.2,991.6 502.2,991.6 503.2,991.6 504.2,991.6 505.2,991.6 506.2,991.6 507.2,991.6 508.2,991.6 509.2,991.6 510.2,991.6 511.2,991.6 512.3,991.6 513.3,991.6 514.3,991.6 515.3,991.6 516.3,991.6 517.3,991.6 518.3,991.6 519.3,991.6 520.3,991.6 521.3,991.6 522.3,991.6 523.3,991.6 524.3,991.6 525.3,991.6 526.3,991.6 527.3,991.6 528.3,991.6 529.3,991.6 530.3,991.6 531.3,991.6 532.3,991.6 533.3,991.6 534.3,991.6 535.3,991.6 536.3,991.6 537.3,991.6 538.3,991.6 539.3,991.6 540.3,991.6 541.4,991.6 542.4,991.6 543.4,991.6 544.4,991.6 545.4,991.6 546.4,991.6 547.4,991.6 548.4,991.6 549.4,991.6 550.4,991.6 551.4,991.6 552.4,991.6 553.4,991.6 554.4,991.6 555.4,991.6 556.4,991.6 557.4,991.6 558.4,991.6 559.4,991.6 560.4,991.6 561.4,991.6 562.4,991.6 563.4,991.6 564.4,991.6 565.4,991.6 566.4,991.6 567.4,991.6 568.4,991.6 569.4,991.6 570.5,991.6 571.5,991.6 572.5,991.6 573.5,991.6 574.5,991.6 575.5,991.6 576.5,991.6 577.5,991.6 578.5,991.6 579.5,991.6 580.5,991.6 581.5,991.6 582.5,991.6 583.5,991.6 584.5,991.6 585.5,991.6 586.5,991.6 587.5,991.6 588.5,991.6 589.5,991.6 590.5,991.6 591.5,991.6 592.5,991.6 593.5,991.6 594.5,991.6 595.5,991.6 596.5,991.6 597.5,991.6 598.6,991.6 599.6,991.6 600.6,991.6 601.6,991.6 602.6,991.6 603.6,991.6 604.6,991.6 605.6,991.6 606.6,991.6 607.6,991.6 608.6,991.6 609.6,991.6 610.6,991.6 611.6,991.6 612.6,991.6 613.6,991.6 614.6,991.6 615.6,991.6 616.6,991.6 617.6,991.6 618.6,991.6 619.6,991.6 620.6,991.6 621.6,991.6 622.6,991.6 623.6,991.6 624.6,991.6 625.6,991.6 626.6,991.6 627.7,991.6 628.7,991.6 629.7,991.6 630.7,991.6 631.7,991.6 632.7,991.6 633.7,991.6 634.7,991.6 635.7,991.6 636.7,991.6 637.7,991.6 638.7,991.6 639.7,991.6 640.7,991.6 641.7,991.6 642.7,991.6 643.7,991.6 644.7,991.6 645.7,991.6 646.7,991.6 647.7,991.6 648.7,991.6 649.7,991.6 650.7,991.6 651.7,991.6 652.7,991.6 653.7,991.6 654.7,991.6 655.8,991.6 656.8,991.6 657.8,991.6 658.8,991.6 659.8,991.6 660.8,991.6 661.8,991.6 662.8,991.6 663.8,991.6 664.8,991.6 665.8,991.6 666.8,991.6 667.8,991.6 668.8,991.6 669.8,991.6" fill="none" stroke="#000000" stroke-width="4.4" stroke-linejoin="round" stroke-linecap="round" />
<polyline points="67.7,1405.1 68.7,1405.1 69.7,1405.1 70.7,1405.1 71.7,1405.1 72.7,1405.1 73.7,1405.1 74.7,1405.1 75.7,1405.1 76.7,1405.1 77.7,1405.1 78.7,1405.1 79.7,1405.1 80.7,1405.0 81.7,1405.0 82.8,1405.0 83.8,1405.0 84.8,1405.0 85.8,1405.0 86.8,1405.0 87.8,1405.0 88.8,1405.0 89.8,1405.0 90.8,1404.9 91.8,1404.9 92.8,1404.9 93.8,1404.9 94.8,1404.9 95.8,1404.9 96.8,1404.9 97.8,1404.9 98.8,1404.9 99.8,1404.8 100.8,1404.8 101.8,1404.8 102.8,1404.8 103.8,1404.8 104.8,1404.8 105.8,1404.8 106.8,1404.7 107.8,1404.7 108.8,1404.7 109.8,1404.7 110.9,1404.7 111.9,1404.6 112.9,1404.6 113.9,1404.6 114.9,1404.6 115.9,1404.6 116.9,1404.6 117.9,1404.5 118.9,1404.5 119.9,1404.5 120.9,1404.5 121.9,1404.4 122.9,1404.4 123.9,1404.4 124.9,1404.4 125.9,1404.3 126.9,1404.3 127.9,1404.3 128.9,1404.3 129.9,1404.2 130.9,1404.2 131.9,1404.2 132.9,1404.1 133.9,1404.1 134.9,1404.1 135.9,1404.1 136.9,1404.0 137.9,1404.0 138.9,1404.0 140.0,1403.9 141.0,1403.9 142.0,1403.8 143.0,1403.8 144.0,1403.8 145.0,1403.7 146.0,1403.7 147.0,1403.6 148.0,1403.6 149.0,1403.6 150.0,1403.5 151.0,1403.5 152.0,1403.4 153.0,1403.4 154.0,1403.3 155.0,1403.3 156.0,1403.2 157.0,1403.2 158.0,1403.1 159.0,1403.1 160.0,1403.0 161.0,1402.9 162.0,1402.9 163.0,1402.8 164.0,1402.7 165.0,1402.7 166.0,1402.6 167.0,1402.5 168.0,1402.5 169.1,1402.4 170.1,1402.3 171.1,1402.3 172.1,1402.2 173.1,1402.1 174.1,1402.0 175.1,1401.9 176.1,1401.9 177.1,1401.8 178.1,1401.7 179.1,1401.6 180.1,1401.5 181.1,1401.4 182.1,1401.3 183.1,1401.2 184.1,1401.1 185.1,1401.0 186.1,1400.9 187.1,1400.8 188.1,1400.7 189.1,1400.6 190.1,1400.4 191.1,1400.3 192.1,1400.2 193.1,1400.1 194.1,1399.9 195.1,1399.8 196.1,1399.7 197.2,1399.5 198.2,1399.4 199.2,1399.2 200.2,1399.1 201.2,1398.9 202.2,1398.7 203.2,1398.6 204.2,1398.4 205.2,1398.2 206.2,1398.0 207.2,1397.8 208.2,1397.6 209.2,1397.4 210.2,1397.2 211.2,1397.0 212.2,1396.8 213.2,1396.6 214.2,1396.3 215.2,1396.1 216.2,1395.8 217.2,1395.6 218.2,1395.3 219.2,1395.1 220.2,1394.8 221.2,1394.5 222.2,1394.2 223.2,1393.9 224.2,1393.6 225.2,1393.3 226.3,1392.9 227.3,1392.6 228.3,1392.2 229.3,1391.9 230.3,1391.5 231.3,1391.1 232.3,1390.7 233.3,1390.3 234.3,1389.9 235.3,1389.4 236.3,1389.0 237.3,1388.5 238.3,1388.1 239.3,1387.6 240.3,1387.1 241.3,1386.5 242.3,1386.0 243.3,1385.4 244.3,1384.9 245.3,1384.3 246.3,1383.7 247.3,1383.1 248.3,1382.4 249.3,1381.8 250.3,1381.1 251.3,1380.4 252.3,1379.7 253.3,1378.9 254.4,1378.1 255.4,1377.3 256.4,1376.5 257.4,1375.7 258.4,1374.8 259.4,1373.9 260.4,1373.0 261.4,1372.1 262.4,1371.1 263.4,1370.1 264.4,1369.1 265.4,1368.0 266.4,1366.9 267.4,1365.8 268.4,1364.6 269.4,1362.8 270.4,1360.3 271.4,1357.7 272.4,1355.0 273.4,1352.2 274.4,1349.2 275.4,1346.1 276.4,1342.9 277.4,1339.6 278.4,1336.1 279.4,1332.6 280.4,1328.9 281.4,1325.1 282.4,1321.1 283.5,1317.0 284.5,1312.8 285.5,1308.5 286.5,1304.1 287.5,1299.5 288.5,1294.9 289.5,1290.1 290.5,1285.2 291.5,1280.2 292.5,1275.2 293.5,1270.0 294.5,1264.7 295.5,1259.4 296.5,1254.0 297.5,1248.5 298.5,1243.0 299.5,1237.4 300.5,1231.8 301.5,1226.1 302.5,1220.4 303.5,1214.7 304.5,1209.0 305.5,1203.2 306.5,1197.5 307.5,1191.8 308.5,1186.1 309.5,1180.4 310.5,1174.8 311.6,1169.2 312.6,1163.7 313.6,1158.2 314.6,1152.8 315.6,1147.4 316.6,1142.1 317.6,1136.9 318.6,1131.8 319.6,1126.8 320.6,1121.9 321.6,1117.0 322.6,1112.3 323.6,1107.7 324.6,1103.2 325.6,1098.8 326.6,1094.5 327.6,1090.3 328.6,1086.2 329.6,1082.3 330.6,1078.4 331.6,1074.7 332.6,1071.1 333.6,1067.6 334.6,1064.3 335.6,1061.0 336.6,1057.9 337.6,1054.8 338.6,1051.9 339.6,1049.1 340.7,1046.3 341.7,1043.7 342.7,1041.2 343.7,1038.8 344.7,1036.5 345.7,1034.3 346.7,1032.1 347.7,1030.1 348.7,1028.1 349.7,1026.3 350.7,1024.5 351.7,1022.7 352.7,1021.1 353.7,1019.6 354.7,1018.1 355.7,1016.6 356.7,1015.3 357.7,1014.0 358.7,1012.8 359.7,1011.6 360.7,1010.5 361.7,1009.4 362.7,1008.4 363.7,1007.4 364.7,1006.5 365.7,1005.7 366.7,1004.8 367.7,1004.1 368.7,1003.3 369.8,1002.6 370.8,1002.0 371.8,1001.3 372.8,1000.8 373.8,1000.2 374.8,999.7 375.8,999.2 376.8,998.7 377.8,998.2 378.8,997.8 379.8,997.4 380.8,997.1 381.8,996.7 382.8,996.4 383.8,996.1 384.8,995.8 385.8,995.5 386.8,995.2 387.8,995.0 388.8,994.7 389.8,994.5 390.8,994.3 391.8,994.1 392.8,994.0 393.8,993.8 394.8,993.6 395.8,993.5 396.8,993.4 397.9,993.2 398.9,993.1 399.9,993.0 400.9,992.9 401.9,992.8 402.9,992.7 403.9,992.7 404.9,992.6 405.9,992.5 406.9,992.4 407.9,992.4 408.9,992.3 409.9,992.3 410.9,992.2 411.9,992.2 412.9,992.1 413.9,992.1 414.9,992.1 415.9,992.0 416.9,992.0 417.9,992.0 418.9,991.9 419.9,991.9 420.9,991.9 421.9,991.9 422.9,991.9 423.9,991.8 424.9,991.8 425.9,991.8 427.0,991.8 428.0,991.8 429.0,991.8 430.0,991.8 431.0,991.7 432.0,991.7 433.0,991.7 434.0,991.7 435.0,991.7 436.0,991.7 437.0,991.7 438.0,991.7 439.0,991.7 440.0,991.7 441.0,991.7 442.0,991.7 443.0,991.7 444.0,991.7 445.0,991.7 446.0,991.6 447.0,991.6 448.0,991.6 449.0,991.6 450.0,991.6 451.0,991.6 452.0,991.6 453.0,991.6 454.0,991.6 455.1,991.6 456.1,991.6 457.1,991.6 458.1,991.6 459.1,991.6 460.1,991.6 461.1,991.6 462.1,991.6 463.1,991.6 464.1,991.6 465.1,991.6 466.1,991.6 467.1,991.6 468.1,991.6 469.1,991.6 470.1,991.6 471.1,991.6 472.1,991.6 473.1,991.6 474.1,991.6 475.1,991.6 476.1,991.6 477.1,991.6 478.1,991.6 479.1,991.6 480.1,991.6 481.1,991.6 482.1,991.6 483.1,991.6 484.2,991.6 485.2,991.6 486.2,991.6 487.2,991.6 488.2,991.6 489.2,991.6 490.2,991.6 491.2,991.6 492.2,991.6 493.2,991.6 494.2,991.6 495.2,991.6 496.2,991.6 497.2,991.6 498.2,991.6 499.2,991.6 500.2,991.6 501.2,991.6 502.2,991.6 503.2,991.6 504.2,991.6 505.2,991.6 506.2,991.6 507.2,991.6 508.2,991.6 509.2,991.6 510.2,991.6 511.2,991.6 512.3,991.6 513.3,991.6 514.3,991.6 515.3,991.6 516.3,991.6 517.3,991.6 518.3,991.6 519.3,991.6 520.3,991.6 521.3,991.6 522.3,991.6 523.3,991.6 524.3,991.6 525.3,991.6 526.3,991.6 527.3,991.6 528.3,991.6 529.3,991.6 530.3,991.6 531.3,991.6 532.3,991.6 533.3,991.6 534.3,991.6 535.3,991.6 536.3,991.6 537.3,991.6 538.3,991.6 539.3,991.6 540.3,991.6 541.4,991.6 542.4,991.6 543.4,991.6 544.4,991.6 545.4,991.6 546.4,991.6 547.4,991.6 548.4,991.6 549.4,991.6 550.4,991.6 551.4,991.6 552.4,991.6 553.4,991.6 554.4,991.6 555.4,991.6 556.4,991.6 557.4,991.6 558.4,991.6 559.4,991.6 560.4,991.6 561.4,991.6 562.4,991.6 563.4,991.6 564.4,991.6 565.4,991.6 566.4,991.6 567.4,991.6 568.4,991.6 569.4,991.6 570.5,991.6 571.5,991.6 572.5,991.6 573.5,991.6 574.5,991.6 575.5,991.6 576.5,991.6 577.5,991.6 578.5,991.6 579.5,991.6 580.5,991.6 581.5,991.6 582.5,991.6 583.5,991.6 584.5,991.6 585.5,991.6 586.5,991.6 587.5,991.6 588.5,991.6 589.5,991.6 590.5,991.6 591.5,991.6 592.5,991.6 593.5,991.6 594.5,991.6 595.5,991.6 596.5,991.6 597.5,991.6 598.6,991.6 599.6,991.6 600.6,991.6 601.6,991.6 602.6,991.6 603.6,991.6 604.6,991.6 605.6,991.6 606.6,991.6 607.6,991.6 608.6,991.6 609.6,991.6 610.6,991.6 611.6,991.6 612.6,991.6 613.6,991.6 614.6,991.6 615.6,991.6 616.6,991.6 617.6,991.6 618.6,991.6 619.6,991.6 620.6,991.6 621.6,991.6 622.6,991.6 623.6,991.6 624.6,991.6 625.6,991.6 626.6,991.6 627.7,991.6 628.7,991.6 629.7,991.6 630.7,991.6 631.7,991.6 632.7,991.6 633.7,991.6 634.7,991.6 635.7,991.6 636.7,991.6 637.7,991.6 638.7,991.6 639.7,991.6 640.7,991.6 641.7,991.6 642.7,991.6 643.7,991.6 644.7,991.6 645.7,991.6 646.7,991.6 647.7,991.6 648.7,991.6 649.7,991.6 650.7,991.6 651.7,991.6 652.7,991.6 653.7,991.6 654.7,991.6 655.8,991.6 656.8,991.6 657.8,991.6 658.8,991.6 659.8,991.6 660.8,991.6 661.8,991.6 662.8,991.6 663.8,991.6 664.8,991.6 665.8,991.6 666.8,991.6 667.8,991.6 668.8,991.6 669.8,991.6" fill="none" stroke="#6e6e6e" stroke-width="4.4" stroke-linejoin="round" stroke-linecap="round" />
</g>
<line x1="67.7" y1="1032.98" x2="669.8" y2="1032.98" stroke="#0000d0" stroke-width="2.3" stroke-dasharray="11 10.58"/>
<line x1="67.7" y1="1198.5" x2="669.8" y2="1198.5" stroke="#20e020" stroke-width="2.3" stroke-dasharray="11 10.58"/>
<line x1="67.7" y1="1364.02" x2="669.8" y2="1364.02" stroke="#e01818" stroke-width="2.3" stroke-dasharray="11 10.58"/>
<text x="67.7" y="1427.4" font-size="17" fill="#000" text-anchor="middle" font-weight="normal" font-style="normal" >8</text>
<text x="168.05" y="1427.4" font-size="17" fill="#000" text-anchor="middle" font-weight="normal" font-style="normal" >10</text>
<text x="268.4" y="1427.4" font-size="17" fill="#000" text-anchor="middle" font-weight="normal" font-style="normal" >12</text>
<text x="368.75" y="1427.4" font-size="17" fill="#000" text-anchor="middle" font-weight="normal" font-style="normal" >14</text>
<text x="469.1" y="1427.4" font-size="17" fill="#000" text-anchor="middle" font-weight="normal" font-style="normal" >16</text>
<text x="569.45" y="1427.4" font-size="17" fill="#000" text-anchor="middle" font-weight="normal" font-style="normal" >18</text>
<text x="669.8" y="1427.4" font-size="17" fill="#000" text-anchor="middle" font-weight="normal" font-style="normal" >20</text>
<text x="52.25" y="1411.9" font-size="17.8" fill="#000" font-weight="normal" font-style="normal" textLength="9.44" lengthAdjust="spacingAndGlyphs" >0</text>
<text x="42.81" y="1370.52" font-size="17.8" fill="#000" font-weight="normal" font-style="normal" textLength="18.89" lengthAdjust="spacingAndGlyphs" >10</text>
<text x="42.81" y="1329.14" font-size="17.8" fill="#000" font-weight="normal" font-style="normal" textLength="18.89" lengthAdjust="spacingAndGlyphs" >20</text>
<text x="42.81" y="1287.76" font-size="17.8" fill="#000" font-weight="normal" font-style="normal" textLength="18.89" lengthAdjust="spacingAndGlyphs" >30</text>
<text x="42.81" y="1246.38" font-size="17.8" fill="#000" font-weight="normal" font-style="normal" textLength="18.89" lengthAdjust="spacingAndGlyphs" >40</text>
<text x="42.81" y="1205" font-size="17.8" fill="#000" font-weight="normal" font-style="normal" textLength="18.89" lengthAdjust="spacingAndGlyphs" >50</text>
<text x="42.81" y="1163.62" font-size="17.8" fill="#000" font-weight="normal" font-style="normal" textLength="18.89" lengthAdjust="spacingAndGlyphs" >60</text>
<text x="42.81" y="1122.24" font-size="17.8" fill="#000" font-weight="normal" font-style="normal" textLength="18.89" lengthAdjust="spacingAndGlyphs" >70</text>
<text x="42.81" y="1080.86" font-size="17.8" fill="#000" font-weight="normal" font-style="normal" textLength="18.89" lengthAdjust="spacingAndGlyphs" >80</text>
<text x="42.81" y="1039.48" font-size="17.8" fill="#000" font-weight="normal" font-style="normal" textLength="18.89" lengthAdjust="spacingAndGlyphs" >90</text>
<text x="33.36" y="998.1" font-size="17.8" fill="#000" font-weight="normal" font-style="normal" textLength="28.33" lengthAdjust="spacingAndGlyphs" >100</text>
<text x="328.03" y="1445.6" font-size="17" fill="#000" font-weight="normal" font-style="normal" textLength="69.51" lengthAdjust="spacingAndGlyphs" >Mass (M</text>
<text x="397.3" y="1453.9" font-size="13.5" fill="#000" font-weight="normal" font-style="normal" textLength="7.31" lengthAdjust="spacingAndGlyphs" >J</text>
<text x="404.3" y="1445.6" font-size="17" fill="#000" font-weight="normal" font-style="normal" textLength="5.66" lengthAdjust="spacingAndGlyphs" >)</text>
<text x="-100.78" y="1194.45" font-size="17.5" fill="#000" font-weight="normal" font-style="normal" textLength="242.27" lengthAdjust="spacingAndGlyphs" transform="rotate(-90 19.2 1194.45)">Fraction of initial D burned (%)</text>
<text x="117.7" y="1025.48" font-size="24.5" fill="#0000d0" text-anchor="start" font-weight="bold" font-style="normal" >90%</text>
<text x="117.7" y="1191" font-size="24.5" fill="#20e020" text-anchor="start" font-weight="bold" font-style="normal" >50%</text>
<text x="117.7" y="1356.52" font-size="24.5" fill="#e01818" text-anchor="start" font-weight="bold" font-style="normal" >10%</text>
<text x="468.87" y="1227.7" font-size="22.4" fill="#000" font-weight="normal" font-style="normal" textLength="101" lengthAdjust="spacingAndGlyphs" >Metallicity</text>
<text x="469.9" y="1253" font-size="17.6" fill="#6e6e6e" font-weight="normal" font-style="normal" textLength="35.91" lengthAdjust="spacingAndGlyphs" >Z1.0</text>
<text x="469.9" y="1273.75" font-size="17.6" fill="#229ee8" font-weight="normal" font-style="normal" textLength="35.91" lengthAdjust="spacingAndGlyphs" >Z0.3</text>
<text x="469.9" y="1294.5" font-size="17.6" fill="#6e6ee6" font-weight="normal" font-style="normal" textLength="35.91" lengthAdjust="spacingAndGlyphs" >Z0.1</text>
<text x="469.9" y="1315.25" font-size="17.6" fill="#a040e8" font-weight="normal" font-style="normal" textLength="45.89" lengthAdjust="spacingAndGlyphs" >Z0.01</text>
<text x="469.9" y="1336" font-size="17.6" fill="#e61ee6" font-weight="normal" font-style="normal" textLength="20.94" lengthAdjust="spacingAndGlyphs" >Z0</text>
<text x="468.88" y="1356.75" font-size="17.6" fill="#000000" font-weight="normal" font-style="normal" textLength="42.9" lengthAdjust="spacingAndGlyphs" >He25</text>
<path d="M780,429.4v-6M780,10.4v6M839.8,429.4v-6M839.8,10.4v6M899.6,429.4v-6M899.6,10.4v6M959.4,429.4v-6M959.4,10.4v6M1019.2,429.4v-6M1019.2,10.4v6M1079,429.4v-6M1079,10.4v6M1138.8,429.4v-6M1138.8,10.4v6M1198.6,429.4v-6M1198.6,10.4v6M1258.4,429.4v-6M1258.4,10.4v6M1318.2,429.4v-6M1318.2,10.4v6M1378,429.4v-6M1378,10.4v6M809.9,429.4v-3M809.9,10.4v3M869.7,429.4v-3M869.7,10.4v3M929.5,429.4v-3M929.5,10.4v3M989.3,429.4v-3M989.3,10.4v3M1049.1,429.4v-3M1049.1,10.4v3M1108.9,429.4v-3M1108.9,10.4v3M1168.7,429.4v-3M1168.7,10.4v3M1228.5,429.4v-3M1228.5,10.4v3M1288.3,429.4v-3M1288.3,10.4v3M1348.1,429.4v-3M1348.1,10.4v3M780,429.4h6M1378,429.4h-6M780,387.5h6M1378,387.5h-6M780,345.6h6M1378,345.6h-6M780,303.7h6M1378,303.7h-6M780,261.8h6M1378,261.8h-6M780,219.9h6M1378,219.9h-6M780,178h6M1378,178h-6M780,136.1h6M1378,136.1h-6M780,94.2h6M1378,94.2h-6M780,52.3h6M1378,52.3h-6M780,10.4h6M1378,10.4h-6M780,408.45h3M1378,408.45h-3M780,366.55h3M1378,366.55h-3M780,324.65h3M1378,324.65h-3M780,282.75h3M1378,282.75h-3M780,240.85h3M1378,240.85h-3M780,198.95h3M1378,198.95h-3M780,157.05h3M1378,157.05h-3M780,115.15h3M1378,115.15h-3M780,73.25h3M1378,73.25h-3M780,31.35h3M1378,31.35h-3" stroke="#000" stroke-width="2.40" fill="none"/>
<rect x="780" y="10.4" width="598" height="419" fill="none" stroke="#000" stroke-width="3.0" stroke-linejoin="miter"/>
<circle cx="780" cy="101.32" r="6.8" fill="none" stroke="#12ea12" stroke-width="3.6"/>
<rect x="774.4" y="166.53" width="11.2" height="11.2" fill="none" stroke="#12ea12" stroke-width="3.6"/>
<path d="M780,236.04L772.21,249.54L787.79,249.54Z" fill="none" stroke="#12ea12" stroke-width="3.6" stroke-linejoin="miter"/>
<circle cx="959.4" cy="147.83" r="6.8" fill="none" stroke="#000000" stroke-width="3.6"/>
<path d="M959.4,278.78L951.61,292.28L967.19,292.28Z" fill="none" stroke="#000000" stroke-width="3.6" stroke-linejoin="miter"/>
<circle cx="1138.8" cy="209.84" r="6.8" fill="none" stroke="#229ee8" stroke-width="3.6"/>
<rect x="1133.2" y="270.45" width="11.2" height="11.2" fill="none" stroke="#229ee8" stroke-width="3.6"/>
<path d="M1138.8,329.9L1131.01,343.4L1146.59,343.4Z" fill="none" stroke="#229ee8" stroke-width="3.6" stroke-linejoin="miter"/>
<circle cx="1258.4" cy="244.2" r="6.8" fill="none" stroke="#0000e0" stroke-width="3.6"/>
<rect x="1252.8" y="304.8" width="11.2" height="11.2" fill="none" stroke="#0000e0" stroke-width="3.6"/>
<path d="M1258.4,367.61L1250.61,381.11L1266.19,381.11Z" fill="none" stroke="#0000e0" stroke-width="3.6" stroke-linejoin="miter"/>
<circle cx="1378" cy="279.4" r="6.8" fill="none" stroke="#8416dc" stroke-width="3.6"/>
<rect x="1372.4" y="335.81" width="11.2" height="11.2" fill="none" stroke="#8416dc" stroke-width="3.6"/>
<path d="M1378,392.75L1370.21,406.25L1385.79,406.25Z" fill="none" stroke="#8416dc" stroke-width="3.6" stroke-linejoin="miter"/>
<polyline points="780.0,101.3 782.0,101.8 784.0,102.4 786.0,102.9 788.0,103.4 790.0,103.9 792.0,104.4 794.0,105.0 796.0,105.5 798.0,106.0 800.0,106.5 802.0,107.0 804.0,107.5 806.0,108.1 808.0,108.6 810.0,109.1 812.0,109.6 814.0,110.1 816.0,110.7 818.0,111.2 820.0,111.7 822.0,112.2 824.0,112.7 826.0,113.2 828.0,113.8 830.0,114.3 832.0,114.8 834.0,115.3 836.0,115.8 838.0,116.4 840.0,116.9 842.0,117.4 844.0,117.9 846.0,118.4 848.0,119.0 850.0,119.5 852.0,120.0 854.0,120.5 856.0,121.0 858.0,121.5 860.0,122.1 862.0,122.6 864.0,123.1 866.0,123.6 868.0,124.1 870.0,124.7 872.0,125.2 874.0,125.7 876.0,126.2 878.0,126.7 880.0,127.2 882.0,127.8 884.0,128.3 886.0,128.8 888.0,129.3 890.0,129.8 892.0,130.4 894.0,130.9 896.0,131.4 898.0,131.9 900.0,132.4 902.0,133.0 904.0,133.5 906.0,134.0 908.0,134.5 910.0,135.0 912.0,135.5 914.0,136.1 916.0,136.6 918.0,137.1 920.0,137.6 922.0,138.1 924.0,138.7 926.0,139.2 928.0,139.7 930.0,140.2 932.0,140.7 934.0,141.2 936.0,141.8 938.0,142.3 940.0,142.8 942.0,143.3 944.0,143.9 946.0,144.4 948.0,144.9 950.0,145.5 952.0,146.0 954.0,146.6 956.0,147.2 958.0,147.8 960.0,148.4 962.0,149.0 964.0,149.6 966.0,150.2 968.0,150.9 970.0,151.6 972.0,152.2 974.0,152.9 976.0,153.6 978.0,154.3 980.0,155.0 982.0,155.6 984.0,156.3 986.0,157.0 988.0,157.7 990.0,158.4 992.0,159.1 994.0,159.8 996.0,160.5 998.0,161.2 1000.0,161.9 1002.0,162.6 1004.0,163.2 1006.0,163.9 1008.0,164.6 1010.0,165.3 1012.0,166.0 1014.0,166.7 1016.0,167.4 1018.0,168.1 1020.0,168.8 1022.0,169.5 1024.0,170.2 1026.0,170.9 1028.0,171.5 1030.0,172.2 1032.0,172.9 1034.0,173.6 1036.0,174.3 1038.0,175.0 1040.0,175.7 1042.0,176.4 1044.0,177.1 1046.0,177.8 1048.0,178.5 1050.0,179.1 1052.0,179.8 1054.0,180.5 1056.0,181.2 1058.0,181.9 1060.0,182.6 1062.0,183.3 1064.0,184.0 1066.0,184.7 1068.0,185.4 1070.0,186.1 1072.0,186.8 1074.0,187.4 1076.0,188.1 1078.0,188.8 1080.0,189.5 1082.0,190.2 1084.0,190.9 1086.0,191.6 1088.0,192.3 1090.0,193.0 1092.0,193.7 1094.0,194.4 1096.0,195.0 1098.0,195.7 1100.0,196.4 1102.0,197.1 1104.0,197.8 1106.0,198.5 1108.0,199.2 1110.0,199.9 1112.0,200.6 1114.0,201.3 1116.0,202.0 1118.0,202.7 1120.0,203.3 1122.0,204.0 1124.0,204.7 1126.0,205.4 1128.0,206.1 1130.0,206.7 1132.0,207.4 1134.0,208.1 1136.0,208.7 1138.0,209.4 1140.0,210.0 1142.0,210.6 1144.0,211.2 1146.0,211.8 1148.0,212.4 1150.0,213.0 1152.0,213.6 1154.0,214.2 1156.0,214.8 1158.0,215.4 1160.0,215.9 1162.0,216.5 1164.0,217.1 1166.0,217.7 1168.0,218.2 1170.0,218.8 1172.0,219.4 1174.0,220.0 1176.0,220.5 1178.0,221.1 1180.0,221.7 1182.0,222.3 1184.0,222.8 1186.0,223.4 1188.0,224.0 1190.0,224.6 1192.0,225.1 1194.0,225.7 1196.0,226.3 1198.0,226.9 1200.0,227.4 1202.0,228.0 1204.0,228.6 1206.0,229.1 1208.0,229.7 1210.0,230.3 1212.0,230.9 1214.0,231.4 1216.0,232.0 1218.0,232.6 1220.0,233.2 1222.0,233.7 1224.0,234.3 1226.0,234.9 1228.0,235.5 1230.0,236.0 1232.0,236.6 1234.0,237.2 1236.0,237.8 1238.0,238.3 1240.0,238.9 1242.0,239.5 1244.0,240.1 1246.0,240.6 1248.0,241.2 1250.0,241.8 1252.0,242.4 1254.0,243.0 1256.0,243.5 1258.0,244.1 1260.0,244.7 1262.0,245.3 1264.0,245.9 1266.0,246.4 1268.0,247.0 1270.0,247.6 1272.0,248.2 1274.0,248.8 1276.0,249.4 1278.0,250.0 1280.0,250.6 1282.0,251.1 1284.0,251.7 1286.0,252.3 1288.0,252.9 1290.0,253.5 1292.0,254.1 1294.0,254.7 1296.0,255.3 1298.0,255.9 1300.0,256.4 1302.0,257.0 1304.0,257.6 1306.0,258.2 1308.0,258.8 1310.0,259.4 1312.0,260.0 1314.0,260.6 1316.0,261.2 1318.0,261.7 1320.0,262.3 1322.0,262.9 1324.0,263.5 1326.0,264.1 1328.0,264.7 1330.0,265.3 1332.0,265.9 1334.0,266.4 1336.0,267.0 1338.0,267.6 1340.0,268.2 1342.0,268.8 1344.0,269.4 1346.0,270.0 1348.0,270.6 1350.0,271.2 1352.0,271.7 1354.0,272.3 1356.0,272.9 1358.0,273.5 1360.0,274.1 1362.0,274.7 1364.0,275.3 1366.0,275.9 1368.0,276.5 1370.0,277.0 1372.0,277.6 1374.0,278.2 1376.0,278.8 1378.0,279.4 1378.0,279.4" fill="none" stroke="#0000e0" stroke-width="3.7" stroke-linejoin="round" stroke-linecap="round" />
<polyline points="780.0,172.1 782.0,172.6 784.0,173.1 786.0,173.6 788.0,174.1 790.0,174.6 792.0,175.0 794.0,175.5 796.0,176.0 798.0,176.5 800.0,177.0 802.0,177.5 804.0,178.0 806.0,178.4 808.0,178.9 810.0,179.4 812.0,179.9 814.0,180.4 816.0,180.9 818.0,181.4 820.0,181.8 822.0,182.3 824.0,182.8 826.0,183.3 828.0,183.8 830.0,184.3 832.0,184.8 834.0,185.3 836.0,185.7 838.0,186.2 840.0,186.7 842.0,187.2 844.0,187.7 846.0,188.2 848.0,188.7 850.0,189.1 852.0,189.6 854.0,190.1 856.0,190.6 858.0,191.1 860.0,191.6 862.0,192.1 864.0,192.5 866.0,193.0 868.0,193.5 870.0,194.0 872.0,194.5 874.0,195.0 876.0,195.5 878.0,195.9 880.0,196.4 882.0,196.9 884.0,197.4 886.0,197.9 888.0,198.4 890.0,198.9 892.0,199.3 894.0,199.8 896.0,200.3 898.0,200.8 900.0,201.3 902.0,201.8 904.0,202.3 906.0,202.7 908.0,203.2 910.0,203.7 912.0,204.2 914.0,204.7 916.0,205.2 918.0,205.7 920.0,206.1 922.0,206.6 924.0,207.1 926.0,207.6 928.0,208.1 930.0,208.6 932.0,209.1 934.0,209.5 936.0,210.0 938.0,210.5 940.0,211.0 942.0,211.5 944.0,212.0 946.0,212.5 948.0,213.0 950.0,213.5 952.0,214.0 954.0,214.6 956.0,215.1 958.0,215.7 960.0,216.3 962.0,216.8 964.0,217.5 966.0,218.1 968.0,218.7 970.0,219.3 972.0,220.0 974.0,220.7 976.0,221.3 978.0,222.0 980.0,222.6 982.0,223.3 984.0,224.0 986.0,224.7 988.0,225.3 990.0,226.0 992.0,226.7 994.0,227.3 996.0,228.0 998.0,228.7 1000.0,229.4 1002.0,230.0 1004.0,230.7 1006.0,231.4 1008.0,232.1 1010.0,232.7 1012.0,233.4 1014.0,234.1 1016.0,234.7 1018.0,235.4 1020.0,236.1 1022.0,236.8 1024.0,237.4 1026.0,238.1 1028.0,238.8 1030.0,239.5 1032.0,240.1 1034.0,240.8 1036.0,241.5 1038.0,242.1 1040.0,242.8 1042.0,243.5 1044.0,244.2 1046.0,244.8 1048.0,245.5 1050.0,246.2 1052.0,246.9 1054.0,247.5 1056.0,248.2 1058.0,248.9 1060.0,249.5 1062.0,250.2 1064.0,250.9 1066.0,251.6 1068.0,252.2 1070.0,252.9 1072.0,253.6 1074.0,254.3 1076.0,254.9 1078.0,255.6 1080.0,256.3 1082.0,256.9 1084.0,257.6 1086.0,258.3 1088.0,259.0 1090.0,259.6 1092.0,260.3 1094.0,261.0 1096.0,261.7 1098.0,262.3 1100.0,263.0 1102.0,263.7 1104.0,264.3 1106.0,265.0 1108.0,265.7 1110.0,266.4 1112.0,267.0 1114.0,267.7 1116.0,268.4 1118.0,269.0 1120.0,269.7 1122.0,270.4 1124.0,271.1 1126.0,271.7 1128.0,272.4 1130.0,273.0 1132.0,273.7 1134.0,274.3 1136.0,275.0 1138.0,275.6 1140.0,276.2 1142.0,276.8 1144.0,277.4 1146.0,278.0 1148.0,278.6 1150.0,279.2 1152.0,279.8 1154.0,280.4 1156.0,281.0 1158.0,281.6 1160.0,282.1 1162.0,282.7 1164.0,283.3 1166.0,283.9 1168.0,284.4 1170.0,285.0 1172.0,285.6 1174.0,286.2 1176.0,286.7 1178.0,287.3 1180.0,287.9 1182.0,288.5 1184.0,289.0 1186.0,289.6 1188.0,290.2 1190.0,290.8 1192.0,291.3 1194.0,291.9 1196.0,292.5 1198.0,293.1 1200.0,293.6 1202.0,294.2 1204.0,294.8 1206.0,295.4 1208.0,295.9 1210.0,296.5 1212.0,297.1 1214.0,297.6 1216.0,298.2 1218.0,298.8 1220.0,299.4 1222.0,299.9 1224.0,300.5 1226.0,301.1 1228.0,301.7 1230.0,302.2 1232.0,302.8 1234.0,303.4 1236.0,304.0 1238.0,304.5 1240.0,305.1 1242.0,305.7 1244.0,306.3 1246.0,306.8 1248.0,307.4 1250.0,308.0 1252.0,308.5 1254.0,309.1 1256.0,309.6 1258.0,310.2 1260.0,310.7 1262.0,311.3 1264.0,311.8 1266.0,312.3 1268.0,312.9 1270.0,313.4 1272.0,313.9 1274.0,314.4 1276.0,315.0 1278.0,315.5 1280.0,316.0 1282.0,316.5 1284.0,317.0 1286.0,317.6 1288.0,318.1 1290.0,318.6 1292.0,319.1 1294.0,319.6 1296.0,320.2 1298.0,320.7 1300.0,321.2 1302.0,321.7 1304.0,322.2 1306.0,322.7 1308.0,323.3 1310.0,323.8 1312.0,324.3 1314.0,324.8 1316.0,325.3 1318.0,325.9 1320.0,326.4 1322.0,326.9 1324.0,327.4 1326.0,327.9 1328.0,328.4 1330.0,329.0 1332.0,329.5 1334.0,330.0 1336.0,330.5 1338.0,331.0 1340.0,331.6 1342.0,332.1 1344.0,332.6 1346.0,333.1 1348.0,333.6 1350.0,334.2 1352.0,334.7 1354.0,335.2 1356.0,335.7 1358.0,336.2 1360.0,336.7 1362.0,337.3 1364.0,337.8 1366.0,338.3 1368.0,338.8 1370.0,339.3 1372.0,339.9 1374.0,340.4 1376.0,340.9 1378.0,341.4 1378.0,341.4" fill="none" stroke="#12ea12" stroke-width="3.7" stroke-linejoin="round" stroke-linecap="round" />
<polyline points="780.0,245.0 782.0,245.5 784.0,246.0 786.0,246.5 788.0,246.9 790.0,247.4 792.0,247.9 794.0,248.4 796.0,248.9 798.0,249.3 800.0,249.8 802.0,250.3 804.0,250.8 806.0,251.2 808.0,251.7 810.0,252.2 812.0,252.7 814.0,253.1 816.0,253.6 818.0,254.1 820.0,254.6 822.0,255.0 824.0,255.5 826.0,256.0 828.0,256.5 830.0,257.0 832.0,257.4 834.0,257.9 836.0,258.4 838.0,258.9 840.0,259.3 842.0,259.8 844.0,260.3 846.0,260.8 848.0,261.2 850.0,261.7 852.0,262.2 854.0,262.7 856.0,263.1 858.0,263.6 860.0,264.1 862.0,264.6 864.0,265.1 866.0,265.5 868.0,266.0 870.0,266.5 872.0,267.0 874.0,267.4 876.0,267.9 878.0,268.4 880.0,268.9 882.0,269.3 884.0,269.8 886.0,270.3 888.0,270.8 890.0,271.2 892.0,271.7 894.0,272.2 896.0,272.7 898.0,273.2 900.0,273.6 902.0,274.1 904.0,274.6 906.0,275.1 908.0,275.5 910.0,276.0 912.0,276.5 914.0,277.0 916.0,277.4 918.0,277.9 920.0,278.4 922.0,278.9 924.0,279.3 926.0,279.8 928.0,280.3 930.0,280.8 932.0,281.3 934.0,281.7 936.0,282.2 938.0,282.7 940.0,283.2 942.0,283.6 944.0,284.1 946.0,284.6 948.0,285.1 950.0,285.6 952.0,286.1 954.0,286.6 956.0,287.1 958.0,287.6 960.0,288.1 962.0,288.7 964.0,289.2 966.0,289.7 968.0,290.3 970.0,290.8 972.0,291.4 974.0,292.0 976.0,292.5 978.0,293.1 980.0,293.7 982.0,294.2 984.0,294.8 986.0,295.4 988.0,295.9 990.0,296.5 992.0,297.1 994.0,297.6 996.0,298.2 998.0,298.8 1000.0,299.3 1002.0,299.9 1004.0,300.5 1006.0,301.1 1008.0,301.6 1010.0,302.2 1012.0,302.8 1014.0,303.3 1016.0,303.9 1018.0,304.5 1020.0,305.0 1022.0,305.6 1024.0,306.2 1026.0,306.8 1028.0,307.3 1030.0,307.9 1032.0,308.5 1034.0,309.0 1036.0,309.6 1038.0,310.2 1040.0,310.7 1042.0,311.3 1044.0,311.9 1046.0,312.5 1048.0,313.0 1050.0,313.6 1052.0,314.2 1054.0,314.7 1056.0,315.3 1058.0,315.9 1060.0,316.4 1062.0,317.0 1064.0,317.6 1066.0,318.2 1068.0,318.7 1070.0,319.3 1072.0,319.9 1074.0,320.4 1076.0,321.0 1078.0,321.6 1080.0,322.1 1082.0,322.7 1084.0,323.3 1086.0,323.9 1088.0,324.4 1090.0,325.0 1092.0,325.6 1094.0,326.1 1096.0,326.7 1098.0,327.3 1100.0,327.8 1102.0,328.4 1104.0,329.0 1106.0,329.6 1108.0,330.1 1110.0,330.7 1112.0,331.3 1114.0,331.8 1116.0,332.4 1118.0,333.0 1120.0,333.5 1122.0,334.1 1124.0,334.7 1126.0,335.3 1128.0,335.8 1130.0,336.4 1132.0,337.0 1134.0,337.6 1136.0,338.2 1138.0,338.8 1140.0,339.4 1142.0,340.0 1144.0,340.6 1146.0,341.2 1148.0,341.8 1150.0,342.4 1152.0,343.1 1154.0,343.7 1156.0,344.3 1158.0,345.0 1160.0,345.6 1162.0,346.2 1164.0,346.8 1166.0,347.5 1168.0,348.1 1170.0,348.7 1172.0,349.4 1174.0,350.0 1176.0,350.6 1178.0,351.3 1180.0,351.9 1182.0,352.5 1184.0,353.1 1186.0,353.8 1188.0,354.4 1190.0,355.0 1192.0,355.7 1194.0,356.3 1196.0,356.9 1198.0,357.6 1200.0,358.2 1202.0,358.8 1204.0,359.5 1206.0,360.1 1208.0,360.7 1210.0,361.3 1212.0,362.0 1214.0,362.6 1216.0,363.2 1218.0,363.9 1220.0,364.5 1222.0,365.1 1224.0,365.8 1226.0,366.4 1228.0,367.0 1230.0,367.7 1232.0,368.3 1234.0,368.9 1236.0,369.5 1238.0,370.2 1240.0,370.8 1242.0,371.4 1244.0,372.0 1246.0,372.6 1248.0,373.2 1250.0,373.8 1252.0,374.4 1254.0,375.0 1256.0,375.5 1258.0,376.1 1260.0,376.6 1262.0,377.1 1264.0,377.6 1266.0,378.1 1268.0,378.5 1270.0,379.0 1272.0,379.4 1274.0,379.9 1276.0,380.3 1278.0,380.7 1280.0,381.1 1282.0,381.6 1284.0,382.0 1286.0,382.4 1288.0,382.8 1290.0,383.2 1292.0,383.7 1294.0,384.1 1296.0,384.5 1298.0,384.9 1300.0,385.4 1302.0,385.8 1304.0,386.2 1306.0,386.6 1308.0,387.0 1310.0,387.5 1312.0,387.9 1314.0,388.3 1316.0,388.7 1318.0,389.1 1320.0,389.6 1322.0,390.0 1324.0,390.4 1326.0,390.8 1328.0,391.2 1330.0,391.7 1332.0,392.1 1334.0,392.5 1336.0,392.9 1338.0,393.3 1340.0,393.8 1342.0,394.2 1344.0,394.6 1346.0,395.0 1348.0,395.4 1350.0,395.9 1352.0,396.3 1354.0,396.7 1356.0,397.1 1358.0,397.5 1360.0,398.0 1362.0,398.4 1364.0,398.8 1366.0,399.2 1368.0,399.6 1370.0,400.1 1372.0,400.5 1374.0,400.9 1376.0,401.3 1378.0,401.7 1378.0,401.7" fill="none" stroke="#e80c10" stroke-width="3.7" stroke-linejoin="round" stroke-linecap="round" />
<text x="780" y="451.4" font-size="17.5" fill="#000" text-anchor="middle" font-weight="normal" font-style="normal" >0.22</text>
<text x="839.8" y="451.4" font-size="17.5" fill="#000" text-anchor="middle" font-weight="normal" font-style="normal" >0.23</text>
<text x="899.6" y="451.4" font-size="17.5" fill="#000" text-anchor="middle" font-weight="normal" font-style="normal" >0.24</text>
<text x="959.4" y="451.4" font-size="17.5" fill="#000" text-anchor="middle" font-weight="normal" font-style="normal" >0.25</text>
<text x="1019.2" y="451.4" font-size="17.5" fill="#000" text-anchor="middle" font-weight="normal" font-style="normal" >0.26</text>
<text x="1079" y="451.4" font-size="17.5" fill="#000" text-anchor="middle" font-weight="normal" font-style="normal" >0.27</text>
<text x="1138.8" y="451.4" font-size="17.5" fill="#000" text-anchor="middle" font-weight="normal" font-style="normal" >0.28</text>
<text x="1198.6" y="451.4" font-size="17.5" fill="#000" text-anchor="middle" font-weight="normal" font-style="normal" >0.29</text>
<text x="1258.4" y="451.4" font-size="17.5" fill="#000" text-anchor="middle" font-weight="normal" font-style="normal" >0.3</text>
<text x="1318.2" y="451.4" font-size="17.5" fill="#000" text-anchor="middle" font-weight="normal" font-style="normal" >0.31</text>
<text x="1378" y="451.4" font-size="17.5" fill="#000" text-anchor="middle" font-weight="normal" font-style="normal" >0.32</text>
<text x="775" y="436.4" font-size="17.5" fill="#000" text-anchor="end" font-weight="normal" font-style="normal" >11</text>
<text x="775" y="394.5" font-size="17.5" fill="#000" text-anchor="end" font-weight="normal" font-style="normal" >11.5</text>
<text x="775" y="352.6" font-size="17.5" fill="#000" text-anchor="end" font-weight="normal" font-style="normal" >12</text>
<text x="775" y="310.7" font-size="17.5" fill="#000" text-anchor="end" font-weight="normal" font-style="normal" >12.5</text>
<text x="775" y="268.8" font-size="17.5" fill="#000" text-anchor="end" font-weight="normal" font-style="normal" >13</text>
<text x="775" y="226.9" font-size="17.5" fill="#000" text-anchor="end" font-weight="normal" font-style="normal" >13.5</text>
<text x="775" y="185" font-size="17.5" fill="#000" text-anchor="end" font-weight="normal" font-style="normal" >14</text>
<text x="775" y="143.1" font-size="17.5" fill="#000" text-anchor="end" font-weight="normal" font-style="normal" >14.5</text>
<text x="775" y="101.2" font-size="17.5" fill="#000" text-anchor="end" font-weight="normal" font-style="normal" >15</text>
<text x="775" y="59.3" font-size="17.5" fill="#000" text-anchor="end" font-weight="normal" font-style="normal" >15.5</text>
<text x="775" y="17.4" font-size="17.5" fill="#000" text-anchor="end" font-weight="normal" font-style="normal" >16</text>
<text x="693.68" y="219.9" font-size="17" fill="#000" font-weight="normal" font-style="normal" textLength="39.4" lengthAdjust="spacingAndGlyphs" transform="rotate(-90 719.8 219.9)">M (M</text>
<text x="733.1" y="228.2" font-size="13.5" fill="#000" font-weight="normal" font-style="normal" textLength="6.53" lengthAdjust="spacingAndGlyphs" transform="rotate(-90 719.8 219.9)">J</text>
<text x="740.7" y="219.9" font-size="17" fill="#000" font-weight="normal" font-style="normal" textLength="5.32" lengthAdjust="spacingAndGlyphs" transform="rotate(-90 719.8 219.9)">)</text>
<rect x="950.3" y="206.61" width="18.2" height="18.2" fill="#fbbf0a" stroke="#000" stroke-width="3.6"/>
<text x="1079.36" y="65.4" font-size="24" fill="#000" font-weight="bold" font-style="normal" textLength="260.85" lengthAdjust="spacingAndGlyphs" >D−Burning Edge vs. Y</text>
<text x="1073.4" y="472.5" font-size="18" fill="#000" font-weight="normal" font-style="normal" textLength="10.51" lengthAdjust="spacingAndGlyphs" >Y</text>
<text x="791.45" y="88.2" font-size="17" fill="#12ea12" font-weight="normal" font-style="normal" textLength="42.88" lengthAdjust="spacingAndGlyphs" >He22</text>
<text x="791.45" y="157.7" font-size="17" fill="#12ea12" font-weight="normal" font-style="normal" textLength="42.88" lengthAdjust="spacingAndGlyphs" >He22</text>
<text x="791.45" y="231.8" font-size="17" fill="#12ea12" font-weight="normal" font-style="normal" textLength="42.88" lengthAdjust="spacingAndGlyphs" >He22</text>
<text x="970.75" y="135.2" font-size="17" fill="#000000" font-weight="normal" font-style="normal" textLength="42.88" lengthAdjust="spacingAndGlyphs" >He25</text>
<text x="970.73" y="194.2" font-size="20.5" fill="#000000" font-weight="normal" font-style="normal" textLength="52.19" lengthAdjust="spacingAndGlyphs" >He25</text>
<text x="970.75" y="273.7" font-size="17" fill="#000000" font-weight="normal" font-style="normal" textLength="42.88" lengthAdjust="spacingAndGlyphs" >He25</text>
<text x="1142.94" y="192.6" font-size="17" fill="#229ee8" font-weight="normal" font-style="normal" textLength="42.88" lengthAdjust="spacingAndGlyphs" >He28</text>
<text x="1142.94" y="259.5" font-size="17" fill="#229ee8" font-weight="normal" font-style="normal" textLength="42.88" lengthAdjust="spacingAndGlyphs" >He28</text>
<text x="1142.94" y="324.3" font-size="17" fill="#229ee8" font-weight="normal" font-style="normal" textLength="42.88" lengthAdjust="spacingAndGlyphs" >He28</text>
<text x="1263.14" y="227.7" font-size="17" fill="#0000e0" font-weight="normal" font-style="normal" textLength="42.88" lengthAdjust="spacingAndGlyphs" >He30</text>
<text x="1263.14" y="293.8" font-size="17" fill="#0000e0" font-weight="normal" font-style="normal" textLength="42.88" lengthAdjust="spacingAndGlyphs" >He30</text>
<text x="1263.14" y="360.7" font-size="17" fill="#0000e0" font-weight="normal" font-style="normal" textLength="42.88" lengthAdjust="spacingAndGlyphs" >He30</text>
<text x="1327.94" y="258" font-size="17" fill="#8416dc" font-weight="normal" font-style="normal" textLength="42.88" lengthAdjust="spacingAndGlyphs" >He32</text>
<text x="1327.94" y="318.6" font-size="17" fill="#8416dc" font-weight="normal" font-style="normal" textLength="42.88" lengthAdjust="spacingAndGlyphs" >He32</text>
<text x="1327.94" y="380.2" font-size="17" fill="#8416dc" font-weight="normal" font-style="normal" textLength="42.88" lengthAdjust="spacingAndGlyphs" >He32</text>
<text x="1071" y="175" font-size="24" fill="#0000e0" text-anchor="middle" font-weight="bold" font-style="italic" transform="rotate(19 1071 175)">90%</text>
<text x="1071" y="240" font-size="24" fill="#12ea12" text-anchor="middle" font-weight="bold" font-style="italic" transform="rotate(19 1071 240)">50%</text>
<text x="1072" y="313" font-size="24" fill="#e80c10" text-anchor="middle" font-weight="bold" font-style="italic" transform="rotate(19 1072 313)">10%</text>
<path d="M788.7,915.8v-6M788.7,501.2v6M887.25,915.8v-6M887.25,501.2v6M985.8,915.8v-6M985.8,501.2v6M1084.35,915.8v-6M1084.35,501.2v6M1182.9,915.8v-6M1182.9,501.2v6M1281.45,915.8v-6M1281.45,501.2v6M1380,915.8v-6M1380,501.2v6M808.41,915.8v-3M808.41,501.2v3M828.12,915.8v-3M828.12,501.2v3M847.83,915.8v-3M847.83,501.2v3M867.54,915.8v-3M867.54,501.2v3M906.96,915.8v-3M906.96,501.2v3M926.67,915.8v-3M926.67,501.2v3M946.38,915.8v-3M946.38,501.2v3M966.09,915.8v-3M966.09,501.2v3M1005.51,915.8v-3M1005.51,501.2v3M1025.22,915.8v-3M1025.22,501.2v3M1044.93,915.8v-3M1044.93,501.2v3M1064.64,915.8v-3M1064.64,501.2v3M1104.06,915.8v-3M1104.06,501.2v3M1123.77,915.8v-3M1123.77,501.2v3M1143.48,915.8v-3M1143.48,501.2v3M1163.19,915.8v-3M1163.19,501.2v3M1202.61,915.8v-3M1202.61,501.2v3M1222.32,915.8v-3M1222.32,501.2v3M1242.03,915.8v-3M1242.03,501.2v3M1261.74,915.8v-3M1261.74,501.2v3M1301.16,915.8v-3M1301.16,501.2v3M1320.87,915.8v-3M1320.87,501.2v3M1340.58,915.8v-3M1340.58,501.2v3M1360.29,915.8v-3M1360.29,501.2v3M788.7,915.8h6M1380,915.8h-6M788.7,874.34h6M1380,874.34h-6M788.7,832.88h6M1380,832.88h-6M788.7,791.42h6M1380,791.42h-6M788.7,749.96h6M1380,749.96h-6M788.7,708.5h6M1380,708.5h-6M788.7,667.04h6M1380,667.04h-6M788.7,625.58h6M1380,625.58h-6M788.7,584.12h6M1380,584.12h-6M788.7,542.66h6M1380,542.66h-6M788.7,501.2h6M1380,501.2h-6M788.7,895.07h3M1380,895.07h-3M788.7,853.61h3M1380,853.61h-3M788.7,812.15h3M1380,812.15h-3M788.7,770.69h3M1380,770.69h-3M788.7,729.23h3M1380,729.23h-3M788.7,687.77h3M1380,687.77h-3M788.7,646.31h3M1380,646.31h-3M788.7,604.85h3M1380,604.85h-3M788.7,563.39h3M1380,563.39h-3M788.7,521.93h3M1380,521.93h-3" stroke="#000" stroke-width="1.44" fill="none"/>
<rect x="788.7" y="501.2" width="591.3" height="414.6" fill="none" stroke="#000" stroke-width="1.8" stroke-linejoin="miter"/>
<circle cx="788.7" cy="621.1" r="6.8" fill="none" stroke="#6e4428" stroke-width="3.4"/>
<rect x="783.1" y="683.58" width="11.2" height="11.2" fill="none" stroke="#6e4428" stroke-width="3.4"/>
<path d="M788.7,764.84L780.91,778.34L796.49,778.34Z" fill="none" stroke="#6e4428" stroke-width="3.4" stroke-linejoin="miter"/>
<circle cx="985.8" cy="637.69" r="6.8" fill="none" stroke="#000000" stroke-width="3.4"/>
<path d="M985.8,765.01L978.01,778.51L993.59,778.51Z" fill="none" stroke="#000000" stroke-width="3.4" stroke-linejoin="miter"/>
<circle cx="1380" cy="672.51" r="6.8" fill="none" stroke="#d27a45" stroke-width="3.4"/>
<rect x="1374.4" y="737.73" width="11.2" height="11.2" fill="none" stroke="#d27a45" stroke-width="3.4"/>
<path d="M1380,786.07L1372.21,799.57L1387.79,799.57Z" fill="none" stroke="#d27a45" stroke-width="3.4" stroke-linejoin="miter"/>
<polyline points="788.7,621.1 790.7,621.3 792.7,621.4 794.7,621.6 796.7,621.8 798.7,621.9 800.7,622.1 802.7,622.3 804.7,622.4 806.7,622.6 808.7,622.8 810.7,623.0 812.7,623.1 814.7,623.3 816.7,623.5 818.7,623.6 820.7,623.8 822.7,624.0 824.7,624.1 826.7,624.3 828.7,624.5 830.7,624.6 832.7,624.8 834.7,625.0 836.7,625.1 838.7,625.3 840.7,625.5 842.7,625.6 844.7,625.8 846.7,626.0 848.7,626.2 850.7,626.3 852.7,626.5 854.7,626.7 856.7,626.8 858.7,627.0 860.7,627.2 862.7,627.3 864.7,627.5 866.7,627.7 868.7,627.8 870.7,628.0 872.7,628.2 874.7,628.3 876.7,628.5 878.7,628.7 880.7,628.8 882.7,629.0 884.7,629.2 886.7,629.3 888.7,629.5 890.7,629.7 892.7,629.9 894.7,630.0 896.7,630.2 898.7,630.4 900.7,630.5 902.7,630.7 904.7,630.9 906.7,631.0 908.7,631.2 910.7,631.4 912.7,631.5 914.7,631.7 916.7,631.9 918.7,632.0 920.7,632.2 922.7,632.4 924.7,632.5 926.7,632.7 928.7,632.9 930.7,633.1 932.7,633.2 934.7,633.4 936.7,633.6 938.7,633.7 940.7,633.9 942.7,634.1 944.7,634.2 946.7,634.4 948.7,634.6 950.7,634.7 952.7,634.9 954.7,635.1 956.7,635.2 958.7,635.4 960.7,635.6 962.7,635.8 964.7,635.9 966.7,636.1 968.7,636.3 970.7,636.4 972.7,636.6 974.7,636.8 976.7,636.9 978.7,637.1 980.7,637.3 982.7,637.5 984.7,637.6 986.7,637.8 988.7,638.0 990.7,638.2 992.7,638.3 994.7,638.5 996.7,638.7 998.7,638.8 1000.7,639.0 1002.7,639.2 1004.7,639.4 1006.7,639.5 1008.7,639.7 1010.7,639.9 1012.7,640.1 1014.7,640.2 1016.7,640.4 1018.7,640.6 1020.7,640.8 1022.7,640.9 1024.7,641.1 1026.7,641.3 1028.7,641.5 1030.7,641.7 1032.7,641.8 1034.7,642.0 1036.7,642.2 1038.7,642.4 1040.7,642.5 1042.7,642.7 1044.7,642.9 1046.7,643.1 1048.7,643.2 1050.7,643.4 1052.7,643.6 1054.7,643.8 1056.7,644.0 1058.7,644.1 1060.7,644.3 1062.7,644.5 1064.7,644.7 1066.7,644.8 1068.7,645.0 1070.7,645.2 1072.7,645.4 1074.7,645.5 1076.7,645.7 1078.7,645.9 1080.7,646.1 1082.7,646.2 1084.7,646.4 1086.7,646.6 1088.7,646.8 1090.7,647.0 1092.7,647.1 1094.7,647.3 1096.7,647.5 1098.7,647.7 1100.7,647.8 1102.7,648.0 1104.7,648.2 1106.7,648.4 1108.7,648.5 1110.7,648.7 1112.7,648.9 1114.7,649.1 1116.7,649.3 1118.7,649.4 1120.7,649.6 1122.7,649.8 1124.7,650.0 1126.7,650.1 1128.7,650.3 1130.7,650.5 1132.7,650.7 1134.7,650.8 1136.7,651.0 1138.7,651.2 1140.7,651.4 1142.7,651.5 1144.7,651.7 1146.7,651.9 1148.7,652.1 1150.7,652.3 1152.7,652.4 1154.7,652.6 1156.7,652.8 1158.7,653.0 1160.7,653.1 1162.7,653.3 1164.7,653.5 1166.7,653.7 1168.7,653.8 1170.7,654.0 1172.7,654.2 1174.7,654.4 1176.7,654.6 1178.7,654.7 1180.7,654.9 1182.7,655.1 1184.7,655.3 1186.7,655.4 1188.7,655.6 1190.7,655.8 1192.7,656.0 1194.7,656.1 1196.7,656.3 1198.7,656.5 1200.7,656.7 1202.7,656.8 1204.7,657.0 1206.7,657.2 1208.7,657.4 1210.7,657.6 1212.7,657.7 1214.7,657.9 1216.7,658.1 1218.7,658.3 1220.7,658.4 1222.7,658.6 1224.7,658.8 1226.7,659.0 1228.7,659.1 1230.7,659.3 1232.7,659.5 1234.7,659.7 1236.7,659.9 1238.7,660.0 1240.7,660.2 1242.7,660.4 1244.7,660.6 1246.7,660.7 1248.7,660.9 1250.7,661.1 1252.7,661.3 1254.7,661.4 1256.7,661.6 1258.7,661.8 1260.7,662.0 1262.7,662.1 1264.7,662.3 1266.7,662.5 1268.7,662.7 1270.7,662.9 1272.7,663.0 1274.7,663.2 1276.7,663.4 1278.7,663.6 1280.7,663.7 1282.7,663.9 1284.7,664.1 1286.7,664.3 1288.7,664.4 1290.7,664.6 1292.7,664.8 1294.7,665.0 1296.7,665.2 1298.7,665.3 1300.7,665.5 1302.7,665.7 1304.7,665.9 1306.7,666.0 1308.7,666.2 1310.7,666.4 1312.7,666.6 1314.7,666.7 1316.7,666.9 1318.7,667.1 1320.7,667.3 1322.7,667.5 1324.7,667.6 1326.7,667.8 1328.7,668.0 1330.7,668.2 1332.7,668.3 1334.7,668.5 1336.7,668.7 1338.7,668.9 1340.7,669.0 1342.7,669.2 1344.7,669.4 1346.7,669.6 1348.7,669.7 1350.7,669.9 1352.7,670.1 1354.7,670.3 1356.7,670.5 1358.7,670.6 1360.7,670.8 1362.7,671.0 1364.7,671.2 1366.7,671.3 1368.7,671.5 1370.7,671.7 1372.7,671.9 1374.7,672.0 1376.7,672.2 1378.7,672.4 1379.7,672.5" fill="none" stroke="#0000e0" stroke-width="3.5" stroke-linejoin="round" stroke-linecap="round" />
<polyline points="788.7,689.2 790.7,689.3 792.7,689.5 794.7,689.6 796.7,689.8 798.7,689.9 800.7,690.1 802.7,690.2 804.7,690.4 806.7,690.5 808.7,690.7 810.7,690.8 812.7,691.0 814.7,691.1 816.7,691.3 818.7,691.4 820.7,691.5 822.7,691.7 824.7,691.8 826.7,692.0 828.7,692.1 830.7,692.3 832.7,692.4 834.7,692.6 836.7,692.7 838.7,692.9 840.7,693.0 842.7,693.2 844.7,693.3 846.7,693.5 848.7,693.6 850.7,693.8 852.7,693.9 854.7,694.1 856.7,694.2 858.7,694.4 860.7,694.5 862.7,694.7 864.7,694.8 866.7,695.0 868.7,695.1 870.7,695.3 872.7,695.4 874.7,695.5 876.7,695.7 878.7,695.8 880.7,696.0 882.7,696.1 884.7,696.3 886.7,696.4 888.7,696.6 890.7,696.7 892.7,696.9 894.7,697.0 896.7,697.2 898.7,697.3 900.7,697.5 902.7,697.6 904.7,697.8 906.7,697.9 908.7,698.1 910.7,698.2 912.7,698.4 914.7,698.5 916.7,698.7 918.7,698.8 920.7,699.0 922.7,699.1 924.7,699.3 926.7,699.4 928.7,699.5 930.7,699.7 932.7,699.8 934.7,700.0 936.7,700.1 938.7,700.3 940.7,700.4 942.7,700.6 944.7,700.7 946.7,700.9 948.7,701.0 950.7,701.2 952.7,701.4 954.7,701.5 956.7,701.7 958.7,701.8 960.7,702.0 962.7,702.1 964.7,702.3 966.7,702.4 968.7,702.6 970.7,702.8 972.7,702.9 974.7,703.1 976.7,703.3 978.7,703.4 980.7,703.6 982.7,703.8 984.7,703.9 986.7,704.1 988.7,704.3 990.7,704.5 992.7,704.6 994.7,704.8 996.7,705.0 998.7,705.2 1000.7,705.4 1002.7,705.6 1004.7,705.8 1006.7,705.9 1008.7,706.1 1010.7,706.3 1012.7,706.5 1014.7,706.7 1016.7,706.9 1018.7,707.1 1020.7,707.3 1022.7,707.5 1024.7,707.7 1026.7,707.9 1028.7,708.1 1030.7,708.3 1032.7,708.5 1034.7,708.7 1036.7,708.9 1038.7,709.1 1040.7,709.3 1042.7,709.5 1044.7,709.7 1046.7,709.9 1048.7,710.1 1050.7,710.3 1052.7,710.5 1054.7,710.7 1056.7,710.9 1058.7,711.1 1060.7,711.3 1062.7,711.5 1064.7,711.7 1066.7,711.9 1068.7,712.1 1070.7,712.3 1072.7,712.5 1074.7,712.7 1076.7,712.9 1078.7,713.1 1080.7,713.3 1082.7,713.5 1084.7,713.7 1086.7,713.9 1088.7,714.1 1090.7,714.3 1092.7,714.5 1094.7,714.7 1096.7,714.9 1098.7,715.1 1100.7,715.3 1102.7,715.5 1104.7,715.7 1106.7,715.9 1108.7,716.1 1110.7,716.3 1112.7,716.5 1114.7,716.7 1116.7,716.9 1118.7,717.1 1120.7,717.3 1122.7,717.5 1124.7,717.7 1126.7,717.9 1128.7,718.1 1130.7,718.3 1132.7,718.5 1134.7,718.7 1136.7,718.9 1138.7,719.1 1140.7,719.3 1142.7,719.5 1144.7,719.7 1146.7,719.9 1148.7,720.1 1150.7,720.3 1152.7,720.5 1154.7,720.7 1156.7,720.9 1158.7,721.1 1160.7,721.3 1162.7,721.5 1164.7,721.7 1166.7,721.9 1168.7,722.1 1170.7,722.3 1172.7,722.5 1174.7,722.7 1176.7,722.9 1178.7,723.1 1180.7,723.3 1182.7,723.5 1184.7,723.7 1186.7,723.9 1188.7,724.1 1190.7,724.3 1192.7,724.5 1194.7,724.7 1196.7,724.9 1198.7,725.1 1200.7,725.3 1202.7,725.5 1204.7,725.7 1206.7,725.9 1208.7,726.1 1210.7,726.3 1212.7,726.5 1214.7,726.7 1216.7,726.9 1218.7,727.1 1220.7,727.3 1222.7,727.5 1224.7,727.7 1226.7,727.9 1228.7,728.1 1230.7,728.3 1232.7,728.5 1234.7,728.7 1236.7,728.9 1238.7,729.1 1240.7,729.3 1242.7,729.6 1244.7,729.8 1246.7,730.0 1248.7,730.2 1250.7,730.4 1252.7,730.6 1254.7,730.8 1256.7,731.0 1258.7,731.2 1260.7,731.4 1262.7,731.6 1264.7,731.8 1266.7,732.0 1268.7,732.2 1270.7,732.4 1272.7,732.6 1274.7,732.8 1276.7,733.0 1278.7,733.2 1280.7,733.4 1282.7,733.6 1284.7,733.8 1286.7,734.0 1288.7,734.2 1290.7,734.4 1292.7,734.6 1294.7,734.8 1296.7,735.0 1298.7,735.2 1300.7,735.4 1302.7,735.6 1304.7,735.8 1306.7,736.0 1308.7,736.2 1310.7,736.4 1312.7,736.6 1314.7,736.8 1316.7,737.0 1318.7,737.2 1320.7,737.4 1322.7,737.6 1324.7,737.8 1326.7,738.0 1328.7,738.2 1330.7,738.4 1332.7,738.6 1334.7,738.8 1336.7,739.0 1338.7,739.2 1340.7,739.4 1342.7,739.6 1344.7,739.8 1346.7,740.0 1348.7,740.2 1350.7,740.4 1352.7,740.6 1354.7,740.8 1356.7,741.0 1358.7,741.2 1360.7,741.4 1362.7,741.6 1364.7,741.8 1366.7,742.0 1368.7,742.2 1370.7,742.4 1372.7,742.6 1374.7,742.8 1376.7,743.0 1378.7,743.2 1379.7,743.3" fill="none" stroke="#12ea12" stroke-width="3.5" stroke-linejoin="round" stroke-linecap="round" />
<polyline points="788.7,773.8 790.7,773.8 792.7,773.8 794.7,773.8 796.7,773.8 798.7,773.8 800.7,773.9 802.7,773.9 804.7,773.9 806.7,773.9 808.7,773.9 810.7,773.9 812.7,773.9 814.7,773.9 816.7,773.9 818.7,773.9 820.7,773.9 822.7,773.9 824.7,773.9 826.7,773.9 828.7,773.9 830.7,773.9 832.7,773.9 834.7,773.9 836.7,773.9 838.7,773.9 840.7,773.9 842.7,773.9 844.7,773.9 846.7,773.9 848.7,773.9 850.7,773.9 852.7,773.9 854.7,773.9 856.7,773.9 858.7,773.9 860.7,773.9 862.7,773.9 864.7,773.9 866.7,773.9 868.7,773.9 870.7,773.9 872.7,773.9 874.7,773.9 876.7,773.9 878.7,773.9 880.7,773.9 882.7,773.9 884.7,773.9 886.7,773.9 888.7,773.9 890.7,773.9 892.7,773.9 894.7,773.9 896.7,773.9 898.7,773.9 900.7,773.9 902.7,773.9 904.7,773.9 906.7,773.9 908.7,773.9 910.7,773.9 912.7,773.9 914.7,773.9 916.7,773.9 918.7,774.0 920.7,774.0 922.7,774.0 924.7,774.0 926.7,774.0 928.7,774.0 930.7,774.0 932.7,774.0 934.7,774.0 936.7,774.0 938.7,774.0 940.7,774.0 942.7,774.0 944.7,774.0 946.7,774.0 948.7,774.0 950.7,774.0 952.7,774.0 954.7,774.0 956.7,774.1 958.7,774.1 960.7,774.1 962.7,774.1 964.7,774.1 966.7,774.2 968.7,774.2 970.7,774.2 972.7,774.2 974.7,774.3 976.7,774.3 978.7,774.4 980.7,774.4 982.7,774.5 984.7,774.5 986.7,774.6 988.7,774.6 990.7,774.7 992.7,774.7 994.7,774.8 996.7,774.9 998.7,774.9 1000.7,775.0 1002.7,775.1 1004.7,775.2 1006.7,775.3 1008.7,775.4 1010.7,775.4 1012.7,775.5 1014.7,775.6 1016.7,775.7 1018.7,775.8 1020.7,775.9 1022.7,776.0 1024.7,776.1 1026.7,776.2 1028.7,776.3 1030.7,776.4 1032.7,776.5 1034.7,776.6 1036.7,776.7 1038.7,776.8 1040.7,776.9 1042.7,777.1 1044.7,777.2 1046.7,777.3 1048.7,777.4 1050.7,777.5 1052.7,777.6 1054.7,777.7 1056.7,777.8 1058.7,777.9 1060.7,778.0 1062.7,778.1 1064.7,778.2 1066.7,778.3 1068.7,778.4 1070.7,778.5 1072.7,778.6 1074.7,778.8 1076.7,778.9 1078.7,779.0 1080.7,779.1 1082.7,779.2 1084.7,779.3 1086.7,779.4 1088.7,779.5 1090.7,779.6 1092.7,779.7 1094.7,779.8 1096.7,779.9 1098.7,780.0 1100.7,780.1 1102.7,780.3 1104.7,780.4 1106.7,780.5 1108.7,780.6 1110.7,780.7 1112.7,780.8 1114.7,780.9 1116.7,781.0 1118.7,781.1 1120.7,781.2 1122.7,781.3 1124.7,781.4 1126.7,781.5 1128.7,781.6 1130.7,781.7 1132.7,781.9 1134.7,782.0 1136.7,782.1 1138.7,782.2 1140.7,782.3 1142.7,782.4 1144.7,782.5 1146.7,782.6 1148.7,782.7 1150.7,782.8 1152.7,782.9 1154.7,783.0 1156.7,783.1 1158.7,783.2 1160.7,783.4 1162.7,783.5 1164.7,783.6 1166.7,783.7 1168.7,783.8 1170.7,783.9 1172.7,784.0 1174.7,784.1 1176.7,784.2 1178.7,784.3 1180.7,784.4 1182.7,784.5 1184.7,784.6 1186.7,784.7 1188.7,784.8 1190.7,785.0 1192.7,785.1 1194.7,785.2 1196.7,785.3 1198.7,785.4 1200.7,785.5 1202.7,785.6 1204.7,785.7 1206.7,785.8 1208.7,785.9 1210.7,786.0 1212.7,786.1 1214.7,786.2 1216.7,786.3 1218.7,786.5 1220.7,786.6 1222.7,786.7 1224.7,786.8 1226.7,786.9 1228.7,787.0 1230.7,787.1 1232.7,787.2 1234.7,787.3 1236.7,787.4 1238.7,787.5 1240.7,787.6 1242.7,787.7 1244.7,787.8 1246.7,787.9 1248.7,788.1 1250.7,788.2 1252.7,788.3 1254.7,788.4 1256.7,788.5 1258.7,788.6 1260.7,788.7 1262.7,788.8 1264.7,788.9 1266.7,789.0 1268.7,789.1 1270.7,789.2 1272.7,789.3 1274.7,789.4 1276.7,789.5 1278.7,789.7 1280.7,789.8 1282.7,789.9 1284.7,790.0 1286.7,790.1 1288.7,790.2 1290.7,790.3 1292.7,790.4 1294.7,790.5 1296.7,790.6 1298.7,790.7 1300.7,790.8 1302.7,790.9 1304.7,791.0 1306.7,791.2 1308.7,791.3 1310.7,791.4 1312.7,791.5 1314.7,791.6 1316.7,791.7 1318.7,791.8 1320.7,791.9 1322.7,792.0 1324.7,792.1 1326.7,792.2 1328.7,792.3 1330.7,792.4 1332.7,792.5 1334.7,792.6 1336.7,792.8 1338.7,792.9 1340.7,793.0 1342.7,793.1 1344.7,793.2 1346.7,793.3 1348.7,793.4 1350.7,793.5 1352.7,793.6 1354.7,793.7 1356.7,793.8 1358.7,793.9 1360.7,794.0 1362.7,794.1 1364.7,794.3 1366.7,794.4 1368.7,794.5 1370.7,794.6 1372.7,794.7 1374.7,794.8 1376.7,794.9 1378.7,795.0 1379.7,795.1" fill="none" stroke="#e80c10" stroke-width="3.5" stroke-linejoin="round" stroke-linecap="round" />
<text x="788.7" y="937.8" font-size="16" fill="#000" text-anchor="middle" font-weight="normal" font-style="normal" >1</text>
<text x="887.25" y="937.8" font-size="16" fill="#000" text-anchor="middle" font-weight="normal" font-style="normal" >1.5</text>
<text x="985.8" y="937.8" font-size="16" fill="#000" text-anchor="middle" font-weight="normal" font-style="normal" >2</text>
<text x="1084.35" y="937.8" font-size="16" fill="#000" text-anchor="middle" font-weight="normal" font-style="normal" >2.5</text>
<text x="1182.9" y="937.8" font-size="16" fill="#000" text-anchor="middle" font-weight="normal" font-style="normal" >3</text>
<text x="1281.45" y="937.8" font-size="16" fill="#000" text-anchor="middle" font-weight="normal" font-style="normal" >3.5</text>
<text x="1380" y="937.8" font-size="16" fill="#000" text-anchor="middle" font-weight="normal" font-style="normal" >4</text>
<text x="783" y="922.6" font-size="16" fill="#000" text-anchor="end" font-weight="normal" font-style="normal" >11</text>
<text x="783" y="881.14" font-size="16" fill="#000" text-anchor="end" font-weight="normal" font-style="normal" >11.5</text>
<text x="783" y="839.68" font-size="16" fill="#000" text-anchor="end" font-weight="normal" font-style="normal" >12</text>
<text x="783" y="798.22" font-size="16" fill="#000" text-anchor="end" font-weight="normal" font-style="normal" >12.5</text>
<text x="783" y="756.76" font-size="16" fill="#000" text-anchor="end" font-weight="normal" font-style="normal" >13</text>
<text x="783" y="715.3" font-size="16" fill="#000" text-anchor="end" font-weight="normal" font-style="normal" >13.5</text>
<text x="783" y="673.84" font-size="16" fill="#000" text-anchor="end" font-weight="normal" font-style="normal" >14</text>
<text x="783" y="632.38" font-size="16" fill="#000" text-anchor="end" font-weight="normal" font-style="normal" >14.5</text>
<text x="783" y="590.92" font-size="16" fill="#000" text-anchor="end" font-weight="normal" font-style="normal" >15</text>
<text x="783" y="549.46" font-size="16" fill="#000" text-anchor="end" font-weight="normal" font-style="normal" >15.5</text>
<text x="783" y="508" font-size="16" fill="#000" text-anchor="end" font-weight="normal" font-style="normal" >16</text>
<text x="702.48" y="708.5" font-size="17" fill="#000" font-weight="normal" font-style="normal" textLength="39.4" lengthAdjust="spacingAndGlyphs" transform="rotate(-90 728.8 708.5)">M (M</text>
<text x="741.9" y="716.8" font-size="13.5" fill="#000" font-weight="normal" font-style="normal" textLength="6.53" lengthAdjust="spacingAndGlyphs" transform="rotate(-90 728.8 708.5)">J</text>
<text x="749.5" y="708.5" font-size="17" fill="#000" font-weight="normal" font-style="normal" textLength="5.32" lengthAdjust="spacingAndGlyphs" transform="rotate(-90 728.8 708.5)">)</text>
<rect x="976.7" y="694.67" width="18.2" height="18.2" fill="#fbbf0a" stroke="#000" stroke-width="3.4"/>
<text x="986.16" y="544.8" font-size="23.6" fill="#000" font-weight="bold" font-style="normal" textLength="255.47" lengthAdjust="spacingAndGlyphs" >D−Burning Edge vs. y</text>
<text x="1241.74" y="557.7" font-size="19.5" fill="#000" font-weight="bold" font-style="normal" textLength="23.96" lengthAdjust="spacingAndGlyphs" >D,i</text>
<text x="1030.6" y="955.3" font-size="17" fill="#000" font-weight="normal" font-style="normal" textLength="53.1" lengthAdjust="spacingAndGlyphs" >Initial y</text>
<text x="1085.03" y="964.4" font-size="13.5" fill="#000" font-weight="normal" font-style="normal" textLength="15.97" lengthAdjust="spacingAndGlyphs" >D,i</text>
<text x="1100.25" y="957.4" font-size="20.5" fill="#000" font-weight="normal" font-style="normal" textLength="11.37" lengthAdjust="spacingAndGlyphs" >×</text>
<text x="1111.17" y="955.3" font-size="17" fill="#000" font-weight="normal" font-style="normal" textLength="17.66" lengthAdjust="spacingAndGlyphs" >10</text>
<text x="1130.7" y="947.2" font-size="13" fill="#000" font-weight="normal" font-style="normal" textLength="7.23" lengthAdjust="spacingAndGlyphs" >5</text>
<text x="800.71" y="614.3" font-size="17.5" fill="#6e4428" font-weight="normal" font-style="normal" textLength="19.84" lengthAdjust="spacingAndGlyphs" >D1</text>
<text x="800.71" y="681.6" font-size="17.5" fill="#6e4428" font-weight="normal" font-style="normal" textLength="19.84" lengthAdjust="spacingAndGlyphs" >D1</text>
<text x="800.71" y="767.5" font-size="17.5" fill="#6e4428" font-weight="normal" font-style="normal" textLength="19.84" lengthAdjust="spacingAndGlyphs" >D1</text>
<text x="997.9" y="630.4" font-size="17.5" fill="#000000" font-weight="normal" font-style="normal" textLength="22.33" lengthAdjust="spacingAndGlyphs" >D2</text>
<text x="997.9" y="768.1" font-size="17.5" fill="#000000" font-weight="normal" font-style="normal" textLength="22.33" lengthAdjust="spacingAndGlyphs" >D2</text>
<text x="998" y="691.3" font-size="20.5" fill="#000000" font-weight="normal" font-style="normal" textLength="26.31" lengthAdjust="spacingAndGlyphs" >D2</text>
<text x="1351.33" y="663.5" font-size="17.5" fill="#d27a45" font-weight="normal" font-style="normal" textLength="21.61" lengthAdjust="spacingAndGlyphs" >D4</text>
<text x="1351.33" y="733.8" font-size="17.5" fill="#d27a45" font-weight="normal" font-style="normal" textLength="21.61" lengthAdjust="spacingAndGlyphs" >D4</text>
<text x="1351.33" y="786.1" font-size="17.5" fill="#d27a45" font-weight="normal" font-style="normal" textLength="21.61" lengthAdjust="spacingAndGlyphs" >D4</text>
<text x="1163.8" y="644.8" font-size="23.7" fill="#0000e0" text-anchor="start" font-weight="bold" font-style="normal" >90%</text>
<text x="1163.8" y="716" font-size="23.7" fill="#12ea12" text-anchor="start" font-weight="bold" font-style="normal" >50%</text>
<text x="1163.8" y="779.8" font-size="23.7" fill="#e80c10" text-anchor="start" font-weight="bold" font-style="normal" >10%</text>
<path d="M788.7,1406.5v-6M788.7,992v6M1084.4,1406.5v-6M1084.4,992v6M1380.1,1406.5v-6M1380.1,992v6M788.7,1406.5h6M1380.1,1406.5h-6M788.7,1365.05h6M1380.1,1365.05h-6M788.7,1323.6h6M1380.1,1323.6h-6M788.7,1282.15h6M1380.1,1282.15h-6M788.7,1240.7h6M1380.1,1240.7h-6M788.7,1199.25h6M1380.1,1199.25h-6M788.7,1157.8h6M1380.1,1157.8h-6M788.7,1116.35h6M1380.1,1116.35h-6M788.7,1074.9h6M1380.1,1074.9h-6M788.7,1033.45h6M1380.1,1033.45h-6M788.7,992h6M1380.1,992h-6M788.7,1385.78h3M1380.1,1385.78h-3M788.7,1344.33h3M1380.1,1344.33h-3M788.7,1302.88h3M1380.1,1302.88h-3M788.7,1261.42h3M1380.1,1261.42h-3M788.7,1219.97h3M1380.1,1219.97h-3M788.7,1178.53h3M1380.1,1178.53h-3M788.7,1137.08h3M1380.1,1137.08h-3M788.7,1095.62h3M1380.1,1095.62h-3M788.7,1054.17h3M1380.1,1054.17h-3M788.7,1012.73h3M1380.1,1012.73h-3" stroke="#000" stroke-width="1.44" fill="none"/>
<rect x="788.7" y="992" width="591.4" height="414.5" fill="none" stroke="#000" stroke-width="1.8" stroke-linejoin="miter"/>
<circle cx="788.7" cy="1042.49" r="6.8" fill="none" stroke="#a040e8" stroke-width="3.4"/>
<rect x="783.1" y="1105.2" width="11.2" height="11.2" fill="none" stroke="#a040e8" stroke-width="3.4"/>
<path d="M788.7,1183.12L780.91,1196.62L796.49,1196.62Z" fill="none" stroke="#a040e8" stroke-width="3.4" stroke-linejoin="miter"/>
<circle cx="1084.4" cy="1103.91" r="6.8" fill="none" stroke="#6e6ee6" stroke-width="3.4"/>
<rect x="1078.8" y="1167.54" width="11.2" height="11.2" fill="none" stroke="#6e6ee6" stroke-width="3.4"/>
<path d="M1084.4,1238.33L1076.61,1251.83L1092.19,1251.83Z" fill="none" stroke="#6e6ee6" stroke-width="3.4" stroke-linejoin="miter"/>
<circle cx="1232.25" cy="1145.61" r="6.8" fill="none" stroke="#229ee8" stroke-width="3.4"/>
<rect x="1226.65" y="1207.58" width="11.2" height="11.2" fill="none" stroke="#229ee8" stroke-width="3.4"/>
<path d="M1232.25,1274.89L1224.46,1288.39L1240.04,1288.39Z" fill="none" stroke="#229ee8" stroke-width="3.4" stroke-linejoin="miter"/>
<circle cx="1380.1" cy="1194.61" r="6.8" fill="none" stroke="#6e6e6e" stroke-width="3.4"/>
<rect x="1374.5" y="1252.92" width="11.2" height="11.2" fill="none" stroke="#6e6e6e" stroke-width="3.4"/>
<path d="M1380.1,1313.52L1372.31,1327.02L1387.89,1327.02Z" fill="none" stroke="#6e6e6e" stroke-width="3.4" stroke-linejoin="miter"/>
<polyline points="788.7,1042.5 791.7,1043.0 794.6,1043.6 797.6,1044.1 800.6,1044.7 803.6,1045.3 806.5,1045.8 809.5,1046.4 812.5,1046.9 815.4,1047.5 818.4,1048.0 821.4,1048.6 824.4,1049.1 827.3,1049.7 830.3,1050.3 833.3,1050.8 836.2,1051.4 839.2,1051.9 842.2,1052.5 845.2,1053.0 848.1,1053.6 851.1,1054.2 854.1,1054.7 857.1,1055.3 860.0,1055.9 863.0,1056.4 866.0,1057.0 868.9,1057.6 871.9,1058.1 874.9,1058.7 877.9,1059.3 880.8,1059.8 883.8,1060.4 886.8,1061.0 889.7,1061.6 892.7,1062.1 895.7,1062.7 898.7,1063.3 901.6,1063.9 904.6,1064.4 907.6,1065.0 910.5,1065.6 913.5,1066.2 916.5,1066.8 919.5,1067.4 922.4,1068.0 925.4,1068.6 928.4,1069.2 931.3,1069.8 934.3,1070.4 937.3,1071.0 940.3,1071.6 943.2,1072.2 946.2,1072.8 949.2,1073.4 952.2,1074.0 955.1,1074.6 958.1,1075.2 961.1,1075.8 964.0,1076.5 967.0,1077.1 970.0,1077.7 973.0,1078.3 975.9,1079.0 978.9,1079.6 981.9,1080.2 984.8,1080.9 987.8,1081.5 990.8,1082.1 993.8,1082.8 996.7,1083.4 999.7,1084.1 1002.7,1084.7 1005.6,1085.4 1008.6,1086.1 1011.6,1086.7 1014.6,1087.4 1017.5,1088.0 1020.5,1088.7 1023.5,1089.4 1026.4,1090.1 1029.4,1090.7 1032.4,1091.4 1035.4,1092.1 1038.3,1092.8 1041.3,1093.5 1044.3,1094.2 1047.3,1094.9 1050.2,1095.6 1053.2,1096.3 1056.2,1097.0 1059.1,1097.7 1062.1,1098.4 1065.1,1099.1 1068.1,1099.9 1071.0,1100.6 1074.0,1101.3 1077.0,1102.1 1079.9,1102.8 1082.9,1103.5 1085.9,1104.3 1088.9,1105.0 1091.8,1105.8 1094.8,1106.5 1097.8,1107.3 1100.7,1108.1 1103.7,1108.8 1106.7,1109.6 1109.7,1110.4 1112.6,1111.2 1115.6,1112.0 1118.6,1112.7 1121.5,1113.5 1124.5,1114.3 1127.5,1115.1 1130.5,1115.9 1133.4,1116.7 1136.4,1117.5 1139.4,1118.4 1142.4,1119.2 1145.3,1120.0 1148.3,1120.8 1151.3,1121.7 1154.2,1122.5 1157.2,1123.3 1160.2,1124.2 1163.2,1125.0 1166.1,1125.8 1169.1,1126.7 1172.1,1127.6 1175.0,1128.4 1178.0,1129.3 1181.0,1130.1 1184.0,1131.0 1186.9,1131.9 1189.9,1132.8 1192.9,1133.6 1195.8,1134.5 1198.8,1135.4 1201.8,1136.3 1204.8,1137.2 1207.7,1138.1 1210.7,1139.0 1213.7,1139.9 1216.6,1140.8 1219.6,1141.7 1222.6,1142.6 1225.6,1143.5 1228.5,1144.5 1231.5,1145.4 1234.5,1146.3 1237.5,1147.2 1240.4,1148.2 1243.4,1149.1 1246.4,1150.1 1249.3,1151.0 1252.3,1151.9 1255.3,1152.9 1258.3,1153.9 1261.2,1154.8 1264.2,1155.8 1267.2,1156.7 1270.1,1157.7 1273.1,1158.7 1276.1,1159.6 1279.1,1160.6 1282.0,1161.6 1285.0,1162.6 1288.0,1163.5 1290.9,1164.5 1293.9,1165.5 1296.9,1166.5 1299.9,1167.5 1302.8,1168.5 1305.8,1169.5 1308.8,1170.4 1311.7,1171.4 1314.7,1172.4 1317.7,1173.4 1320.7,1174.4 1323.6,1175.4 1326.6,1176.4 1329.6,1177.4 1332.6,1178.4 1335.5,1179.4 1338.5,1180.5 1341.5,1181.5 1344.4,1182.5 1347.4,1183.5 1350.4,1184.5 1353.4,1185.5 1356.3,1186.5 1359.3,1187.5 1362.3,1188.5 1365.2,1189.5 1368.2,1190.6 1371.2,1191.6 1374.2,1192.6 1377.1,1193.6 1380.1,1194.6" fill="none" stroke="#0000e0" stroke-width="3.5" stroke-linejoin="round" stroke-linecap="round" />
<polyline points="788.7,1110.8 791.7,1111.4 794.6,1111.9 797.6,1112.5 800.6,1113.1 803.6,1113.7 806.5,1114.2 809.5,1114.8 812.5,1115.4 815.4,1116.0 818.4,1116.5 821.4,1117.1 824.4,1117.7 827.3,1118.3 830.3,1118.8 833.3,1119.4 836.2,1120.0 839.2,1120.6 842.2,1121.2 845.2,1121.7 848.1,1122.3 851.1,1122.9 854.1,1123.5 857.1,1124.1 860.0,1124.6 863.0,1125.2 866.0,1125.8 868.9,1126.4 871.9,1127.0 874.9,1127.6 877.9,1128.2 880.8,1128.7 883.8,1129.3 886.8,1129.9 889.7,1130.5 892.7,1131.1 895.7,1131.7 898.7,1132.3 901.6,1132.9 904.6,1133.5 907.6,1134.1 910.5,1134.7 913.5,1135.3 916.5,1135.9 919.5,1136.5 922.4,1137.1 925.4,1137.7 928.4,1138.3 931.3,1138.9 934.3,1139.5 937.3,1140.2 940.3,1140.8 943.2,1141.4 946.2,1142.0 949.2,1142.6 952.2,1143.2 955.1,1143.9 958.1,1144.5 961.1,1145.1 964.0,1145.7 967.0,1146.4 970.0,1147.0 973.0,1147.6 975.9,1148.3 978.9,1148.9 981.9,1149.6 984.8,1150.2 987.8,1150.8 990.8,1151.5 993.8,1152.1 996.7,1152.8 999.7,1153.4 1002.7,1154.1 1005.6,1154.8 1008.6,1155.4 1011.6,1156.1 1014.6,1156.7 1017.5,1157.4 1020.5,1158.1 1023.5,1158.8 1026.4,1159.4 1029.4,1160.1 1032.4,1160.8 1035.4,1161.5 1038.3,1162.2 1041.3,1162.8 1044.3,1163.5 1047.3,1164.2 1050.2,1164.9 1053.2,1165.6 1056.2,1166.3 1059.1,1167.0 1062.1,1167.7 1065.1,1168.4 1068.1,1169.2 1071.0,1169.9 1074.0,1170.6 1077.0,1171.3 1079.9,1172.0 1082.9,1172.8 1085.9,1173.5 1088.9,1174.2 1091.8,1175.0 1094.8,1175.7 1097.8,1176.5 1100.7,1177.2 1103.7,1178.0 1106.7,1178.7 1109.7,1179.5 1112.6,1180.2 1115.6,1181.0 1118.6,1181.8 1121.5,1182.5 1124.5,1183.3 1127.5,1184.1 1130.5,1184.9 1133.4,1185.6 1136.4,1186.4 1139.4,1187.2 1142.4,1188.0 1145.3,1188.8 1148.3,1189.6 1151.3,1190.4 1154.2,1191.2 1157.2,1192.0 1160.2,1192.8 1163.2,1193.6 1166.1,1194.4 1169.1,1195.2 1172.1,1196.0 1175.0,1196.9 1178.0,1197.7 1181.0,1198.5 1184.0,1199.3 1186.9,1200.2 1189.9,1201.0 1192.9,1201.9 1195.8,1202.7 1198.8,1203.5 1201.8,1204.4 1204.8,1205.2 1207.7,1206.1 1210.7,1206.9 1213.7,1207.8 1216.6,1208.6 1219.6,1209.5 1222.6,1210.4 1225.6,1211.2 1228.5,1212.1 1231.5,1213.0 1234.5,1213.8 1237.5,1214.7 1240.4,1215.6 1243.4,1216.5 1246.4,1217.3 1249.3,1218.2 1252.3,1219.1 1255.3,1220.0 1258.3,1220.9 1261.2,1221.8 1264.2,1222.7 1267.2,1223.6 1270.1,1224.5 1273.1,1225.4 1276.1,1226.3 1279.1,1227.2 1282.0,1228.1 1285.0,1229.0 1288.0,1229.9 1290.9,1230.8 1293.9,1231.7 1296.9,1232.6 1299.9,1233.5 1302.8,1234.4 1305.8,1235.4 1308.8,1236.3 1311.7,1237.2 1314.7,1238.1 1317.7,1239.0 1320.7,1240.0 1323.6,1240.9 1326.6,1241.8 1329.6,1242.7 1332.6,1243.7 1335.5,1244.6 1338.5,1245.5 1341.5,1246.4 1344.4,1247.4 1347.4,1248.3 1350.4,1249.2 1353.4,1250.1 1356.3,1251.1 1359.3,1252.0 1362.3,1252.9 1365.2,1253.9 1368.2,1254.8 1371.2,1255.7 1374.2,1256.7 1377.1,1257.6 1380.1,1258.5" fill="none" stroke="#12ea12" stroke-width="3.5" stroke-linejoin="round" stroke-linecap="round" />
<polyline points="788.7,1192.1 791.7,1192.6 794.6,1193.1 797.6,1193.6 800.6,1194.1 803.6,1194.6 806.5,1195.1 809.5,1195.6 812.5,1196.1 815.4,1196.6 818.4,1197.1 821.4,1197.6 824.4,1198.1 827.3,1198.6 830.3,1199.1 833.3,1199.6 836.2,1200.1 839.2,1200.6 842.2,1201.1 845.2,1201.6 848.1,1202.1 851.1,1202.6 854.1,1203.1 857.1,1203.6 860.0,1204.1 863.0,1204.6 866.0,1205.1 868.9,1205.6 871.9,1206.1 874.9,1206.6 877.9,1207.2 880.8,1207.7 883.8,1208.2 886.8,1208.7 889.7,1209.2 892.7,1209.7 895.7,1210.3 898.7,1210.8 901.6,1211.3 904.6,1211.8 907.6,1212.3 910.5,1212.9 913.5,1213.4 916.5,1213.9 919.5,1214.4 922.4,1215.0 925.4,1215.5 928.4,1216.0 931.3,1216.6 934.3,1217.1 937.3,1217.7 940.3,1218.2 943.2,1218.7 946.2,1219.3 949.2,1219.8 952.2,1220.4 955.1,1220.9 958.1,1221.5 961.1,1222.0 964.0,1222.6 967.0,1223.2 970.0,1223.7 973.0,1224.3 975.9,1224.9 978.9,1225.4 981.9,1226.0 984.8,1226.6 987.8,1227.1 990.8,1227.7 993.8,1228.3 996.7,1228.9 999.7,1229.5 1002.7,1230.0 1005.6,1230.6 1008.6,1231.2 1011.6,1231.8 1014.6,1232.4 1017.5,1233.0 1020.5,1233.6 1023.5,1234.2 1026.4,1234.8 1029.4,1235.5 1032.4,1236.1 1035.4,1236.7 1038.3,1237.3 1041.3,1237.9 1044.3,1238.6 1047.3,1239.2 1050.2,1239.8 1053.2,1240.5 1056.2,1241.1 1059.1,1241.7 1062.1,1242.4 1065.1,1243.0 1068.1,1243.7 1071.0,1244.3 1074.0,1245.0 1077.0,1245.7 1079.9,1246.3 1082.9,1247.0 1085.9,1247.7 1088.9,1248.3 1091.8,1249.0 1094.8,1249.7 1097.8,1250.4 1100.7,1251.1 1103.7,1251.8 1106.7,1252.5 1109.7,1253.2 1112.6,1253.9 1115.6,1254.6 1118.6,1255.3 1121.5,1256.0 1124.5,1256.7 1127.5,1257.4 1130.5,1258.1 1133.4,1258.9 1136.4,1259.6 1139.4,1260.3 1142.4,1261.0 1145.3,1261.8 1148.3,1262.5 1151.3,1263.2 1154.2,1264.0 1157.2,1264.7 1160.2,1265.5 1163.2,1266.2 1166.1,1267.0 1169.1,1267.7 1172.1,1268.5 1175.0,1269.2 1178.0,1270.0 1181.0,1270.7 1184.0,1271.5 1186.9,1272.2 1189.9,1273.0 1192.9,1273.7 1195.8,1274.5 1198.8,1275.3 1201.8,1276.0 1204.8,1276.8 1207.7,1277.6 1210.7,1278.3 1213.7,1279.1 1216.6,1279.9 1219.6,1280.6 1222.6,1281.4 1225.6,1282.2 1228.5,1282.9 1231.5,1283.7 1234.5,1284.5 1237.5,1285.2 1240.4,1286.0 1243.4,1286.8 1246.4,1287.6 1249.3,1288.3 1252.3,1289.1 1255.3,1289.9 1258.3,1290.6 1261.2,1291.4 1264.2,1292.2 1267.2,1293.0 1270.1,1293.7 1273.1,1294.5 1276.1,1295.3 1279.1,1296.1 1282.0,1296.8 1285.0,1297.6 1288.0,1298.4 1290.9,1299.2 1293.9,1299.9 1296.9,1300.7 1299.9,1301.5 1302.8,1302.3 1305.8,1303.1 1308.8,1303.8 1311.7,1304.6 1314.7,1305.4 1317.7,1306.2 1320.7,1306.9 1323.6,1307.7 1326.6,1308.5 1329.6,1309.3 1332.6,1310.1 1335.5,1310.8 1338.5,1311.6 1341.5,1312.4 1344.4,1313.2 1347.4,1313.9 1350.4,1314.7 1353.4,1315.5 1356.3,1316.3 1359.3,1317.1 1362.3,1317.8 1365.2,1318.6 1368.2,1319.4 1371.2,1320.2 1374.2,1321.0 1377.1,1321.7 1380.1,1322.5" fill="none" stroke="#e80c10" stroke-width="3.5" stroke-linejoin="round" stroke-linecap="round" />
<text x="788.7" y="1428.5" font-size="16" fill="#000" text-anchor="middle" font-weight="normal" font-style="normal" >0.01</text>
<text x="1084.4" y="1428.5" font-size="16" fill="#000" text-anchor="middle" font-weight="normal" font-style="normal" >0.1</text>
<text x="1380.1" y="1428.5" font-size="16" fill="#000" text-anchor="middle" font-weight="normal" font-style="normal" >1</text>
<text x="782.7" y="1413.3" font-size="16" fill="#000" text-anchor="end" font-weight="normal" font-style="normal" >11</text>
<text x="782.7" y="1371.85" font-size="16" fill="#000" text-anchor="end" font-weight="normal" font-style="normal" >11.5</text>
<text x="782.7" y="1330.4" font-size="16" fill="#000" text-anchor="end" font-weight="normal" font-style="normal" >12</text>
<text x="782.7" y="1288.95" font-size="16" fill="#000" text-anchor="end" font-weight="normal" font-style="normal" >12.5</text>
<text x="782.7" y="1247.5" font-size="16" fill="#000" text-anchor="end" font-weight="normal" font-style="normal" >13</text>
<text x="782.7" y="1206.05" font-size="16" fill="#000" text-anchor="end" font-weight="normal" font-style="normal" >13.5</text>
<text x="782.7" y="1164.6" font-size="16" fill="#000" text-anchor="end" font-weight="normal" font-style="normal" >14</text>
<text x="782.7" y="1123.15" font-size="16" fill="#000" text-anchor="end" font-weight="normal" font-style="normal" >14.5</text>
<text x="782.7" y="1081.7" font-size="16" fill="#000" text-anchor="end" font-weight="normal" font-style="normal" >15</text>
<text x="782.7" y="1040.25" font-size="16" fill="#000" text-anchor="end" font-weight="normal" font-style="normal" >15.5</text>
<text x="782.7" y="998.8" font-size="16" fill="#000" text-anchor="end" font-weight="normal" font-style="normal" >16</text>
<text x="702.43" y="1199.25" font-size="17" fill="#000" font-weight="normal" font-style="normal" textLength="39.4" lengthAdjust="spacingAndGlyphs" transform="rotate(-90 728.8 1199.25)">M (M</text>
<text x="741.85" y="1207.55" font-size="13.5" fill="#000" font-weight="normal" font-style="normal" textLength="6.53" lengthAdjust="spacingAndGlyphs" transform="rotate(-90 728.8 1199.25)">J</text>
<text x="749.45" y="1199.25" font-size="17" fill="#000" font-weight="normal" font-style="normal" textLength="5.32" lengthAdjust="spacingAndGlyphs" transform="rotate(-90 728.8 1199.25)">)</text>
<path d="M877.71,1406.5v-3M877.71,992v3M929.78,1406.5v-3M929.78,992v3M966.73,1406.5v-3M966.73,992v3M995.39,1406.5v-3M995.39,992v3M1018.8,1406.5v-3M1018.8,992v3M1038.6,1406.5v-3M1038.6,992v3M1055.74,1406.5v-3M1055.74,992v3M1070.87,1406.5v-3M1070.87,992v3M1173.41,1406.5v-3M1173.41,992v3M1225.48,1406.5v-3M1225.48,992v3M1262.43,1406.5v-3M1262.43,992v3M1291.09,1406.5v-3M1291.09,992v3M1314.5,1406.5v-3M1314.5,992v3M1334.3,1406.5v-3M1334.3,992v3M1351.44,1406.5v-3M1351.44,992v3M1366.57,1406.5v-3M1366.57,992v3" stroke="#000" stroke-width="1.5" fill="none"/>
<text x="1085.16" y="1046.7" font-size="23.7" fill="#000" font-weight="bold" font-style="normal" textLength="257.33" lengthAdjust="spacingAndGlyphs" >D−Burning Edge vs. Z</text>
<text x="1054.3" y="1445.8" font-size="17" fill="#000" font-weight="normal" font-style="normal" textLength="31.89" lengthAdjust="spacingAndGlyphs" >Z (Z</text>
<text x="1086.9" y="1454.4" font-size="13" fill="#000" font-weight="normal" font-style="normal" textLength="21.74" lengthAdjust="spacingAndGlyphs" >sun</text>
<text x="1109.5" y="1445.8" font-size="17" fill="#000" font-weight="normal" font-style="normal" textLength="4.76" lengthAdjust="spacingAndGlyphs" >)</text>
<text x="800.9" y="1027.9" font-size="16.5" fill="#a040e8" font-weight="normal" font-style="normal" textLength="44.72" lengthAdjust="spacingAndGlyphs" >Z0.01</text>
<text x="800.9" y="1097" font-size="16.5" fill="#a040e8" font-weight="normal" font-style="normal" textLength="44.72" lengthAdjust="spacingAndGlyphs" >Z0.01</text>
<text x="800.9" y="1177.7" font-size="16.5" fill="#a040e8" font-weight="normal" font-style="normal" textLength="44.72" lengthAdjust="spacingAndGlyphs" >Z0.01</text>
<text x="1091.4" y="1089.6" font-size="16.5" fill="#6e6ee6" font-weight="normal" font-style="normal" textLength="35" lengthAdjust="spacingAndGlyphs" >Z0.1</text>
<text x="1091.4" y="1158.4" font-size="16.5" fill="#6e6ee6" font-weight="normal" font-style="normal" textLength="35" lengthAdjust="spacingAndGlyphs" >Z0.1</text>
<text x="1091.4" y="1233.2" font-size="16.5" fill="#6e6ee6" font-weight="normal" font-style="normal" textLength="35" lengthAdjust="spacingAndGlyphs" >Z0.1</text>
<text x="1239" y="1131.9" font-size="16.5" fill="#229ee8" font-weight="normal" font-style="normal" textLength="35" lengthAdjust="spacingAndGlyphs" >Z0.3</text>
<text x="1239" y="1199.4" font-size="16.5" fill="#229ee8" font-weight="normal" font-style="normal" textLength="35" lengthAdjust="spacingAndGlyphs" >Z0.3</text>
<text x="1239" y="1269.4" font-size="16.5" fill="#229ee8" font-weight="normal" font-style="normal" textLength="35" lengthAdjust="spacingAndGlyphs" >Z0.3</text>
<text x="1338.6" y="1169.7" font-size="16.5" fill="#6e6e6e" font-weight="normal" font-style="normal" textLength="35" lengthAdjust="spacingAndGlyphs" >Z1.0</text>
<text x="1338.6" y="1233.9" font-size="16.5" fill="#6e6e6e" font-weight="normal" font-style="normal" textLength="35" lengthAdjust="spacingAndGlyphs" >Z1.0</text>
<text x="1338.6" y="1299" font-size="16.5" fill="#6e6e6e" font-weight="normal" font-style="normal" textLength="35" lengthAdjust="spacingAndGlyphs" >Z1.0</text>
<text x="929" y="1062" font-size="24" fill="#0000e0" text-anchor="middle" font-weight="bold" font-style="italic" transform="rotate(17 929 1062)">90%</text>
<text x="929" y="1130" font-size="24" fill="#12ea12" text-anchor="middle" font-weight="bold" font-style="italic" transform="rotate(17 929 1130)">50%</text>
<text x="930" y="1211" font-size="24" fill="#e80c10" text-anchor="middle" font-weight="bold" font-style="italic" transform="rotate(17 930 1211)">10%</text>
</svg></body></html>
